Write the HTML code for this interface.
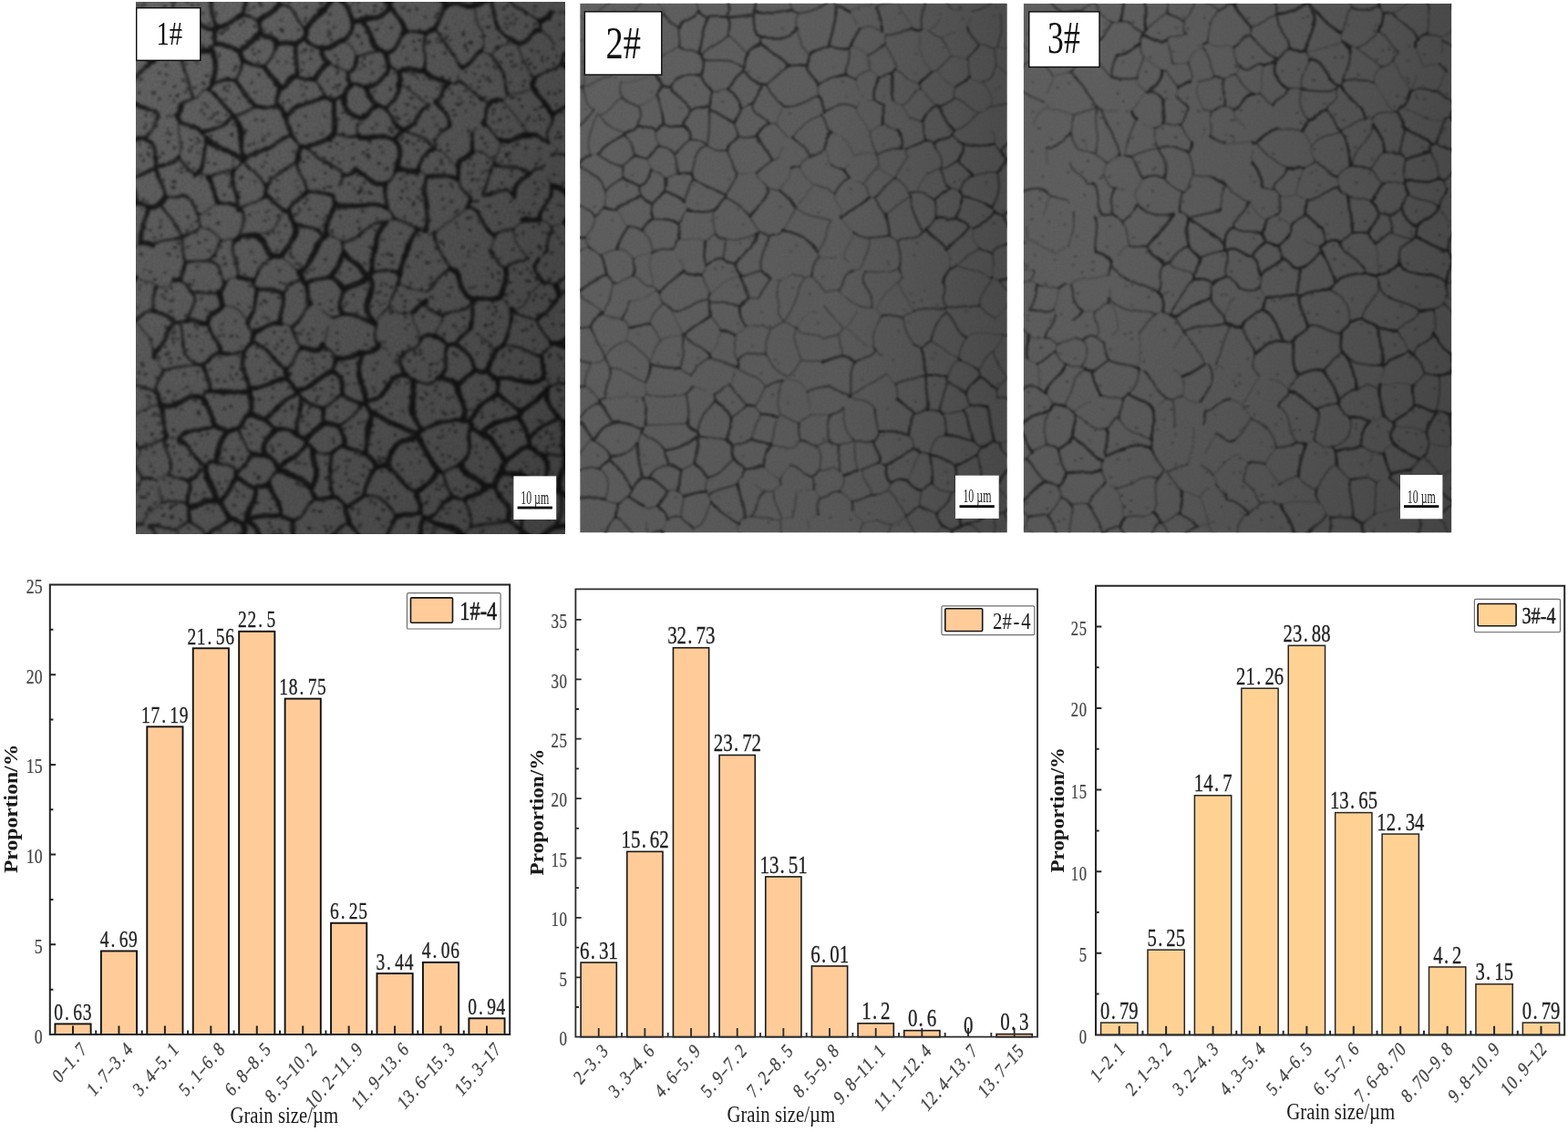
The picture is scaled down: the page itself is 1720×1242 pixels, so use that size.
<!DOCTYPE html>
<html lang="en">
<head>
<meta charset="utf-8">
<title>Grain size distribution</title>
<style>
html,body{margin:0;padding:0;background:#fff}
body{width:1720px;height:1242px;overflow:hidden}
svg{display:block}
text{white-space:pre}
</style>
</head>
<body>
<svg width="1720" height="1242" viewBox="0 0 1720 1242" role="img" aria-label="Micrographs and grain size distribution charts">
<defs>
<filter id="m1b" x="-5%" y="-5%" width="110%" height="110%" color-interpolation-filters="sRGB"><feTurbulence type="fractalNoise" baseFrequency="0.04" numOctaves="1" seed="11" result="t"/><feDisplacementMap in="SourceGraphic" in2="t" scale="8" xChannelSelector="R" yChannelSelector="G"/><feGaussianBlur stdDeviation="1.6"/></filter>
<filter id="m1n" x="0" y="0" width="100%" height="100%"><feTurbulence type="fractalNoise" baseFrequency="0.3" numOctaves="3" seed="3" result="t"/><feColorMatrix type="matrix" values="0 0 0 0 0  0 0 0 0 0  0 0 0 0 0  2.6 0 0 0 -0.8"/></filter>
<filter id="m2b" x="-5%" y="-5%" width="110%" height="110%" color-interpolation-filters="sRGB"><feTurbulence type="fractalNoise" baseFrequency="0.04" numOctaves="1" seed="12" result="t"/><feDisplacementMap in="SourceGraphic" in2="t" scale="6" xChannelSelector="R" yChannelSelector="G"/><feGaussianBlur stdDeviation="1.0"/></filter>
<filter id="m2n" x="0" y="0" width="100%" height="100%"><feTurbulence type="fractalNoise" baseFrequency="0.4" numOctaves="3" seed="4" result="t"/><feColorMatrix type="matrix" values="0 0 0 0 0  0 0 0 0 0  0 0 0 0 0  2.6 0 0 0 -0.8"/></filter>
<filter id="m3b" x="-5%" y="-5%" width="110%" height="110%" color-interpolation-filters="sRGB"><feTurbulence type="fractalNoise" baseFrequency="0.04" numOctaves="1" seed="13" result="t"/><feDisplacementMap in="SourceGraphic" in2="t" scale="6" xChannelSelector="R" yChannelSelector="G"/><feGaussianBlur stdDeviation="1.0"/></filter>
<filter id="m3n" x="0" y="0" width="100%" height="100%"><feTurbulence type="fractalNoise" baseFrequency="0.4" numOctaves="3" seed="5" result="t"/><feColorMatrix type="matrix" values="0 0 0 0 0  0 0 0 0 0  0 0 0 0 0  2.6 0 0 0 -0.8"/></filter>
<linearGradient id="m1h" x1="0" y1="0" x2="1" y2="0"><stop offset="0" stop-color="#000" stop-opacity="0.0"/><stop offset="0.25" stop-color="#000" stop-opacity="0.03"/><stop offset="0.5" stop-color="#000" stop-opacity="0.09"/><stop offset="0.8" stop-color="#000" stop-opacity="0.16"/><stop offset="1" stop-color="#000" stop-opacity="0.24"/></linearGradient>
<linearGradient id="m2h" x1="0" y1="0" x2="1" y2="0"><stop offset="0" stop-color="#000" stop-opacity="0.0"/><stop offset="0.6" stop-color="#000" stop-opacity="0.035"/><stop offset="0.85" stop-color="#000" stop-opacity="0.14"/><stop offset="1" stop-color="#000" stop-opacity="0.22"/></linearGradient>
<linearGradient id="m3h" x1="0" y1="0" x2="1" y2="0"><stop offset="0" stop-color="#000" stop-opacity="0.0"/><stop offset="0.16" stop-color="#000" stop-opacity="0.0"/><stop offset="0.55" stop-color="#000" stop-opacity="0.075"/><stop offset="0.85" stop-color="#000" stop-opacity="0.16"/><stop offset="1" stop-color="#000" stop-opacity="0.23"/></linearGradient>
<linearGradient id="m1v" x1="0" y1="0" x2="0" y2="1"><stop offset="0" stop-color="#000" stop-opacity="0.0"/><stop offset="0.5" stop-color="#000" stop-opacity="0.08"/><stop offset="1" stop-color="#000" stop-opacity="0.17"/></linearGradient>
<linearGradient id="m2v" x1="0" y1="0" x2="0" y2="1"><stop offset="0" stop-color="#000" stop-opacity="0.0"/><stop offset="0.5" stop-color="#000" stop-opacity="0.02"/><stop offset="1" stop-color="#000" stop-opacity="0.06"/></linearGradient>
<linearGradient id="m3v" x1="0" y1="0" x2="0" y2="1"><stop offset="0" stop-color="#000" stop-opacity="0.0"/><stop offset="0.5" stop-color="#000" stop-opacity="0.02"/><stop offset="1" stop-color="#000" stop-opacity="0.08"/></linearGradient>
</defs>
<rect width="1720" height="1242" fill="#fff"/>
<svg x="149" y="2" width="471" height="584" viewBox="0 0 471 584" overflow="hidden">
<rect width="100%" height="100%" fill="#646464"/>
<g fill="none" stroke="#1a1a1a" stroke-linecap="round" stroke-linejoin="round" filter="url(#m1b)">
<path id="m1p0" stroke-width="2.4" opacity="0.5" d="M69.7 188.3Q75.9 188.1 80.4 192.3M445.4 411.1Q453.3 414.8 452.4 423.5M451.1 273.8Q447.8 277.1 444.1 280.1M414.4 250.4Q419.9 245.2 424.4 239.1M414.4 250.4C412.6 262.4 424.9 273.2 429.7 281.4M455.8 246.3Q452.1 239.8 444.7 239.3M388.6 272C391.3 267.8 388.5 261.7 391 256.2M471 56.8Q479.9 56.6 482.5 48.2M47.2 592.6Q47.3 599.8 52.3 605.1M157.9 3.4Q157.3 -1.2 158.6 -5.6M273 243.1Q276.3 239.4 281.1 238.1M242.3 146.8C240.8 141.1 241.5 133.1 245.5 127.8M209.4 68.1C217.4 73.4 227.1 72.5 233.7 77M228.9 42.2C233.2 47 239.4 52.2 243.5 59.9M80.3 96.3C71.8 93.2 69.5 107.7 61.6 105.4M55.8 -16.1C47.6 -14.1 46.2 -4.6 40.9 0.1M34.7 126.8Q40.1 126.1 45.6 125.2M48.9 130.6C46.9 142.9 49.6 156.3 46 171.3M465.5 457.6Q466.1 458.8 467.4 459.4M228.5 191.3Q224.2 196.4 222.5 202.8M225.6 264.8C220.7 263 215.4 257.5 210.5 255.1M164.7 228.8C156.9 248 147.8 254.9 129.2 256.6M110.9 259.7C105.5 256.1 101.3 262.3 94.9 260.9M114.7 301.3C106.1 301 101.6 303.7 97.9 310M367 577.7Q364.6 580.7 362 583.5M244.1 586.5C252.1 586.2 263.5 585.1 274.6 590.3M474.1 10.1Q469.9 10.7 465.8 10.8M459.7 46C457.2 41.1 453.1 32.6 444.9 31.8M461.8 244.8Q458.4 244 455.8 246.3M394.4 176.9C393.6 166.3 401.9 158.8 400.4 151.4M400.4 108.1C416.6 120.8 423.9 137.5 431.1 148.2M408.5 100.8C420.3 101.6 429.5 98.9 434.5 91.5M408.5 100.8Q405 105 400.4 108.1M456.3 201.6Q454.7 197.7 453.7 193.6M391.8 58.2C396.6 49.1 406.2 43.4 418 47.7M391.8 58.2Q385.5 56.4 379.5 53.5M379.5 53.5C389.6 37.2 366.4 22.9 372.1 2.4M438.1 85.4C426.9 72.4 426.6 61.4 418 47.7M405 -7.8Q397.6 -6.1 390.7 -2.9M413.4 335.9C432.8 334.1 431.1 315.1 445.8 306.3M322.1 111.2C309.6 105.2 300.6 95 289 91.9M374.7 139.9Q371.4 142.4 369 145.8M394.7 176.8C386.1 169.6 377.6 161.6 368.2 164M287.6 308.4C298.5 312.1 308.5 314.8 319.3 316.3M365 225.9C354.9 233.3 339.5 240.4 326.5 253.6M40.9 0.1C36.3 5.5 39.4 13.2 35 18.2M90.9 221.1C82.5 225.5 78.4 233.5 68.3 234M94.9 260.9C89.9 255.1 80.7 248.2 70.6 247.1M274.7 380.7Q270.5 377.8 266 375.6M311.3 370.7C310.2 359.1 300.6 352.4 305.1 340.5M305.1 340.5C296.4 342.1 288.1 343.3 278.7 337.9M261.9 350.6Q264.8 343.5 272.4 342.7M330.3 367.8C328.4 359.6 337.4 353.6 336.8 346.2M394.7 382.7C388.4 379.1 383.7 373.9 378.6 367.9M412.4 334.4C406.1 332.7 405.5 324.5 399.6 323.9M159.7 279.6C164.2 285 175.1 288.2 178.7 296.3M27.4 443.2C17 442.6 8.2 444.8 1.3 451.6M20.9 390.2C21.8 370.4 5.2 364 0 349.5M-12.3 348.5Q-6.3 351.5 0 349.5M30.5 403.4C24 400.3 27.7 391.6 22.1 386.8M353.5 181.7C342.4 177.2 338.4 160.1 327.6 159.3M310.1 186.5Q316.3 188.1 320.6 192.8M-9.4 271.9C-6.2 267.5 1.4 271.4 5 265.5M22.9 313.2C29.4 315.5 36.4 313.5 40.5 305.4M9.5 307.4Q17 308.3 22.9 313.2M204.5 376C208.9 369.9 210.4 364.6 212.4 357.4M217.3 345.8Q210.8 343.1 205.7 338.3M170.7 356.5Q164.8 354.6 158.7 353.9M95.3 332.6C107.6 334.4 116 340.3 123.3 351.6M7.6 571.9C9.1 560.7 22.2 556.3 28.6 549.8M4.2 491.6C6.2 497.5 1.2 502.6 -2.3 505.8M35.1 516.5Q31.7 518.5 29 521.3M-8.3 541.1C2.4 538.7 3.4 533 5.7 523.6M28.6 549.8C27 544.4 26 538.7 24.8 533.7M258.3 295.8Q253.9 296.1 249.6 297.1M33.9 478.1Q37.8 480.2 42.1 478.9"/>
<path id="m1p1" stroke-width="3.3" opacity="0.72" d="M-19.4 609C-7.5 599.8 -6.1 582 1.3 572.4M117.7 172.9Q113.7 179 108.2 183.8M80.4 192.3C91.8 189.8 101.2 186.5 108.2 183.8M143.5 203.4C141.9 190.4 121.7 188.4 118.2 171.5M143.5 203.4C148.6 188.8 166.7 182.5 177.4 174.3M72.4 143.5Q75.5 146.7 77.7 150.5M133 112.6C124.8 116.8 116.8 126.4 107.3 126.3M4.6 113.6C-16.3 111.6 -29.2 128.8 -48.7 132M10 148.3C16.2 142.8 23.2 137.6 24.7 128.2M490.8 275.5C484.6 261.1 480 251.1 468.9 242.9M451.1 273.8C449.3 264.2 455.2 255.6 455.8 246.3M388.6 272C395.6 278.2 399.3 287.5 407.1 293M391 256.2C399 250.2 406.7 252.6 414.4 250.4M407.1 293C413.9 286.2 423.3 286.5 429.7 281.4M468.7 66.9C458.1 76.2 447.8 76.2 438.1 85.4M488.7 418.4C477.2 422.4 462.3 414.9 451.1 424.6M446.4 390.7C448.5 384.7 456.1 380.1 456.2 374.5M58.3 568.4C63.9 573.2 77.2 579.4 77.1 590.4M58.3 568.4C55.1 572.7 48.1 576 42.3 580.3M14.1 573.6C23.5 572.2 31 578.7 42.3 580.3M14.1 573.6C26.2 584.4 19.5 600.5 22.7 611.8M187.2 30.3C176.6 23.7 175.8 3.3 157.9 3.4M413.6 214C405.7 196.7 390.3 216.2 379.6 212.1M310.4 249.6C300.4 244.1 290.3 237.6 281.1 238.1M242.3 146.8C233.4 150.8 225.5 145.2 217 144.6M270.2 54.1C262.6 56.2 252.8 54.4 243.5 59.9M207.6 104.2C207.4 97.6 200.8 88.5 197.8 82.9M153.6 46.7C152.9 58.1 145.1 64.5 139.7 70.7M118.5 64.4C117.3 71 111.9 79.8 109.6 86M285.4 185.8C281.6 189.9 279.8 196 273.8 199.6M187.5 159.2C197.1 175.2 216.5 177.3 228.5 191.3M117.8 16.4C124.3 15.7 130.3 19.5 135.2 21.6M48.5 115.3C50.6 110.9 57.3 108.2 61.6 105.4M-4.6 -37.6C11.4 -30.4 29.2 -12 40.9 0.1M-23.1 84.4C-16.4 84.9 -10.2 87.1 -4.1 89.1M65.9 190.4C58.4 187.1 53.7 176.1 46 171.3M447.9 497.9C456.1 495 464.1 502.4 471.7 497.2M460.2 577.3C468.1 562.1 469.5 550.3 467.5 536.9M242 608.6C245 601.7 243.1 595 244.1 586.5M177.4 174.3C173.7 185.5 188.9 194.8 188.6 208.3M273 243.1C251.3 241.9 241.1 264.8 225.6 264.8M281.1 238.1Q280.1 231.6 275.1 227.3M141.4 210.2C135.2 221.8 121.3 219.5 115.5 226.2M115.5 226.2C121 235.9 117 245 114.7 256M152.7 279C138.6 283.9 133.9 293.6 129.1 306.8M110.9 259.7C99.7 276.1 113.6 286.1 114.7 301.3M94.9 260.9C88.5 265.6 87.2 279.4 79.8 284M79.8 284C93.8 286.7 90.3 301.3 97.9 310M407.7 568.7C397.2 575.1 379.1 569.8 367 577.7M250.1 541.5C265.1 541.2 280.2 552.4 286.7 562.9M359.7 546.3C364.2 557.9 369.6 565.9 367 577.7M479.8 2Q476.7 5.9 474.1 10.1M444.9 31.8Q444.7 27 443.6 22.3M405 -7.8C416 6.8 429.3 13.7 443.6 22.3M394.4 176.9C408.3 183.8 420.2 176.4 431.1 187.5M431.1 187.5C435.5 182.5 443.9 181.5 449 179.4M380.4 134C390.8 134.3 389.4 148.8 400.4 151.4M458.5 125.3C459.8 135.9 448 141.3 452.2 153.3M488.4 169.6C479.4 170.1 466.2 162 456.3 168.7M379.6 212.1C384.2 200.1 388.7 188.7 394.7 176.8M408.5 100.8C405.1 88.1 401.1 69.4 391.8 58.2M354.2 87.3C369.3 92.6 374.9 108.5 387.6 111.3M357.7 73.4C346.9 56.7 342.4 45.2 327.7 29.6M486.8 281.2C480.1 294 471.9 303 461.8 310.1M445.8 306.3C449.6 308 456 306.4 461.8 310.1M413.4 335.9C419.2 341.7 429.6 347.4 439.2 349.3M456.2 374.5C450.5 364.9 441.4 360.3 439.2 349.3M1.3 572.4Q4.4 571.9 7.6 571.9M277.4 70.9Q284.4 72.3 288.5 78.1M315.6 73.1C319.3 58.8 312.4 49.9 317.2 35.8M354.2 87.3Q349 91.3 342.7 89.5M326.5 253.6C327.3 266.2 340.2 281.2 345.1 292.8M310.4 249.6Q314 252.3 318.4 252.7M319.3 316.3C328.3 310.7 334.5 298.6 345.1 292.8M50.6 58.1C43.7 60.6 37.9 50.9 29.9 50.8M29.9 50.8C25.3 42.7 32.1 34.8 28.1 25.2M83.4 54.8Q82.9 49.5 87.6 47M28.1 25.2Q32.1 22.3 35 18.2M61.6 105.4C59 90.5 51.4 77.4 50.6 58.1M-9.4 16.3C6 11 15.8 10.9 28.1 25.2M51.5 210.9C61 214.4 63.1 227.8 68.3 234M56.3 285.7C64.7 284.5 70.7 284.5 79.8 284M56.3 285.7C50.7 275.6 49.8 269.5 50.2 258.3M50.2 258.3C56.7 253.6 64.9 255.3 70.6 247.1M68.3 234Q71 240.3 70.6 247.1M51.5 210.9C46 216.1 38.7 211.2 33.6 213.4M289.9 389.6C297.1 381.9 309.4 379.8 311.3 370.7M266 375.6C259.6 366.9 263.1 357.6 261.9 350.6M336.8 346.2C332 340.1 317.8 342.7 319.2 328.4M287.6 308.4C284.7 315.9 281 326.3 278.7 337.9M297 409.8Q301.2 411.9 304.3 415.5M253.6 439.7Q254.2 441.3 253.5 442.9M215.2 495C208.5 494.2 200.8 497.1 195.5 492.5M308.6 473Q307.8 474.6 308.3 476.3M304.3 415.5C312.2 416.5 324 425.4 333.8 411.8M446.4 390.7C431.6 391.9 418.8 372.8 403.2 377.3M336.8 346.2C344.5 334.1 361.2 340.4 369.7 328.8M80.4 426.2Q75.1 429.8 74.6 436.2M68.6 398.8C56 399 44 400.6 30.5 403.4M30.5 403.4C25.9 411.2 16.9 421.9 24.5 431.3M24.5 431.3C9.3 420.7 -20.1 414.8 -36.2 413.1M187.6 612.1C181 603.5 172.6 597.8 172.9 587.7M198.4 544.6C187.9 549.2 186.8 566.3 172.9 569.4M366.8 219.4C367.6 210.9 356 203.9 353.3 194.9M344.2 138.9C337.2 143.4 327.9 146.2 327.6 159.3M294.8 139.6C304 148.4 318.3 146.2 326.6 159.9M27.1 221.1C32.7 232 47.3 242.8 49.9 258M49.9 258C38.5 264.1 27.1 258.1 17.2 268.2M22.9 313.2C18.3 322.2 20.9 331.4 19 338.1M60.6 316.1C58 308.4 53.7 307 46.4 304.5M60.6 316.1C73.8 329.9 57.7 335.5 55.9 348.3M55.9 348.3Q52.3 351.3 47.6 351.3M43.8 352.1Q45.8 352.1 47.6 351.3M0 349.5C6.6 344.6 10.5 339.1 19 338.1M91.5 319.8C82.8 315.3 70.2 324.2 60.6 316.1M68.6 398.8C43.6 389.1 56 364.3 47.6 351.3M249.1 441.8C238.3 447.4 234.8 463.6 222.8 466M226.7 429.8C217.2 432.2 215.3 440.7 205.9 445.5M178.9 428.8Q177.4 427.2 175.3 426.3M204.5 376C208 380.8 217.3 382.1 219.7 391.4M226.8 342.3Q222.3 344.7 217.3 345.8M170.7 356.5C174.2 363.3 175.9 375.5 182.4 379.5M170.7 356.5C183.3 349.5 182.6 337.7 193.5 330.4M348.9 543.6C343.2 538 339.7 527.8 336.7 517.6M309.7 560.3Q313.2 563.6 317.8 565.2M359.7 546.3Q353.9 546.5 348.9 543.6M355.8 508.4C349.6 510.9 341.8 511.8 336.7 517.6M123.3 351.6Q125.3 358.4 130.5 363.2M182 303.5C171.3 306.7 163.7 309.5 159.6 320.3M129.1 306.8Q128.5 312.6 133.6 315.4M182.4 379.5C173.8 384.2 174.7 400.5 165.4 404M56.9 550.3C47.3 545.9 36 551.8 28.6 549.8M4.2 491.6C13.6 488.1 22.6 484.7 32.2 478.9M32.2 478.9C30.6 490.6 40.3 501.7 35.1 516.5M-2.3 505.8C-3.1 512.5 3.5 516.2 5.7 523.6M5.7 523.6C11.2 524.3 19 522.2 23 526M-23.3 466.1C-12.8 471.8 -3 484.3 4.2 491.6M-25.5 511.8C-18.3 506.4 -10.2 511.4 -2.3 505.8M55.8 524.4C48.8 523.1 42.1 522 35.1 516.5M249.6 297.1Q252.4 297.3 254.8 298.6M225.6 264.8Q225.3 270.5 229.1 274.8M109.8 470C118.1 479.3 117.8 493.5 129.2 496M89 504.5C96.7 506.9 108.1 506.6 112.3 517.5M155.8 515.6Q147.7 518.9 146.1 527.4"/>
<path id="m1p2" stroke-width="4.4" opacity="0.85" d="M69.7 188.3C76.6 174.4 73.8 160.6 77.7 150.5M169.6 146C174.2 150.5 178.9 155.5 181.1 160.3M169.6 146C154.6 155.8 140.5 164.8 119.4 171.9M72.4 143.5C87.9 143.3 99 132.3 107.5 125.4M118.2 171.5Q118.1 172.3 117.7 172.9M109.6 86C116.1 97.8 122.5 103.3 133 112.6M109.6 86C102.2 83.2 93.5 86.6 84.8 89.9M107.5 125.4C100 116.8 91.2 106.8 80.3 96.3M84.8 89.9Q83.7 93.9 80.3 96.3M-24.9 161.3C-9.9 163.2 -4.5 148 10 148.3M4.6 113.6C11.3 115.6 25.5 116.5 24.7 128.2M432.8 479.2C440.6 463.6 452.6 464.7 465.5 457.6M395.8 428.8C404.6 432 411.6 441.5 422.5 449.2M468.9 242.9C473.7 237.5 474.9 231.4 483.6 230.7M468.7 66.9C477.1 75.7 483.4 91.7 496.2 101.1M458.5 125.3C471.2 112.1 486 107.2 496.2 101.1M468.7 66.9Q469.7 61.8 471 56.8M446.4 390.7C447.6 396.1 445.9 404.7 445.4 411.1M153 -16.9Q155.1 -10.9 158.6 -5.6M391 256.2C377.4 247.4 385.4 229.2 365 225.9M365 225.9Q363.6 222 366.8 219.4M288.5 301C279.2 290 267.1 293.4 258.3 295.8M216.4 107.2Q221.9 104.9 227.6 103.7M243.5 59.9C243.4 66.2 240.5 73 233.7 77M237.1 19.8C237.2 28.6 234.9 37.9 228.9 42.2M185.7 39.5C191.1 46 196.2 51.3 205.2 50M207.6 104.2C190.8 110.1 177.7 112.5 165.4 127M197.8 82.9C191.8 83.5 181.2 86.2 175.6 82.3M156.7 96.4C155 100.5 153.9 106.9 155.1 112.9M236.7 91.6Q233.5 84.7 233.7 77M169.6 146C168.9 139.7 165.5 133 165.4 127M181.1 160.3Q183.7 156.3 187.5 159.2M176 46C172.3 59.1 180.4 68.4 175.6 82.3M118.5 64.4C123.8 67.1 132.7 71.1 139.7 70.7M133 112.6C138.8 113.6 148.2 116.2 155.1 112.9M245.3 149Q244.6 146.9 242.3 146.8M240.9 183.9Q236.4 190.6 228.5 191.3M115.3 -23.7C119.4 -9.4 122.9 2.1 117.8 16.4M136.8 33.3Q135.8 27.5 135.2 21.6M72.4 143.5C65.7 133.6 55.5 135.6 48.9 130.6M45.6 125.2Q47 128 48.9 130.6M45.6 125.2Q49.6 121 48.5 115.3M81 -7.9C82.1 4.6 82.3 14.4 91.7 26.7M-18.8 50.6C-6.5 45.7 3.5 60.7 14.8 65.4M14.8 65.4C10.3 76.3 -0.1 78.8 -4.1 89.1M4.6 113.6C-6.9 108.4 -8.5 98.4 -4.1 89.1M10 148.3C27.1 155.5 21 167.8 22 182.9M22 182.9C28.4 179 41 179.9 46 171.3M69.7 188.3Q67.5 188.7 65.9 190.4M439 588.4C448.6 596.9 451.8 605 453.2 615M467.5 536.9Q467.8 538.2 468.8 539.1M422.5 580.1C422 565.7 424.1 540.6 443.9 533.6M469.1 461C473.2 471.6 462.3 488.2 473.2 498.2M473.2 498.2C497.7 491.8 518 497.7 539.5 502.9M471.7 497.2Q472.2 498.1 473.2 498.2M250.1 541.5C243.8 544.5 237.2 550.4 230.3 553.2M250.1 541.5C249.6 531.1 259.7 516.9 264.8 508.7M216.8 543.7C223.8 544.4 226.1 547.9 230.3 553.2M216.8 543.7C215.1 525.9 205.9 513.6 215.2 495M215.2 495Q220.8 489.6 228.5 488M228.5 488C235.4 493.3 245.3 493.2 251.2 495.4M187.6 612.1C200.3 595.1 216.1 579.5 233.5 572.1M233.5 572.1C236.9 578.3 243 581.3 244.1 586.5M108.2 183.8C97.8 197.6 116.1 207.5 110.8 222.3M110.8 222.3C103.2 217.8 96.1 222.3 90.9 221.1M273.8 199.6C275.3 207.7 277.1 219.7 275.1 227.3M217.2 222.2Q215.6 217.8 217 213.5M217 213.5C208 212.4 198.8 209 188.6 208.3M141.4 210.2C147.4 218.4 158.2 224.3 164.7 228.8M143.5 203.4Q142.4 206.8 141.4 210.2M110.8 222.3Q112.6 224.9 115.5 226.2M188.6 208.3C185.4 217.4 167.2 217.8 169.8 230.9M169.8 230.9Q167.2 230 164.7 228.8M422.5 580.1C416.4 576.1 411.7 573.2 407.7 568.7M286.7 562.9C283 571.2 278 582.6 274.6 590.3M355.8 508.4C372.4 499.5 360.6 482.5 367.2 468.9M367.2 468.9Q373.2 470.8 378.8 473.8M407.7 568.7C412.6 553.5 396.6 545.9 394.1 530.3M479.8 2C474.8 -18.4 473.5 -30.6 461.2 -46.8M485.8 35.3C484.3 24.5 478.7 17.9 474.1 10.1M444.7 239.3C444.9 227.4 453 214.9 456.3 201.6M431.1 148.2C439.5 144.9 444.9 152 452.2 153.3M380.4 134C386.7 126.2 379.1 118.2 387.6 111.3M387.6 111.3Q393 105.6 400.4 108.1M413.6 214C415.5 203 421.5 195.8 431.1 187.5M418.5 45.9C395.9 33.2 388.4 19.7 390.7 -2.9M372.1 2.4Q377.2 3.1 381.5 0.4M390.7 -2.9Q386.4 -0.4 381.5 0.4M357.7 73.4C367 70.6 368.4 58.3 379.5 53.5M327.7 29.6C331.5 22.7 335.8 11.4 340.3 6.1M444.9 31.8C434.2 32.5 429.4 48.6 418.5 45.9M379 -2.3Q381.3 -1.9 381.5 0.4M440.7 283.2C433.7 292 439.4 300 445.8 306.3M439.2 349.3C445.9 340.4 459.9 331.9 466.1 319.3M294.8 139.6C310.5 135 308.6 118.4 322.1 111.2M294.8 139.5C283.2 134.2 282.9 125.7 274.5 117.7M289 91.9C292.2 105.7 280.4 110.9 274.5 117.7M236.7 91.6C242.2 88 247.3 93.7 252.1 93.3M274.5 117.7Q270.5 114.2 265.2 113.6M273.8 56.2C287.7 54.8 287.7 41.2 294.5 33.8M317.2 35.8C309 32.4 302.9 32.1 294.5 33.8M252.1 93.3C264.6 92.7 275.3 87.2 277.4 70.9M342.7 89.5C336 95.5 337.2 103.5 329.7 109.4M368.2 164C367.8 157.5 367.7 152.2 369 145.8M329.7 109.4C336.5 119.7 345.1 126.4 344.2 138.9M288.5 301Q288.9 304.8 287.6 308.4M88.3 28.5C69.4 33.2 58.9 5.8 35 18.2M18.4 64.9C19 58.5 25.7 56.6 29.9 50.8M91.7 26.7Q90 27.6 88.3 28.5M22 182.9Q21.5 183.4 20.8 183.9M20.8 183.9C22.1 195.6 35.7 203.7 33.6 213.4M20.8 183.9C10.4 189.2 -2 191.5 -11.1 190.5M-11.1 190.5C-5.5 199.3 0.3 209.9 0 220.8M-0.3 303.2C-8.6 298.9 -8.9 285.5 -13.7 279.9M330.3 367.8C323 367.6 316.4 362.9 311.3 370.7M258.9 452.1Q255.9 447.7 253.5 442.9M297 409.8C293 403.8 290.7 395.9 289.9 389.6M371.5 403.3C368.7 391.5 360.8 381.2 351 376M333.8 411.8C344.1 399.6 337.2 386.9 341.8 375.5M341.8 375.5Q346.5 374.7 351 376M358.4 458.9C339.4 458 329.2 461.4 311.5 468.9M330.3 367.8Q337.4 369.7 341.8 375.5M403.2 377.3Q398.8 379.7 394.7 382.7M403.2 377.3C410.8 361.5 415 351.6 412.4 334.4M368.3 358.4C370.6 348.4 370.8 340 369.7 328.8M413.4 335.9Q413.1 335 412.4 334.4M351 376C356.4 367.7 363.5 366 368.3 358.4M174.1 241.8C185.6 251.7 201.6 244.6 207.1 258.2M152.7 279Q156.1 279.9 159.7 279.6M169.8 230.9Q171.7 236.5 174.1 241.8M73.9 397.4Q71.2 398.1 68.6 398.8M73.9 397.4C75.3 406 81.4 414.1 80.4 426.2M26.4 443.4Q25.6 437.3 24.5 431.3M20.9 390.2Q21.4 388.5 22.1 386.8M141.8 592.8C148.2 582.3 161.6 590.8 172.9 587.7M172.9 587.7C169.1 582.3 172.9 576.1 172.9 569.4M353.3 194.9Q354.3 188.3 353.5 181.7M353.3 194.9C344 192.5 333 189.7 320.6 192.8M310.1 186.5C313.7 176.7 313.1 165.8 326.6 159.9M326.6 159.9Q327 159.4 327.6 159.3M318.4 252.7C325.4 232.2 313 207.6 320.6 192.8M14.7 225.2C14.9 236.9 1.9 253.5 5 265.5M0 220.8Q8.1 220.5 14.7 225.2M19 338.1C27.1 339.2 36 344.3 43.8 352.1M46.4 304.5Q43.6 306 40.5 305.4M22.1 386.8C31 375.3 31.9 361.5 43.8 352.1M56.3 285.7C52.7 291.4 53.8 300.8 46.4 304.5M97.9 310Q96 315.8 91.5 319.8M79.3 351.7C72.5 355.4 63.2 346.7 55.9 348.3M73.9 397.4C80.1 392.4 81.5 385.3 91.7 384M79.3 351.7C82.2 363.7 95 371.7 91.7 384M249.1 441.8C242.6 438.6 233 436.7 226.7 429.8M253.5 442.9Q251.5 441.4 249.1 441.8M177.3 475.4C176.8 461.7 181.8 450.1 180.9 432.9M180.9 432.9C187.5 440.9 196.2 442.4 205.9 445.5M195.5 492.5Q192.2 487.3 187.1 483.8M219.7 391.4C218.1 396.9 217.7 401.4 215.2 406.3M180.9 432.9Q180.5 430.6 178.9 428.8M261.7 351.3C251 349.5 240.8 344.3 226.8 342.3M348.9 543.6C335.3 544.3 332.8 565.4 317.8 565.2M336.7 517.6Q333.5 516.6 331.8 513.7M315.8 564.7Q316.9 564.9 317.8 565.2M274.2 507.1C283.9 514.2 290.7 530.5 308.4 538M158.7 353.9C157.2 344.6 161.2 331.2 159.6 320.3M159.6 320.3C153.3 312.5 142.3 316.7 133.6 315.4M133.6 315.4C134.5 326.6 126.3 337.3 123.3 351.6M185.2 309.2C189.5 314.7 188.3 324.4 193.5 330.4M118.2 383.4Q121.1 377.1 127.4 374.4M118.2 383.4C113.3 397.4 125.8 412.9 124.7 424M127.4 374.4C146 374.8 149 395.4 165.4 404M91.7 384C98.4 387.4 108 383.2 118.2 383.4M124.3 427.8Q124.1 425.9 124.7 424M58.3 568.4C61.1 564.6 54.8 558 59.8 553.1M33.9 478.1Q33.1 478.6 32.2 478.9M33.9 478.1C28.7 468.5 30.5 456.9 27.4 443.2M56.9 550.3C56.7 541.5 67.8 531.6 55.8 524.4M226.8 342.3C218.8 331.7 227.8 323.7 227.6 315.1M185.2 309.2C194 302.9 203.8 304.6 214.1 301.9M77.1 590.4C82 581.1 97.1 576.3 102.9 566.5M117.6 570.7Q120.5 570.4 123.2 569.5M178.9 428.8C166.9 439.1 151.6 443.8 143.6 459.1M143.6 459.1Q147.9 463.8 152.7 468M84.7 463.7C74.8 471.1 55 465.2 47.2 479.4M89 504.5Q79.2 502.2 75.8 511.6M47.2 479.4C63.5 486.2 61.3 502.6 75.8 511.6M129.2 496C120.5 501.5 119.1 512.3 112.3 517.5M55.8 524.4C63.9 524.9 68.1 512.6 75.7 512.6"/>
<path id="m1p3" stroke-width="5.6" opacity="0.92" d="M279 0.8C285.5 -10.7 296.4 -15.6 305.8 -20.6M279 0.8C263.9 -5 249.2 -17.4 242.1 -35.4M237.1 19.8Q242.3 21.1 247.4 19.4M237.1 19.8C233.5 7.3 228.6 -0.7 219.3 -5.4M279 0.8Q278.8 2.1 278.8 3.5M278.8 3.5C273.6 14.9 261.3 18.6 247.4 19.4M219.3 -5.4Q219.7 -11.2 218.2 -16.8M77.7 150.5C84.5 162.5 106.4 158.7 117.7 172.9M119.4 171.9Q118.8 171.8 118.2 171.5M177.4 174.3Q177.8 166.9 181.1 160.3M119.4 171.9C115 155 118.6 142.2 107.3 126.3M432.8 479.2C428.3 469.1 422.2 462.3 419.8 454.6M419.8 454.6Q421.1 451.9 422.5 449.2M422.5 449.2C434.3 441.2 444.8 435.9 452.4 423.5M465.5 457.6C460.3 449.3 449.1 436.8 451.1 424.6M451.1 424.6Q452 424.3 452.4 423.5M396.8 414.2C412 409.2 429.2 422.7 445.4 411.1M396.8 414.2Q397.6 421.6 395.8 428.8M424.4 239.1C430.2 238.4 437.5 242.2 444.7 239.3M438.1 85.4Q435.2 87.8 434.5 91.5M434.5 91.5C440.6 106.9 454 114.9 458.5 125.3M391.1 -78.6C377.9 -50.2 390.2 -24.1 379 -2.3M379 -2.3C376.8 -25.9 347.2 -45.7 343.4 -76.2M494.6 392.1C489.7 372.8 472.6 383 462.9 374.3M456.2 374.5Q459.5 372.8 462.9 374.3M187.2 30.3C197 18 206.2 3.9 219.3 -5.4M206.8 -17.3C192.3 -20.7 175.1 -19.7 158.6 -5.6M288.5 301C289.9 283.6 301.5 265.7 310.4 249.6M258.3 295.8C261.1 276.8 263.7 254.8 273 243.1M245.5 127.8C233.4 123.4 227.4 116.9 227.6 103.7M217 144.6C218.8 131.6 217.2 121.9 216.4 107.2M205.2 50C201.5 56.2 202.1 64 209.4 68.1M205.2 50C213.9 53.9 219.1 43.4 228.9 42.2M187.2 30.3Q189.3 35.4 185.7 39.5M247.4 19.4C256.8 30 251.8 47.1 270.2 54.1M175.6 82.3C166.1 83.2 165.8 97.8 156.7 96.4M165.4 127C165.2 119.7 159.1 115.5 155.1 112.9M236.7 91.6Q231.9 97.5 227.6 103.7M216.4 107.2Q211.4 107.4 207.6 104.2M209.4 68.1C204 71.3 200.9 77.5 197.8 82.9M187.5 159.2C198.5 151.9 210.1 157.6 217 144.6M176 46Q181.1 43.1 185.7 39.5M176 46C169.8 46.6 162.3 42.8 153.6 46.7M139.7 70.7C144 78.5 155.8 87.5 156.7 96.4M284.6 151.8C291.7 161.5 288.2 176.6 285.4 185.8M284.6 151.8C275.2 144 255.6 150.2 245.3 149M273.8 199.6C259.1 200.5 250.2 188.6 240.9 183.9M118.5 64.4Q116.3 60 114.1 55.6M153.6 46.7C151.8 36.8 139.9 38.9 136.8 33.3M114.1 55.6C125 48.7 128.2 36.3 136.8 33.3M157.9 3.4C152.2 11.6 144.5 14.5 135.2 21.6M117.8 16.4C108.4 19.7 103.3 26.3 91.7 26.7M18.4 64.9Q16.6 65.2 14.8 65.4M439 588.4C445 585.2 451.9 579.8 460.2 577.3M460.2 577.3C469.1 576.4 480.5 571.9 488.8 579.4M447.9 497.9C453.2 512 450.3 520.6 444 533.2M471.7 497.2C474 513.3 460.2 522.6 468.8 539.1M443.9 533.6C451.8 534 459.4 539.2 467.5 536.9M424.8 581.8Q423.4 581.3 422.5 580.1M424.8 581.8C429.9 584.7 434.7 588.3 439 588.4M499.6 543.3C490.3 545.9 477.2 545 468.8 539.1M469.1 461C486 464.9 511.4 458.2 529.2 454.4M433.8 485.7C439.3 489.9 443.1 495.4 447.9 497.9M433.8 485.7Q432.9 482.5 432.8 479.2M264.8 508.7C263.7 503 258.1 498.9 251.2 495.4M80.4 192.3C87.3 202.5 83.7 215 90.9 221.1M275.1 227.3C260.8 216.6 238.1 228.2 217.2 222.2M217.2 222.2C214.9 230.7 208 241.6 210.5 255.1M129.2 256.6Q122 254.8 114.7 256M152.7 279C141.6 278.5 143.9 259.4 129.2 256.6M110.9 259.7Q113.2 258.2 114.7 256M114.7 301.3Q122.1 303.6 129.1 306.8M424.8 581.8C417.4 591 404.3 596 402.3 608.6M359.8 609.7C359.8 602.9 354.2 594.7 359.5 586.3M233.5 572.1C234.8 565.3 228.3 559.9 230.3 553.2M359.5 586.3C351.2 571.2 327.1 575.4 315.8 564.7M315.8 564.7C309.8 577 309.4 592.7 309.9 603.3M401.5 516.8Q396.1 522.6 394.1 530.3M401.5 516.8Q402.3 509.7 405.2 503.1M405.2 503.1C397.5 494.2 393.1 475.2 378.8 473.8M382.8 530.9C374.5 519.9 360.8 522.4 355.8 508.4M382.8 530.9Q388.5 530.9 394.1 530.3M444 533.2C434.3 519 417.5 520.1 401.5 516.8M433.8 485.7C421.3 487.7 413.1 496.7 405.2 503.1M419.8 454.6C405.9 460.8 390.1 462.4 378.8 473.8M359.7 546.3C368.2 539.3 376.5 541.1 382.8 530.9M395.8 428.8C381.7 438 374.5 447.3 364.6 460.4M364.6 460.4Q368 464 367.2 468.9M443.6 22.3Q450.2 18.3 454.4 11.7M483.2 225.2C473.3 221 473 202.9 456.3 201.6M431.1 148.2C420.3 143.3 412.1 155.5 400.4 151.4M340.3 6.1C349.5 -3.6 360.4 8.4 372.1 2.4M318.3 -18.9C321.1 -4.1 343.2 -7.8 340.3 6.1M462.9 374.3C476.1 370.8 482.9 358.1 490.2 344.2M461.8 310.1Q465.3 314.1 466.1 319.3M245.5 127.8C255.2 128.4 254.8 115.4 265.2 113.6M252.1 93.3C255.3 101.5 259.2 109.3 265.2 113.6M284.6 151.8C285.4 146.1 292.2 145.1 294.8 139.5M273.8 56.2Q276.4 63.4 277.4 70.9M288.5 78.1C298 69.4 307.8 75.9 315.6 73.1M278.8 3.5C285.2 11 294.9 23.7 294.5 33.8M270.2 54.1Q271.5 56 273.8 56.2M289 91.9Q290.8 84.9 288.5 78.1M342.7 89.5C333.9 86.1 321.1 82.9 315.6 73.1M327.7 29.6Q322 31.9 317.2 35.8M351.9 297.2Q349 294.3 345.1 292.8M50.6 58.1C60 52.3 71.1 53.4 83.4 54.8M88.3 28.5C88.6 33.6 86 40.7 87.6 47M84.8 89.9C86.2 78.7 85.9 66.6 83.4 54.8M114.1 55.6C106.8 52.2 99.7 44.8 87.6 47M-19.1 226.2C-14.2 221.8 -6.4 224.1 0 220.8M-22.5 332C-15.4 321.5 -7.9 314.9 -0.3 303.2M319.2 328.4C311.8 330 310.8 336.8 305.1 340.5M297 409.8C275.2 409.1 276.9 438.4 253.6 439.7M304.3 415.5C303.9 434.4 296.1 450.1 311.5 468.9M311.5 468.9Q309.7 470.7 308.6 473M258.9 452.1C274.8 457.7 291.2 471.6 308.6 473M266 375.6C261 382.6 255.9 384.9 247.6 386.1M253.6 439.7C251.7 423.1 238.2 407.1 247.6 386.1M216.8 543.7C209.9 545.1 203.2 546.8 198.4 544.6M198.4 544.6Q195.5 539.2 193.2 533.6M195.5 492.5C192 503 202.6 522 193.2 533.6M264.8 508.7Q269.3 506.6 274.2 507.1M251.2 495.4C249.8 480 257.4 466.5 258.9 452.1M308.3 476.3C292.4 481.8 282.4 489 274.2 507.1M371.5 403.3C366.6 410.4 357.6 415.4 352.1 421.8M352.1 421.8C348.9 416.2 340 411.5 333.8 411.8M358.4 458.9C364 444.7 352.5 436.2 352.1 421.8M358.4 458.9Q361.1 461.1 364.6 460.4M396.8 414.2Q390.3 409.9 386.6 403.1M386.6 403.1Q379.1 407.9 371.5 403.3M399.6 323.9C391.5 330.2 383.1 326.4 372.6 325.4M372.6 325.4Q371.6 327.5 369.7 328.8M386.6 403.1C389.4 397.7 391.1 388 394.7 382.7M407.1 293C407.1 303.6 403.6 314 399.6 323.9M351.9 297.2C358.9 304.7 356 326 372.6 325.4M159.7 279.6C167 268.3 179.5 258.4 174.1 241.8M178.7 296.3C197.2 291.2 194.3 266.8 207.1 258.2M210.5 255.1Q209.5 257.4 207.1 258.2M74.6 436.2C58.3 430.5 45.3 446.9 26.4 443.4M368.2 164C360.6 169.4 353.7 170.6 353.5 181.7M285.4 185.8C292.6 180 301 188.9 310.1 186.5M14.7 225.2Q22.1 226.8 27.1 221.1M17.2 268.2Q11.6 264.7 5 265.5M33.6 213.4Q31.2 218 27.1 221.1M91.5 319.8Q94.4 325.9 95.3 332.6M95.3 332.6C93.2 339.2 80.5 341.3 79.3 351.7M205.9 445.5C207.6 450.5 204.5 456.2 206.5 461.4M206.5 461.4C211.1 462.9 218.8 462.6 222.8 466M228.5 488C230.2 481.2 227.4 472.3 222.8 466M185.3 479.8C190.6 474.2 202.9 468 206.5 461.4M185.3 479.8Q181.2 477.8 177.3 475.4M185.3 479.8Q187.2 481.3 187.1 483.8M247.6 386.1C239.8 385.7 230.9 391 219.7 391.4M226.7 429.8C227.9 418.9 221.5 410.9 215.2 406.3M215.2 406.3C203 408.2 192 424.1 175.3 426.3M204.5 376C200.4 386.7 190.3 379.1 182.4 379.5M331.8 513.7C328.8 524.8 316.2 530.5 308.4 538M308.4 538C305.2 545 314 551.4 309.7 560.3M308.3 476.3C317.7 489 321.3 502.6 331.8 513.7M286.7 562.9C293.7 558.9 303.9 564.3 309.7 560.3M158.7 353.9C148.3 351 139.5 358.6 130.5 363.2M182 303.5Q181.8 307.3 185.2 309.2M182 303.5Q179.7 300.2 178.7 296.3M124.7 424C138 422 150.9 413 166.2 413.8M166.2 413.8Q164.6 409 165.4 404M130.5 363.2Q129.3 368.9 127.4 374.4M124.3 427.8C109.5 433.5 93.4 423.9 80.4 426.2M175.3 426.3C172.3 421.8 171 416.9 166.2 413.8M59.8 553.1Q58.1 552 56.9 550.3M227.6 315.1C224.2 309.2 221 305.3 214.1 301.9M227.6 315.1C235.3 310.1 248.1 311.1 254.8 298.6M214.1 301.9C221.5 295.4 223 281.1 229.1 274.8M229.1 274.8C233.9 282.2 246.8 287.9 249.6 297.1M261.7 351.3C242.8 334.1 264.8 312.6 254.8 298.6M111.2 607.5C109.3 592.8 125.8 583.7 117.6 570.7M102.9 566.5Q111.2 565.4 117.6 570.7M141.8 592.8C135.4 587.1 132.6 576.3 123.2 569.5M124.3 427.8C122.7 437 127.9 443.3 125.9 452.2M125.9 452.2C131.4 455.1 136.9 458.2 143.6 459.1M177.3 475.4C171.9 469.9 163.3 466.8 152.7 468M74.6 436.2C82 443.4 80.6 455.3 84.7 463.7M125.9 452.2C117.6 456.7 120 466.7 109.8 470M109.8 470Q104.8 470.3 100.2 472.2M84.7 463.7C90 466.8 94.8 467.7 100.2 472.2M187.1 483.8C181.6 495.9 163.7 506 153.9 514.3M193.2 533.6C179.9 522.8 168.9 517.8 155.8 515.6M153.9 514.3Q154.8 515 155.8 515.6M152.7 468C148.5 478.9 135.4 485.8 143.8 496.8M153.9 514.3C153.4 506 150.3 501.2 143.8 496.8M143.8 496.8Q136.5 496.4 129.2 496M88.4 547.1C89.5 535.2 74.2 524.4 75.7 512.6M88.4 547.1Q90.2 547.8 92.1 548.1M92.1 548.1C98.7 540.2 104.6 528.1 112.4 524.1M112.3 517.5Q111.7 520.8 112.4 524.1M75.7 512.6Q75.9 512.1 75.8 511.6M100.2 472.2C92 481.5 90.5 491.6 89 504.5M59.8 553.1C67.9 551.1 80.4 546.9 88.4 547.1M102.9 566.5C99.6 561.9 95.3 553.4 92.1 548.1M146.1 527.4C140.6 531.8 133.6 527.3 129.7 532.7M146.1 527.4C150.9 537.4 161.6 552.2 158.4 563.6M129.7 532.7C132.5 547.7 122.7 554.3 123.3 568.7M158.4 563.6C147.3 565.8 133.1 560.2 123.3 568.7M112.4 524.1C118.5 526.2 123.4 533.3 129.7 532.7M172.9 569.4C167.7 567.9 162.4 565 158.4 563.6"/>
<use href="#m1p1" stroke-width="4.6" opacity="0.8" stroke-dasharray="6 23 3 31 9 17"/>
<use href="#m1p2" stroke-width="5.8" opacity="0.9" stroke-dasharray="8 21 4 37 11 29"/>
<use href="#m1p3" stroke-width="6.8" opacity="0.9" stroke-dasharray="5 19 12 33"/>
<path d="M267 251.6h0.4M163.9 363h0.3M412 498.8h0.3M377.9 107.9h1.1M73 403.9h1.4M463.9 387.4h0.5M186 162.3h1.4M141 327.7h0.7M65.3 224.7h1.1M194.8 396.7h0.9M36 426.3h1M377.7 87h1.4M408.7 527.4h1.4M292.6 216.8h0.4M329 368.8h1M3.1 552.3h0.7M33.1 577.7h1.1M246.4 446.6h1.2M314 205.1h0.7M315.4 84h0.5M92.7 268.8h1M237 449.8h1.4M41.8 94h1.1M166.1 381.8h0.4M66.3 513.1h0.8M58.1 540.2h0.6M38 314.2h0.9M39.3 395.3h0.6M467.2 201.9h1.1M295.4 342.9h0.4M380.7 186.8h0.9M401.3 389.8h0.5M464.9 466h0.9M351.7 178.8h0.7M205.6 177.2h0.7M312.9 277h0.6M292.6 235.1h0.8M328.1 366.5h1.4M153.7 351.4h1.2M152.9 207.4h0.9M439.8 34h1M213.1 415.7h1.3M11.7 492.8h1.4M166.9 424.7h1.3M242.4 191.3h1.4M205.2 205.3h1.1M233.2 37h0.4M264.8 254.7h1M132.7 373h1.3M34 155.6h1.3M321.6 85.1h1M340.9 299.8h0.8M3 99.6h1.2M224.1 233.3h1.3M73.1 12.5h0.7M37.4 104.9h1.1M45.5 514.1h0.7M72.6 162.1h0.5M210.6 160.5h1.2M386.2 292.9h0.6M306.2 52.5h1.3M122.1 3.1h0.6M67.4 49.9h0.5M305.2 198.8h0.8M27.8 321.9h0.5M190.3 62.5h1M43.4 22.3h0.7M236.1 129.1h0.5M41.8 358.9h0.6M90.2 58.5h0.5M381.4 38.2h0.4M201 267.4h0.4M234.1 4.9h0.6M58.9 149.7h1.3M15.4 296.5h1M116.3 151.4h0.5M244.4 463.3h0.7M225.5 531.6h0.8M406.6 554.5h0.8M89.3 316.4h0.4M40.2 539.6h0.6M310.7 179.1h0.4M456.3 480.3h0.9M447.9 309.8h0.7M241 496.7h0.7M153.8 195.9h0.8M423.4 242.8h0.9M321.1 543h1M190.2 305h0.7M381.7 356.5h1.4M299.7 393h0.6M326.8 574h0.7M18 474h0.8M325.1 511.6h1.2M420 326.9h0.8M406.9 446h0.9M388 356.1h0.8M383.8 312.2h1.2M97.8 31h0.6M195.7 294.4h1.3M34.3 145.9h1.1M441.2 125.8h0.4M358.6 462.6h1.1M437.1 72.3h1M323.5 410.5h1.3M11.5 559.5h0.9M81 339.4h0.5M379.2 456.9h1.1M349.3 464.2h0.6M234.7 553.8h1M258.6 471.9h0.6M404.8 320.8h1.2M134.2 65.7h1.4M256.9 484.8h0.5M262.7 250.2h0.5M14.6 250.9h0.6M298 94h1.1M177.5 447.2h0.3M169.4 279.1h1.1M218.1 139h0.9M382.7 81.5h0.5M16.9 515.8h1.1M330.2 488.7h1.2M301.1 528.6h1.2M48.7 568.5h1M316.8 467.9h1.4M438 10.4h0.6M393.9 70.2h0.4M63.4 353.6h1.2M388.5 84.4h0.6M412 318h0.5M192.1 549.9h1.4M388.9 208.9h0.8M120.6 460.1h1M79.8 530.3h1.3M428.3 520.7h0.8M188.2 450.9h0.5M5.9 397.8h0.8M467.9 266.3h1.2M120.1 391.1h0.8M385 487.2h1.1M35 486.1h0.8M46.5 351.9h1.1M323.4 409.9h0.6M211.5 37.4h0.7M329.6 12.9h0.9M67.2 165.8h0.3M345.2 555.7h1.1M60.4 138.1h1.1M68.9 3.1h0.7M461.6 59.7h1.1M68.8 318.4h0.7M245.7 10h1.1M220.5 554.2h1.4M458.7 487.4h1.2M435.7 433.5h0.4M263.5 329.8h0.3M310.5 381.3h0.8M188.8 364.5h0.9M271.4 260.9h0.8M138.6 153h1.3M371.1 219.6h0.4M38.1 527.9h0.6M370.9 342.4h0.6M294.8 341h1.3M8.7 343.3h0.3M240.6 496.8h1.1M104.4 146.1h0.7M421.6 298.5h0.5M28.8 166h1.1M120.2 297.9h0.6M350.4 241.7h1M243.4 384.2h1.4M148.2 471.4h1.2M197.1 266.5h0.9M15.2 168.6h1M228.9 517.6h1.2M396.6 49.2h1.2M349.1 124.1h1.2M120 403.1h1M441.2 512.4h0.6M35.3 275.6h0.4M50.1 446.8h0.6M294.8 390h0.3M271.9 417.4h1.3M74.6 259.4h0.3M118.4 468.4h1.3M190.7 577.5h0.7M73.5 50.5h1.4M83.1 126.3h0.7M138.2 129h0.6M319.7 169.3h0.8M347.5 414.4h0.7M256.1 267.8h0.9M65.8 242.3h1.3M62.3 430.3h0.4M11.1 2.2h0.7M267.9 308h0.3M70.3 232.2h1M306.5 367.7h0.7M202.3 6.2h0.9M436.8 371.1h1.1M175.5 13.3h0.8M71.6 325.8h0.5M147.1 229.5h0.7M385.4 15.4h0.5M453.8 324.9h0.8M311.8 119.7h0.4M262 505.5h1.1M340.4 122.1h1.3M371.4 80.2h0.8M330.4 96.1h0.9M81.3 317h1.3M198.3 234.1h0.4M249.8 34.5h1M436.3 222.4h0.6M423.9 452.2h0.6M451 524.9h1M14.1 555.4h1M463.5 427.3h1.2M470.1 398.5h0.8M440.3 160.8h0.8M190 319.9h0.8M24.4 463.2h1.2M27.6 246.3h0.7M396.2 52h0.6M347 578.2h1M331 155.4h0.4M236.1 468.6h1M134.5 469.9h0.5M47.1 40.4h1M129.9 156.6h1.3M148.2 276.1h0.6M422.2 66.3h0.9M386.5 367.1h1.3M453.2 303.8h1.2M169 406.7h1.1M66.8 263.3h1.3M378.8 53.8h1.3M19.7 36.2h1.2M317.9 326.8h1.2M438.6 491.1h0.8M421.9 396.3h0.4M77 361.9h0.9M216.6 482.5h0.7M467.6 40.3h1.2M285.8 118h1.3M220 73.2h0.6M152.9 380.8h0.6M62.1 310.6h1.1M395.4 140.8h1.2M453.2 557h1.1M53 344.3h0.8M34.5 426.6h1.3M58.8 486.5h1.1M452.4 489.3h1.2M360.9 583.5h1.2M454.6 327.9h1.2M64.1 254.3h0.7M436.9 382.7h0.8M386.5 67.9h1.1M298.5 176.7h0.5M109.8 543.5h0.4M336.2 405.3h0.9M381 456.8h0.7M75.1 88.3h0.5M220.4 374.7h0.7M92.4 378.2h0.7M186.4 297.9h1.3M213.3 102h0.6M155.7 65.6h1.2M124.9 9.5h0.4M248 230.5h0.7M92.7 581.4h1.1M46.8 390.2h1M292.3 322h1.3M46.2 102.6h0.6M50.3 85.7h1M6.1 425.4h1.1M54.5 29.8h0.8M276.7 419.3h1.2M411.9 104.7h1.3M79.7 248.7h1.1M227.1 143.9h1.3M409 217.7h0.7M395.1 151h0.6M411.5 70.9h0.7M43.8 430.8h1.2M333 173.8h1.2M435.8 198.8h1.3M37.9 555.8h0.4M169.2 271h1.4M360.5 345.4h1.1M335.8 350.9h0.6M30.6 436.8h0.9M464.9 98.9h1.3M315.7 210.7h1.3M389.9 545.9h1.2M40.6 162.5h0.8M261.8 222.4h1.4M131.8 352.8h0.4M378.5 374.3h1.4M80 128.1h0.8M145.4 348.5h0.8M450.1 437.3h1M158.2 32.3h1.3M266.6 159.1h0.9M449.3 62.3h1M466.4 441.6h1.1M130.3 197.1h1.3M47.5 484.2h0.6M352.8 82.2h0.3M69.4 353.9h1.1M221.1 91.5h1.2M363.1 376.6h0.5M309.7 30.9h0.8M189.9 227.5h0.9M122.4 259.7h0.3M455.3 387.8h0.5M23.5 453.5h1.3M156 443.6h0.5M24 43.5h1.2M14.2 440.5h0.5M266.4 566.7h1.1M274.2 420.5h0.5M248.5 166.5h1.2M96.6 211h0.6M141 477.9h0.9M331.1 84h0.5M428.7 27.5h1.2M208.7 521.6h0.6M26 247.7h0.6M292.6 21.5h0.7M409.4 382.1h1.3M169 408.2h1.3M328.7 514h0.3M334.2 92.7h1.3M421.8 515.5h1.2M297.3 189.1h0.9M249.2 462h1.3M10.7 485.4h0.8M370.6 193.5h0.5M256.5 154.6h1M344.9 200.3h1.3M20.2 450.6h0.8M404.2 531.3h0.5M189 44.2h1.2M12.8 219.1h0.5M204.2 145.9h0.5M418 350h0.9M337.7 187.6h0.9M193.4 470.4h1.2M168.1 143.4h1M47 279.4h0.4M320 243.5h0.9M404.4 204.9h1.4M114.2 26.4h0.7M447.7 216.5h0.5M309.9 532.6h1M299.5 489.3h1M401.4 430.2h1M347.6 118.7h0.3M129.8 544.6h0.3M140.7 147.6h0.9M103.7 85.5h0.4M406.7 320.6h1.3M136.7 215.4h0.8M160.7 387.9h1.3M168.7 1.5h0.9M391.6 131.1h0.7M401.9 7.7h1.4M385.2 378.7h1.4M449.8 343.2h1.2M331.5 284.4h0.7M368.4 237.1h0.9M272.8 373.4h0.3M244.6 60.9h0.5M250.8 70.2h1.2M63.7 320.1h0.5M388.3 107.8h0.4M8.1 293.9h1M244.6 486.2h0.6M205.1 549.7h0.5M231 406.4h1M151.7 582.3h1.3M45.9 265h0.9M236.4 28.3h0.6M328.2 426.1h1.4M271.2 575.3h0.5M263.7 133.6h0.9M2.1 529.4h1.3M169.8 225.8h0.4M313.6 143h1.2M82.7 526.7h0.4M105.8 400.8h1M392.6 455.2h0.7M310.2 433h0.7M400 74h0.3M9 138h0.8M460.9 415.6h0.8M286.2 476.8h0.5M77.6 555.8h0.4M400.3 280.8h0.3M279 136h1.4M394.3 413.4h0.7M112 409.8h1.2M76.7 338.9h1M192.6 156.9h0.7M316.6 549.9h1M215.6 71.1h0.4M240.5 37.4h1.4M109.4 572.6h0.9M319.3 46.5h1.3M178.5 350.8h0.7M107.4 553.2h1.1M341.9 162.1h1M429.2 511.3h0.9M243.7 249.2h1.3M274.7 545h1.2M403 84.7h1.3M186.2 508.3h1.2M271.4 70.9h0.9M128.1 51.3h0.5M305.4 448.4h0.4M133.2 379.9h1.2M36.8 339.8h1.3M252.9 103.5h1M29.4 556.1h0.3M201.1 104.6h0.4M190 370.5h1.2M361 96.5h0.8M468.2 72h0.7M258.7 102.5h0.9M438.6 205.4h1.1M147.4 240.3h0.5M312.6 525.7h1.2M411.2 383.4h1M69.2 450.4h0.4M437.4 408.4h0.4M283.1 125.6h0.3M334.7 35.6h0.5M225.7 395.8h0.9M100.7 97.9h0.6M8.6 408.5h0.5M128.2 463.9h0.7M215.6 254.1h0.8M236.4 555.7h1.4M448.2 110h0.5M386.8 176.9h0.4M382.1 202.4h0.8M410.1 23.9h1.3M172.3 61.1h1M24.8 221.1h1.1M398.5 568h1.3M124.7 435.3h1M130.4 113.3h1M137.3 360.3h1.3M307 281.3h1.4M41.2 348.2h1.1M268.4 6.9h1.1M461.5 412.9h0.8M186.3 5.9h1.1M233.2 553.5h1.2M48 305.8h1.2M391.3 414.9h0.3M170.6 444.1h1.2M389.9 11.4h0.5M238.9 170.5h0.8M406.5 327.8h1.1M463.6 311.8h1.3M186.3 93.2h0.8M25.2 521.1h0.6M411.4 522.1h1.4M401.4 199.3h0.8M207 126.1h0.8M456.7 236h0.6M149.7 252.6h1.1M276.4 386h0.3M460.5 74h0.5M197.1 83.3h0.9M408 43.2h1M243.8 208h1.2M91.2 31.2h0.8M424.6 64.7h0.3M302 306.7h0.4M57.1 185.3h0.9M226.3 161h0.4M366.8 208.1h0.7M266.7 286.2h1.2M281.5 284.6h0.7M93.5 379.2h0.6M232.4 524.1h1.1M241.5 396.2h0.7M372.5 533h1M432.8 52.2h0.8M136.1 259.8h0.3M209.8 251.2h1.2M443.6 547.9h0.9M348.1 450.5h0.9M298.3 433.8h0.7M224.7 190.9h1M438.3 343h1.3M411.5 209h0.9M297.6 205h0.8M161.9 449.1h1.1M337.5 450.5h1.3M390.7 414.7h1.1M391.2 117.5h1.2M42.4 362.9h0.5M66 484.2h0.4M184.9 125.7h0.6M302.5 156h0.5M443.5 60.7h0.4M335 216.1h1.1M256.2 304h0.9M402.4 142.2h1.3M201.2 433.4h1.1M334.2 391.8h0.9M450.5 473.2h0.5M112.7 300.9h0.5M114.6 502.3h0.8M443.5 64.8h0.8M376.8 242.8h0.4M363.1 51.4h0.6M71.8 194.3h0.7M151.9 405.6h1M112.6 581.6h1.3M190.9 282.3h0.7M35.5 175.8h1M296.7 123.1h0.9M345.5 42h0.4M76.4 498.5h1.3M371.1 337.4h0.4M29.5 4.9h0.9M92.3 366.5h1.2M100.2 307.2h1.2M33.7 477.7h0.8M204.6 364.6h0.4M33.6 32.4h1.1M80.1 53.2h0.3M122.8 335h1M214.8 41.2h1.1M88.2 177.8h1.1M112.6 227.6h0.6M441.1 485.4h1.3M437.7 26.9h0.7M427.8 132.1h0.7M381.5 425.4h0.9M414.8 105.2h1.2M88.5 11.6h0.5M406.2 3.2h0.6M301 242.8h1.2M116.8 157h1.1M150.4 423.9h0.8M462.9 539.7h1.1M392.6 335.5h1.3M195.4 558.1h1M246.8 203h1M210.4 154.9h1.2M407.4 28.6h1M66.1 149h0.8M155.6 216.4h1M106.7 415.1h0.8M400.8 174.9h0.8M237.7 155.9h0.8M143.3 168.5h0.6M346.5 219.1h1.4M51.1 187h0.8M328.5 269.5h0.7M406.7 58.7h0.6M114.2 194.1h0.4M457 517.7h0.5M314.9 497.5h1.4M296.3 154.6h0.4M36.1 141.3h0.8M232.4 200.6h1.3M308.4 561h0.9M45.2 259.1h1M373.7 331.3h0.6M250.1 347.3h1.2M459.3 11.3h0.3M359.8 290.3h0.7M192.8 359.6h1.1M328.6 137.1h1M464.9 534.3h1.1M440.8 415.4h0.3M301.5 448.6h0.9M436 487.8h1.2M105 500.7h1M206.8 579.6h0.9M218.2 28h0.5M375.4 70.1h0.5M282.5 341.4h1M367.7 44.7h1.4M403.4 484.6h0.6M297.7 152.8h0.8M387.8 326.9h1.1M318.2 548.4h1M248.7 520h1.1M346.9 56.5h0.6M413.9 184.7h1M225 196.2h0.6M203 246.8h0.5M16.4 554.9h1M389.8 568h0.8M435.8 327.6h0.7M433.1 474.9h1.3M286.6 386.7h0.5M84.5 278.8h0.9M410.2 65.8h1.1M23 136.8h1.1M154.2 273.2h0.9M176 362.8h0.8M267.6 372.6h1.2M409.7 456.8h0.5M354 71.1h0.8M85 122h1M430.2 320.5h0.3M133 39.6h1.3M321.8 308.9h1.1M45.7 481.5h0.7M41.6 110.9h0.8M392.4 260.2h0.3M20.1 44.9h0.4M141.4 242h0.7M192.6 329.5h0.5M363.5 176.8h0.3M164.2 519.6h1.1M114.1 260h0.4M143 329h0.8M301.1 311.6h0.9M256.5 89.2h0.6M381.8 136.5h1.4M296.1 198.8h0.5M175.4 506.8h0.7M118.5 143.5h0.8M462.8 259.5h0.6M348.2 356.1h0.7M293.5 148.1h0.4M163.1 495.8h1.4M83.1 152.4h0.5M446.2 183.8h0.5M123.6 450.7h0.4M63 183h0.6M314.9 486.5h1M176.1 233h0.7M436 211.1h1M453.1 209.8h1.1M5.2 85.7h0.7M174.5 576.1h0.6M357.3 581.8h0.7M311.7 257.8h1M18.4 132.8h1M221.4 363.9h0.5M260.1 376.9h1M178.1 204.2h1.3M279.9 54.6h1.2M147.8 199.6h0.4M443.7 115.6h1.2M313.6 216.9h1.2M468.1 354.3h0.6M62.2 3h1.1M70.4 382.8h0.7M336.9 264.9h1M169.1 275.8h1M189.6 291.2h0.8M318.7 579.3h1.1M3.1 183.4h0.5M427.2 183.1h1.3M212.6 583.2h1.1M60 247.4h0.4M218.6 346.9h0.9M394.1 23.1h0.6M36.1 383.6h1.1M394 339.9h1.2M390.3 344.1h1.2M238.6 1.4h0.6M324.8 338.1h0.8M351.1 471.5h1.3M412 410.9h0.5M130.9 328.2h0.9M36.4 328.1h1.1M66.2 356.6h0.5M462.1 425.7h1.1M237.1 526.6h0.5M211.2 84.1h0.3M392.1 185.7h0.3M335.5 547.3h1M461.8 113.1h0.6M14.4 50.7h1.1M258.4 67.6h0.8M4.5 315.9h0.6M147.6 34.4h0.4M309.9 385.3h0.8M259.3 422.7h1.2M345 542h0.5M328.9 184.5h1.3M33.7 68.5h1M305.4 382.1h0.5M146.3 395.5h0.3M156.8 486.3h0.6M469 198.6h0.9M67.7 186h0.6M294.3 359.3h0.9M180.4 288.8h0.6M355 561h1.3M284.7 392.2h1.2M160.2 317.8h0.7M394.4 514.5h1.1M318.4 574.2h0.5M276.7 464.5h1.1M130.3 99.1h1.1M66 66.4h1.3M168.6 109.4h0.8M165.7 245.4h0.7M387.4 387.7h0.7M333.1 202h0.8M125.1 312.8h1.2M81.4 403.5h0.7M425.5 507h0.4M140.2 176.3h1M182.5 358.8h0.7M178.9 422.7h1M64.1 192.9h0.4M414.5 158.3h1.2M63.7 93h1.4M136.6 331.5h1.1M376.9 94h0.9M402.3 441h1M384.3 534.6h0.6M160 568.5h1.1M381.4 479.4h0.6M397.5 542.6h1.2M50.6 182.7h1.2M259.3 282.2h1M124 474.3h0.6M338.3 555.5h1.2M357.2 368.2h1.1M268.4 456.1h0.6M255 364.3h0.5M465.1 488.2h1.1M181.9 75.1h0.8M323.6 313.9h0.5M429.9 70.9h0.5M139.3 411.3h1.1M296.8 77.4h1.1M145.1 76h1.3M384.9 184.4h1.4M406.8 93.9h0.5M22.3 431.8h0.8M81.1 23.8h0.9M302.4 104.6h1.4M371.3 538.4h0.7M456.1 274.5h0.7M222.7 96.3h0.7M328.4 513.2h0.6M148.8 487.5h1M129.4 330.4h1.4M310.6 504.7h1.2M457.3 200.2h0.9M57.7 366.2h1.2M367.8 488.4h0.4M126.5 559.5h0.9M315.3 67.8h1.1M264.3 397.4h0.9M361.2 225.6h0.9M371.3 112.7h0.4M123.5 234.5h0.6M170.7 444.6h0.7M97.2 106.3h0.8M415.1 69.7h0.8M180.5 91.5h0.5M123.5 426.8h0.4M181.3 55.1h1.1M379.4 419.4h0.8M258.8 459.5h0.4M179.3 21.9h1.2M109.9 70.8h1.2M443.8 476.4h1.4M350 502.2h0.7M441.7 116.8h1.2M150.4 435.5h0.5M92.7 533.3h0.7M214.9 328.9h0.7M193.3 509.5h1M205.3 243.2h0.6M242.9 556h0.4M250.7 314h0.3M213.5 230.2h0.6M76.3 538.9h0.4M260.5 115.1h1.1M425.1 253.3h1M287.3 522.5h0.7M451.3 74.7h1.2M410.8 89.7h0.5M378.9 511.1h1.1M216.4 60.3h0.7M234.9 572.7h1M292.9 383.6h1.3M111.3 332.6h0.6M438.8 26.2h0.5M43.6 444.2h1.3M172.6 238.8h0.5M190.6 444.6h1.1M67.2 440h1.3M220.8 381.6h1.2M58.2 514.1h1M244.1 386.3h0.4M64.4 306.5h0.4M7.8 187.1h0.9M108.7 535.5h0.7M22.3 412.7h0.4M5.4 312.7h0.4M212.6 534.9h0.9M460.2 571.6h1M280 342.9h0.7M55.5 237h1.3M5.4 542.4h1.4M63.9 193.2h0.5M383.4 28.3h1.3M300.3 217.3h0.7M41.6 494.7h0.9M465.9 390.7h0.8M464.8 24.9h0.6M116.7 65.5h1.3M9.9 248.5h0.9M172.9 165.3h1.3M364.6 494.6h1M25.2 572.5h0.6M181.4 288.8h0.7M37.9 147.3h1.1M286.5 316.1h0.9M173.1 474.6h1.4M305.2 406.4h0.6M217.1 48.6h1.2M453.2 18.8h0.4M48.7 296.4h0.4M159 20.1h0.3M37.9 277.2h1.3M356.9 109.6h0.9M389.6 88h0.7M367.4 249.3h0.7M411.4 57.9h1.1M88.5 162.2h1M38.5 566.2h1.4M52 374.1h0.4M453.9 390.5h0.8M104.8 365.7h1.2M342.8 433.7h0.4M264.4 450.2h0.5M186.3 436h1.1M205.2 401.6h0.9M373 436.5h0.5M15.5 552.4h0.6M207.8 579h0.8M399.4 242.9h1.3M89.4 508.5h0.9M417.4 456.1h0.5M343.2 497.5h1.2M88.9 14.4h0.8M241.5 528.3h1.2M443.3 461.8h0.6M212.6 154.6h1.1M158.7 354.5h1.1M256.4 207.4h1.1M419.6 555.7h1.1M165.9 65.8h1M289 137.9h0.6M135.2 112.9h1.1M15.1 522.6h0.9M75.4 141.8h1.2M313.3 313h0.5M234.6 293.2h0.8M37.8 557h0.6M111.4 285.2h0.4M129.9 6.8h0.8M111.7 228.1h0.6M148.2 576.3h1.1M38.4 5h0.5M451.8 464.5h0.9M151.3 353.1h0.5M1 485.3h1.1M151.7 92.5h1.4M237.3 72.9h0.6M82.1 50.6h1M143.3 231.4h0.7M157.4 461.1h0.4M336 530.7h1.2M267.3 502.2h1.3M405.5 38h0.8M41.2 177.9h0.4M430.4 126.6h0.6M28 473.5h0.7M193.3 409.7h0.9M242.6 560.5h0.8M462.4 221.3h1.3M389.8 330.9h0.8M250.9 208.1h0.4M354.5 173h1.1M282.9 178.2h1.3M102.9 92.1h0.8M330.2 422.1h1.1M206.2 388h0.7M55.7 350.8h1M310.5 43h1M290.2 254.1h0.3M289.8 94.1h1.3M157.6 263.3h0.7M465.6 149.5h0.9M250.3 414.4h0.4M393.7 110.7h0.9M267.3 22.4h0.6M258.6 269h0.8M160.4 583.6h0.5M307.9 489.2h1.1M106.2 503.2h0.4M40.5 554.3h0.9M213.7 203.1h1M385.3 223.9h0.5M40.7 51h0.3M400.8 500.4h0.7M457 252.9h0.8M94.9 548.5h0.9M276.5 440.8h1.2M376.7 230.6h1.3M460.4 189.5h1.1M158.8 413.2h0.5M465.8 148.1h0.6M109.1 111.2h0.8M437.7 301.7h0.6M1.9 405.8h1M374.9 442.7h1.2M371.3 98.8h1.1M350.5 471.7h0.9M284.9 395.5h1.3M86.3 278.9h1.2M212.8 182.3h1M241.8 242.1h0.9M31.6 317.6h0.5M141.8 346.9h0.8M269.7 446.9h0.5M378.4 164.5h1.2M206.3 505.4h0.8M305.9 134.8h0.9M118.3 22.7h0.7M202.6 1.2h0.8M347.7 203.1h0.5M57.2 87.5h0.9M388.7 224.2h1.3M221.9 128.7h0.6M455.9 475.2h0.8M139.7 266.4h1.1M0.1 413.7h1M340.3 40.5h1.3M112.4 468.5h0.5M40.6 437.3h1.4M264.1 29.7h0.4M70.4 118.7h1.2M121.1 468.6h1.3M42.8 270.8h1.4M461.7 446.5h1M108.5 74.3h0.6M4.3 277.4h0.7M368.6 186.4h0.8M40.1 373.8h0.5M247.4 216.8h0.4M24.4 190.9h1.3M341.9 561.2h1M251.5 376.1h0.7M292.7 281.4h0.9M246.5 133.6h0.6M57.3 176.9h1.2M378.1 500.6h0.4M244.7 256.8h1.3M345.2 219.3h0.7M84.2 191.9h1.3M356.9 269.9h0.8M279.4 568.7h1M368.2 163.3h1.1M229.5 317.4h0.9M273.5 331.7h0.4M164.4 564.6h0.5M75.7 465.8h1.1M443.6 271.3h0.9M88.2 120.2h1M269.4 165h0.5M311.3 185.3h1M294.2 383.7h0.4M187.6 216.8h0.9M224.9 184.1h0.7M330.5 40.5h0.5M464.8 315.6h1.1M325.5 448.8h0.6M20.9 305.6h1.1M6.5 306.1h0.3M273.3 321.6h1.4M109 350.8h0.4M113.5 377h0.4M30.6 196.5h0.8M453.2 567.3h1.3M211.8 13h0.9M264.6 225.2h0.6M428.4 129.1h0.7M455.2 373.3h0.6M276.9 196.6h1.4M336.3 116.3h1M112.5 481.3h0.7M409.9 381.8h0.5M425.3 533.6h0.8M347.1 575.3h0.5M444.1 25.6h1M447.2 523.1h0.4M349.9 534.7h0.8M348.4 118.8h0.6M326.6 151.2h0.9M216.5 526.8h0.6M18.9 259h1.1M44.3 22.1h1.1M109.4 209.1h1M380.3 451.8h0.6M363.5 280.8h0.6M61.9 221.7h0.4M275 339.8h0.7M103.2 162.9h1M146.7 455.4h0.9M83.9 558.6h0.5M198.3 50.8h0.9M72.3 465.9h0.6M110.7 538.2h0.9M313.3 536.4h1.1M427.2 306.2h1.3M447.1 402.5h0.7M337.9 365.3h0.7M83.4 158.6h0.4M72.7 47.7h1.2M186.1 412.3h0.8M75 425.9h0.4M339.4 27.8h1.3M391.3 472.9h1M98.5 50.1h0.7M440.2 517.2h0.4M428.3 236h0.6M126.8 436.8h0.9M362.2 356.4h0.5M91.5 106.6h1.1M465.7 471.1h0.4M469.6 318.8h1.3M189.6 578.2h0.8M22 478.8h0.7M262.4 239.8h0.4M257.5 276h0.6M408.5 17.8h0.4M56 381.3h1M424.5 92.1h1M393.7 470.8h0.8M159.7 373.8h1.2M245.4 497.7h0.5M32.5 357h1.4M390.2 298.9h0.6M386.7 566.7h0.8M468.7 533.3h0.6M258.7 548h0.5M467.6 414.6h0.5M460.8 149h0.7M362.3 448h1.2M426.1 87.1h0.9M312.6 469.6h1M34.8 504h0.4M326.4 582h0.4M341.8 37.5h0.6M239.9 537.2h1.1M373.3 218.9h1.4M160.3 5.8h0.7M418.4 155.3h1.1M451.6 228.3h1.2M352.1 229h0.6M214.8 389.3h0.9M188.4 577h0.8M106.4 135.4h0.4M295.7 346.3h0.7M21.8 128.2h0.6M140.4 30.6h1.2M340.5 452.4h1.3M116.6 543.1h0.3M332.3 88.4h0.4M157.7 295.4h1M251.9 61h1.3M422.4 73.7h0.5M157.4 235.3h0.9M56.6 0.4h1.1M262.3 114.2h0.5M242.9 342.3h0.8M325.6 577.7h1.1M328.3 15.9h1.2M409.2 167h0.9M103.8 198.1h0.3M444.6 344.1h0.4M88.4 496h1.3M320.7 483.3h0.3M185 309.4h1.3M234 503.2h1.1M335.8 110.1h0.3M342.5 323.1h1.3M98.9 124.1h0.7M159.2 95.6h0.4M303.9 78.5h0.9M47.2 160.6h1.4M376.3 436.5h0.9M363.9 274.8h0.8M285.9 132.3h1.2M425.9 360.7h0.8M172.6 280.7h0.8M407.4 126.6h1.1M155.2 377h0.8M304.9 414h1.4M452.5 306.6h0.7M315.8 239h0.6M402.2 158h1M439.7 54.6h0.7M180.3 506.7h1M145.9 145h0.9M441.8 269h1.1M366 312.1h0.9M293.3 49.9h0.8M304.4 481.7h0.5M134.2 402.7h0.4M249.9 198.8h1.1M271.5 276.9h0.4M152.3 364.7h0.6M151.2 490.8h0.4M315.3 427h0.4M25.3 169.3h1M91.2 28.4h0.7M175.8 56.6h0.7M132 297.1h1.1M38.6 389.3h0.6M88.1 414.6h1.2M368.1 399.2h1.2M426 160.4h1M367.6 104h0.3M378.9 470.6h1.3M358.8 344.5h1M334.3 177.3h0.9M295.5 328.2h1.3M23.6 426.3h0.5M10.8 123.5h0.6M226.1 312.2h1.2M368 90.6h0.6M407.4 295.3h1.1M130.8 170.1h1.1M220.3 394.5h0.4M364.4 531h0.8M300.4 78.9h0.9M183.7 459.1h0.8M433.1 296.6h0.5M441.8 129.7h0.9M28.9 544.6h0.9M377.5 17.7h0.7M140.5 213.7h0.7M95.2 359.1h0.5M318.8 287h1.2M74.6 123.3h0.7M97.1 446.5h0.8M175.8 502.4h0.9M267.1 498.8h1M354.4 104.1h0.7M353.9 111.2h1.2M262 319.2h0.3M7.9 227.5h0.7M138.4 345.4h0.7M50.5 116.1h0.9M281.6 142.3h1.4M268.1 333.2h0.5M376.4 205.6h0.3M41 487.2h0.5M349.2 89.6h1.3M10.4 425.9h0.7M95.3 33.3h1.2M212 32.2h1.1M261.4 30.9h0.3M224.6 199.9h1.3M182.4 317.3h0.6M276.1 276.3h1.2M343.2 84.2h0.6M332 11.6h0.5M183.1 102.1h0.9M399.6 345.6h0.6M252.7 150.8h1.4M372.5 494.3h0.9M207.2 10h0.4M316.7 287.3h0.9M132.5 455.4h0.3M406.6 167.7h1.1M451 504.1h1.2M213.7 35.1h1.4M449 289.4h0.9M454.8 211.6h0.7M314.5 345.5h1.4M244.5 576.7h1M59.3 308.9h1.3M87.2 536h0.3M40.9 471.3h1.3M310.6 214.3h1.2M214.6 430.5h0.8M225.1 89.9h1.3M385.5 337.5h1.2M369.2 463.8h1.2M395.7 73.1h0.4M134.3 519.9h1.3M229.2 510.6h1.2M364.6 187.1h0.7M190.7 78.2h0.4M377.7 39.3h0.9M323.3 323.8h1.3M327.4 369.4h0.8M266.9 177.2h1.3M67.2 231.4h0.5M313 434.4h0.4M77.7 54.3h0.8M246.2 206h1.2M20.7 170.6h0.8M196.7 166.6h0.6M338.8 55.5h1.1M286 508.9h1.4M271.1 500.3h0.7M423.9 384.7h0.7M117.2 508.5h1M106.2 178.8h0.3M159.2 418.5h0.3M113.4 228.8h0.7M134.7 52.6h1.1M69.1 152h0.7M172 420h1.3M171.1 447.2h0.6M219.1 156.8h1M116.3 403.3h0.7M428.6 61.2h0.6M199.3 437.2h1.3M359.4 437.6h0.7M428.4 384.9h0.3M3.4 335.5h0.7M36.6 179.4h0.5M220.9 77.2h1.1M306.6 162.7h0.9M308.4 9.1h0.5M332 477h1M297.1 265.8h0.3M218.9 510.8h1.2M324.6 578.1h0.8M464.7 525h1.3M326.4 325.8h0.4M220.2 395.3h1.1M446.5 421.1h0.6M222 226.7h1.1M315.9 333.2h0.7M29.9 325.3h1.4M117.6 413.9h1.3M411 140.7h1.1M133.1 79.9h0.3M466.8 339.7h1.1M442.2 150.6h1M70.5 351.7h1.3M89.5 527.6h1M264 552.1h0.9M291.4 151.1h1.1M180 530.8h0.4M459.4 101.8h1.1M457.1 51.4h1M188 313.4h0.7M50.1 484.1h0.9M425 231.5h1.3M292.9 561.4h0.5M336 228.5h0.3M90.1 297.8h1.2M421.1 470.7h1.1M265.1 318.2h1.2M106.1 222.6h1.3M314.6 471h0.8M259.5 271.3h1.2M226.2 143.4h1.3M18.7 452.8h0.5M464.7 304.8h0.5M91.9 27.4h0.4M433.1 525.2h1.1M431.2 583.4h0.8M87.8 155h1.1M178.3 30.6h0.6M255.5 171.6h0.4M221 456.5h0.4M271.7 556.7h0.7M183.5 531.8h0.4M324.2 439.6h1.1M249.4 26h1.1M324.7 307.2h0.8M150.7 493.4h1.3M315 153.3h0.6M262.6 512.1h1.3M176.8 528.9h0.9M449.2 399.1h0.4M313.8 470.9h1.4M170 82.9h0.7M436.4 181.5h0.7M359.2 571.1h0.9M139.3 4.3h0.4M333.4 141.5h1M311.1 127.1h0.6M336.6 475.7h0.5M121.6 559.1h1.1M80 49.7h1.2M132.5 232.2h0.4M261.5 404.5h1M182.3 176.6h1.2M215 173.2h0.7M283.3 137.8h1.1M452.1 100.5h1.3M96.7 416.7h1M451 254h1.2M264.4 565.6h0.8M65.3 574.4h1.2M197.7 544.7h0.5M186 21.4h1.2M362 118.6h0.3M39.2 369.9h1.1M189.7 446.2h0.4M241 137.6h0.6M335.7 469.3h0.3M298.2 531.8h0.9M111.9 516.3h0.3M268.9 490.6h0.3M180.8 363.6h0.6M31.6 564.5h0.9M401.4 375.4h1.3M106.1 286.4h0.5M417.3 202.4h1.1M229.6 503.5h1M274.3 183.9h0.7M353.1 247h0.7M124.9 158.2h1.1M290.4 127.1h0.4M177.2 286.8h1.1M374.4 194.4h1.4M14.1 166.3h0.8M61.1 38.1h0.8M391.1 363.1h0.4M278.2 503.1h0.7M93.2 319.8h0.3M331.2 529.4h0.6M364.3 142.8h1.4M175.2 428.4h0.4M453.1 333.1h0.8M28.8 16h0.5M68.6 452.4h1.1M14.6 38.7h1.4M130.8 285h1.1M354.7 362.5h0.9M46.3 185.4h0.5M335.1 82.2h0.9M76.3 88.9h1.1M229.3 398.1h1.2M382.6 105.6h0.9M427.6 13.9h1M112.5 211.5h1.1M85.8 551.9h0.5M279.9 29.5h0.8M23.3 575.7h0.7M188.4 144.3h0.4M392.9 533.3h0.8M294.9 387.5h0.5M10.5 20.2h0.7M120.5 43.3h0.9M361.9 583.9h0.3M34.3 384.7h1.1M188.5 171.5h0.6M1.5 12h0.3M238.5 204.9h0.4M436.7 86.5h0.5M6.3 400.2h0.6M454.1 541.3h1.3M97.7 365.7h0.4M383.8 160.4h1M21.3 381.2h0.5M215.7 250h1.3M394.8 29.2h0.5M100.3 29.8h1.3M461.6 161.3h0.9M14.8 524.7h0.8M178.9 226.8h0.8M372.5 266.4h1.1M317.4 334.1h1.1M126.8 274h0.5M164.6 315.2h0.9M350.3 385.2h1.2M39.6 3.6h0.5M154.7 547.8h0.8M364.9 515.5h0.4M73.6 510.4h0.6M369.5 547.3h1.1M172.6 280.7h1M55.7 268.9h1.1M294.9 4.9h1.2M56.3 163.3h1.2M97.6 96.2h0.4M457.7 67.6h1M390.9 279.6h0.9M399.6 476.4h0.6M391.8 171.3h0.8M145.7 556.4h1.2M408.3 366.6h0.9M353.1 389.3h1.4M438.6 4.8h1.1M262.5 272.1h1M263.1 269.4h0.7M242.4 536.9h1.2M49.7 304.4h0.9M94.6 33.7h0.7M192.1 53.7h0.8M237.9 319.6h1.2M334 534.9h0.6M121.2 168.8h0.8M424.4 136.2h0.9M157.4 117h0.6M110.6 129.6h0.5M224.7 583.5h0.5M347.2 458h0.8M96.6 491.6h1.3M287.4 127.8h1M158.6 547.8h0.9M445.8 113.5h0.7M305.3 220.3h0.8M202.7 424.8h0.8M437.8 472.6h0.3M283 335.4h1M78.3 473.9h0.9M325.5 127.4h1M157.9 581.2h1.3M68.9 290.5h1.1M193.9 390h0.8M143.9 375.2h1.2M467.9 507.5h1.2M320.5 44h1M215.9 478.6h0.4M144.5 286.8h0.6M305.5 385.5h0.9M337.2 85.6h0.6M176.1 195.8h0.4M118.7 140.9h0.5M185.3 52.5h1.3M135.8 0.7h1.3M258.5 334.9h0.3M110.5 136.4h1.1M44.8 370.2h0.9M73.8 96.3h1.1M219.6 64.5h0.8M396.7 231.1h0.6M347.1 313.2h1M296.7 62.4h0.5M333 262.2h1.4M279.3 140.2h0.6M206.9 522.9h1.2M39.2 302.8h1.1M278 313.4h0.8M399.1 128.9h1M86.6 368.3h1.1M58.3 498.4h1.1M402.8 116.1h1.2M51 256.1h0.9M10.5 464.2h1.4M101.8 83h1.3M134.4 80.5h0.7M292.9 209.5h1.3M157.6 101.2h0.5M40.2 327h0.5M336.8 103.7h0.7M207.2 283.8h1.4M379.2 581h0.7M351.2 357.2h0.5M451.6 411.8h0.6M414.3 272.4h1.2M72.5 111.6h1.3M401.1 66h0.4M275.6 80.2h1.1M97.9 93.2h0.9M317 72.1h1.2M323.6 302.5h0.8M42 203.3h1.3M65.5 366.6h1.2M53.1 409.3h0.5M399 487.3h1.4M217.6 298.1h1.2M299.7 377.9h0.5M442.4 304.8h0.8M307.8 229.6h0.4M334.6 7.5h0.7M322.5 398.2h0.9M82 147.9h1.2M293.2 448.6h1.1M404 17.6h1M258.8 550.7h0.9M144.6 571.8h1.4M187.1 18h0.4M239.9 418.3h1.2M79.8 176.1h0.5M465.2 530.6h1.2M172.5 233.9h1.4M414.8 23.6h0.6M424.8 185.1h1M68.9 470.8h1.1M140.4 285.9h1.3M286.8 421.5h0.6M382.1 522.5h0.3M393.6 436.2h1.4M32.6 377.2h0.5M215.3 338.3h1.1M21 495.2h1M313.7 391.7h1M370.7 406.2h1.2M280.1 277.6h1.1M254.2 543h0.3M27.1 240.6h0.7M316.8 443.3h0.6M418.1 256.7h0.7M437.8 416.2h1M432.2 275.7h0.7M329.8 577.4h0.4M90.8 389.2h0.6M26.3 30.4h1M286.1 561.3h1M351.4 110.7h0.8M125.9 484.3h0.5M298.9 111.7h1M218.9 69.4h0.7M158.7 236.6h1M329 396.2h0.4M297.3 291.7h0.9M74.4 443h1M448.7 321h1M444.3 152.6h1.3M173.7 67h1.3M375 363.4h0.8M77.9 80.1h1.3M115.4 192.5h1.4M181.7 209.6h0.4M61.7 532.5h1.2M214.6 422.9h0.8M67.2 503.5h0.5M419.7 438.7h0.6M430.1 305.1h1M339 93.2h1M191.6 295.6h0.7M435.2 132.3h0.4M443.6 562.3h1.4M443.5 244.6h0.9M21.9 436.5h0.9M217.6 92.9h0.5M361.3 46.4h1.2M83.8 40h1.1M410.3 174.6h1.3M460.4 311.7h0.4M255.5 152.5h1.1M179.5 230.1h0.5M207.2 382.1h0.9M396.5 179.8h0.5M374 466h0.7M298.7 354.5h1.1M130.1 549.7h0.7M210.6 21.4h0.5M360.4 48h0.8M124.7 377.9h0.7M25.5 105.9h0.8M12.4 310.6h0.5M385.6 85.9h1M352.2 542.8h1.2M148.1 221.4h0.5M59.5 521.8h1M144.8 316.5h0.8M288.9 417.6h0.9M242.4 65.2h0.5M241.8 180.5h1.3M161.8 111.7h1.1M120.9 509.2h0.9M40.1 565h0.5M152.5 117.1h0.9M288.6 195.2h1.2M100.1 190.4h0.8M355.7 536.9h0.7M327.4 106.3h1.3M248.6 123.1h1.2M105.1 144.8h0.9M330 44.1h0.4M409.4 308.7h0.9M44 552.7h0.4M338.1 503.4h0.3M280 96.2h0.7M259.4 465.1h0.9M378 471.6h0.4M356.7 333.9h0.8M367.1 447.4h1M349.1 231h1.1M249 65.4h0.7M298.5 311.1h0.6M243 135.8h0.7M433.4 80.9h0.6M177.5 134.4h0.4M307.1 82.2h0.9M220.4 442.9h0.5M458.3 296.4h0.5M306.4 115.5h0.6M16.5 372.1h1M123.8 411.7h0.9M281.5 528.9h0.5M396.6 205.4h0.6M85.2 432.4h1M8.7 542.5h0.9M169.5 309h1.4M397.8 297.8h0.5M141.7 269.7h1.2M196.1 524.2h0.7M188.4 330.8h0.4M422.5 409.6h0.7M151.1 409.2h0.6M335.1 43.2h0.7M289.8 181.2h1M364.1 237.2h1.3M424 114.6h1.2M467 420.8h0.7M117.2 543.4h1M359.9 32.6h1M246.1 573.3h0.6M398.1 305.7h0.5M370.6 311.3h0.8M434.4 517.5h1.1M66.6 539.5h1.2M343.1 96.8h0.5M230.9 275.5h0.4M323.5 582.8h0.8M433.8 356.3h1.1M445.2 325.3h0.6M314.3 247.7h1.4M137.3 3.8h1.2M280.3 312.8h0.4M52.8 98.2h1.3M442.8 435.3h0.7M319.8 163.2h1.1M242.5 39.7h0.6M155.2 323.7h0.5M126.9 554.6h0.5M33.7 80.1h1.2M442 171.6h0.4M230 469.1h1.3M46.6 117.9h1.2M254.1 445.4h1M455.4 375.1h1.1M440.5 389.5h1.2M277.6 514.1h0.9M406.4 170.9h1M447.2 129.6h0.4M272.3 341.1h1.3M438.2 304.2h0.4M248.9 497.2h1.4M208.7 233.7h0.3M432.3 233.4h1.2M253 163h0.5M438.3 323h0.9M8.3 7.1h0.6M299.6 433h0.7M94.8 281.3h1.2M440.1 460.1h1.1M113.3 207.1h0.4M110.7 567.1h0.8M148.9 319.4h0.6M2.8 3.6h0.8M330 405.2h0.4M144.7 384h0.4M124 15.8h0.8M74.8 522.7h0.5M429.4 293h0.4M175.7 528.8h0.7M15.2 509.5h0.6M370.1 274h0.4M113.6 219.1h0.6M317.3 103.4h0.5M309.9 190.8h0.8M261.7 98.1h0.5M404.8 24.2h1M247.2 542.3h0.4M254 428.9h0.4M297.7 418h1.3M346.6 100.5h0.7M296.1 340.8h1M308.8 152.1h1.3M408.3 394.4h0.3M366.3 44h0.4M47.3 502.7h0.6M167.4 122.1h1.1M76.8 115h0.6M450.2 18.4h1.3M68.2 509.7h0.7M438.4 498.1h0.4M431.2 67h1.3M196 403.1h0.6M259.1 79.7h0.6M0.2 301.2h1.1M21.4 423.1h0.8M79.4 273.1h1M115.9 49.2h0.8M15.4 158.8h0.8M51 86.5h0.6M27.8 256.1h0.5M463.9 144.1h0.9M304.2 44.6h1.1M398.4 297h0.6M73.6 190.8h0.4M347.5 433.3h0.4M292.9 190.9h0.8M173 569.3h0.6M110.5 280.7h0.8M436.5 119.3h1.3M68.4 151.9h0.7M205.5 104.4h0.5M56.8 423.4h1.1M397.8 38.5h0.5M27.8 18.9h0.4M272.1 2.6h0.8M130 129h1.4M44.5 104.5h1.3M113.9 476.7h0.4M310.6 386h1.3M317.8 429.5h1.1M386.2 27.5h1M35.9 519.3h0.6M447.4 274.9h1.1M246.9 46.5h0.3M208.7 464.8h0.6M213.9 101.8h0.7M321.2 117.3h0.5M70.7 506.1h0.7M186.1 53.9h0.3M369.1 195.5h0.3M245.4 72.8h0.3M403.4 569.5h0.9M367.1 110h0.4M342.9 156h0.5M380.8 51.3h1.1M401.8 405h0.9M244.6 1.4h0.6M365.9 171.6h1M269.8 513.4h0.9M381.9 579h0.9M183.5 65.7h0.7M438 176.5h0.9M40.3 364.8h1.1M7.7 4.1h1.1M67.4 407.1h1.2M20.6 549.4h1.3M149.6 544.3h0.6M119.6 102.3h0.4M55.4 94.5h1M419.3 425.9h0.4M72.2 475.9h0.7M223.4 297.9h0.6M224.6 192.8h1.3M55 43.8h0.8M258.9 209.5h0.7M252.5 436.5h1M45.2 582.8h1.3M412.7 205.3h0.4M280.8 412.3h0.9M183 454.8h0.7M447.5 405.7h1.2M341.8 542.4h0.6M282.4 78.7h1.3M298.5 576.6h0.3M470.2 315.9h1.1M104.8 444.7h1.1M25.4 78.1h0.7M226.2 121.7h1M186.5 195.4h1.2M227.7 332.8h0.8M415.3 527.4h1.3M140.6 13.6h0.8M215.7 258.2h1.2M74.5 414.4h0.3M206.9 187h0.3M257.4 378.7h0.7M10.3 134.7h1.1M54.4 251.7h1.3M129.8 358.5h0.9M364.7 494.8h1.2M90.2 244h0.9M232.2 420.8h0.7M55.8 67.8h0.5M318.6 366.5h1M174.9 143.3h1.3M211.7 575.9h0.6M52 473.7h0.8M188.3 464.1h1.1M240.9 395.6h1.2M335 564.2h0.3M364.7 565.1h1.1M12 434.6h1.2M334.7 416.7h0.5M99 525.9h0.4M203.3 94.1h1.4M416.6 18.9h0.8M7.5 71.3h1M94.7 500.3h0.8M449.6 472.6h0.9M329.3 269.3h1.1M4.6 169.8h0.9M309.9 327.1h1.4M143.5 255.2h1.1M302.5 433.5h0.5M363.5 225.9h0.6M359.8 510.5h0.6M157.1 30.3h1.3M161.5 309.2h0.8M183.5 442.1h0.9M444.6 521.9h1M381.3 195.1h0.7M16.2 186.6h0.7M87.8 130.8h1.1M415.5 295.7h1.4M295.5 334.5h0.7M359.8 35.3h1.1M130.1 516.5h0.6M215.9 514.1h1.1M226.4 259.2h1.3M212.2 514.3h0.6M468.2 121.2h0.7M466.4 479.6h0.8M66.3 521.3h0.9M31.3 524h1.1M60.9 469h1M419.7 230h1.3M442.5 467.7h0.9M199.1 7.9h1.3M232.5 41.2h0.7M132.4 323.5h0.9M38.6 389.1h1M403 503.2h0.6M210.2 202.7h0.4M81.6 28.5h1.2M446.4 254h0.8M185 220.9h1.4M440.7 241.7h0.9M102.4 201.7h0.6M260.3 427.4h1M18.3 124.2h0.4M201 559.2h1.4M145.2 579.4h0.7M307.9 245.9h1M402.9 385.4h0.6M4.3 57.3h0.5M429.6 359.7h0.5M446 304.6h1.2M389.2 353h0.9M157.3 308.2h0.7M188.2 393h1.2M252.2 169.5h0.7M459.7 524.4h0.8M275.6 182.7h0.9M413.3 190.1h1.4M327.3 251.6h1.4M405.5 169.3h1.1M137.4 181.8h0.7M322.5 240.2h1.3M90 62h0.6M59.1 158.3h0.7M133.8 522.2h1.2M230.6 329.2h1M334.2 340.5h0.4M421.1 107h1.2M5.1 154.6h0.4M95.4 352.6h0.9M52.3 425.4h1M468.8 435.7h0.9M446.5 200.8h0.4M8.5 174.9h0.7M156.2 252.6h1M196.1 424.9h1.2M400.2 537.9h0.8M450.9 493.6h0.7M195.5 194.1h1M284.2 543.8h0.8M26.9 389.1h1.3M9.8 447.3h1.1M111 493.5h0.3M298.1 573.7h1.3M257.6 513.3h1M466.1 427.4h0.6M81.9 234.1h1.1M273.4 309.7h0.4M249.6 307.4h1M325.7 60.3h0.8M467.2 222.6h0.9M42.9 198h0.9M317.5 17.1h0.6M75.1 544.8h1.3M91.1 323.8h0.7M92.9 220.5h0.9M277.8 507h1.1M188.4 327.9h0.7M30 296.6h0.7M124.8 89.9h0.9M330.5 534.7h0.4M410 211.8h1.2M336.1 495.3h0.9M178.5 362h0.5M390.2 301.6h0.6M223 176.3h0.7M385.3 211.4h1.2M224.3 411.6h1.1M113.7 104.8h0.3M64.9 154.5h0.8M133 549.7h0.4M401 495.1h0.3M65.9 357.3h0.7M324.1 397h1M406.1 504.3h0.9M454.3 326.7h0.6M97.3 286.2h0.3M49.3 154.6h0.5M266.3 482.4h0.7M412.6 13.9h0.9M384.7 2h0.5M253.5 14.6h1.3M361.5 77.9h0.8M16.6 534.3h0.6M111.8 388.9h0.6M95.1 288.1h1.2M261 9.3h0.7M456.9 353.8h0.8M254.1 169h0.9M14.9 436.1h1.1M129.3 56.4h1.2M7.3 216.9h1.1M133.8 437.3h1M301.2 9.8h0.9M186.1 108.6h0.6M259 138.2h0.9M103.8 411.3h0.8M333.8 160.7h0.6M91.9 131.1h0.4M241.5 142.1h0.4M153.1 551.9h1.4M304.1 222.4h0.5M247.9 187.8h0.4M334.2 430h0.7M251.6 287.9h0.8M370.6 178.3h0.4M470.5 208h0.7M27.3 440.4h0.9M407.9 537h0.6M205.7 172.1h0.7M251.7 509.8h1.3M39.1 26.5h1.3M30.6 89.9h1.1M412.6 472.7h1.1M87.2 343h1.1M56.9 577.9h1.3M437.1 246.7h0.6M298.6 130.7h0.9M148.9 184.7h1M301 506.8h0.4M271.6 537.3h0.5M242.4 289.6h0.9M130.2 26h0.4M117.2 561.1h1.2M279.3 452.4h1.2M266.9 311.6h0.6M381.9 155.1h0.8M110.6 365.1h1M262.3 503.2h0.5M457.7 534.8h0.7M205 237.7h0.9M323.6 404.6h0.7M310.4 551.9h0.8M131.8 388.6h0.5M388.1 382.8h1M343.9 468.4h0.8M391.9 121.4h0.5M373.6 387.6h0.4M19.6 99.4h1.3M312.5 558.7h0.7M378.7 149.3h1.2M372.8 486.4h0.7M261 3.5h1.3M106.7 173.1h0.6M18.6 489.6h1.1M146.4 192.8h1.4M12.1 539.7h0.8M322 254.9h0.9M96.5 431.9h0.8M354 458.7h1.1M142.7 530.3h0.5M19.7 411.9h0.9M201.9 331.1h1.1M206.1 574.7h0.4M286.6 125h0.5M290.2 515.8h1.1" stroke="#181818" stroke-width="2.4" opacity="0.85"/>
</g>
<rect width="100%" height="100%" filter="url(#m1n)" opacity="0.06"/>
<rect width="100%" height="100%" fill="url(#m1h)"/>
<rect width="100%" height="100%" fill="url(#m1v)"/>
</svg>
<rect x="149.7" y="8.7" width="70.1" height="57.6" fill="#fff" stroke="#0a0a0a" stroke-width="1.4"/>
<text transform="translate(171.57 48.6) scale(0.807 1)" font-family='"Liberation Serif", "Noto Serif CJK SC", serif' font-size="35.45" fill="#111">1#</text>
<rect x="563.4" y="522.4" width="46.8" height="47.6" fill="#fff"/>
<text transform="translate(571.19 552.5) scale(0.592 1)" font-family='"Liberation Serif", "Noto Serif CJK SC", serif' font-size="20.15" fill="#222">10 µm</text>
<rect x="567.6" y="555.6" width="38.3" height="2.9" fill="#0a0a0a"/>
<svg x="636.2" y="3.6" width="468.6" height="580.9" viewBox="0 0 468.6 580.9" overflow="hidden">
<rect width="100%" height="100%" fill="#616161"/>
<g fill="none" stroke="#262626" stroke-linecap="round" stroke-linejoin="round" filter="url(#m2b)">
<path id="m2p0" stroke-width="1.5" opacity="0.28" d="M-11.5 0.6C-4.7 7.9 2.8 16.1 12.2 21.4M53.2 28.3Q53.4 23.8 53.1 19.3M-22.3 44.3C-10.4 41.8 -0.7 41.3 8.9 40.1M450.8 1.1Q451.7 -4 452.3 -9.1M419.3 7.1Q413.2 8.6 407.3 6.3M394.7 18.1C394.3 24.1 387.8 26.4 381.8 30.1M378.9 29.8Q376.7 28.4 374.2 29.3M53.2 28.3Q58.6 29.1 63.5 31.6M85.1 -4.8C82.4 3.2 94.2 4.8 91.1 12.8M454.2 381.9C455.7 376.1 460.5 370.4 462.9 363.5M424 366.8C433.9 356.6 453.7 364.9 463.4 361.7M109 257.5C116.6 264.1 127.5 252.6 136.3 259.4M115 293.4C114.8 289 110.9 285.8 108.8 280.8M401.9 337.9Q401.3 335.8 401.1 333.6M486.4 86.1C475.7 80.8 468.8 75.9 457.9 68.2M450.2 113.4C455 103.5 448.6 94.6 440.9 85.1M458.3 46.2C466.1 52.5 477.3 43.2 486.3 43.7M372.3 34.9Q371.8 38.6 371.4 42.4M78.7 310.7C79.7 297.2 74.1 283.9 80.5 272.6M59.3 280.1C64.3 276.5 72.8 275.2 79 273.7M224 113.2C218.1 118.1 219.8 125.9 214.9 133.2M234.3 146.8Q231 146.7 227.6 146.4M141.1 539.7Q139.2 538.1 138.8 535.7M19.5 120.5Q20.8 121.5 21.4 123M456.7 345.7C464.8 340.3 468.3 328.7 474.5 320.8M441 521.5C445.9 522.6 451.4 525.4 458.4 527.3M451.3 140C456 143.4 455 150.3 454.2 154.4M484.2 188.1C475.8 187.9 470.8 180.9 466.6 175M282.9 586.1C281.6 589.8 279.2 594 274.2 596.6M293.1 284.6Q291.6 281.6 289.4 279M281.5 278.8C274.5 279.5 268.9 279.9 261.3 278.3M397 37.1C400.5 35.1 405.6 30.7 410.4 32M408.1 57.9C413.6 59.8 418.5 57.9 424.1 61.9M429 15.1Q426.9 20.7 425 26.4M440.9 85.1C436.2 86.4 432.1 83 427.3 80.1M315.9 57.6C311.2 49.8 303.5 50.3 297.3 46.6M319.1 -21.4C321.8 -15.4 312.1 -6.5 320.7 0.8M295.7 9.3C299.8 11.7 300.1 18.7 303.1 22.6M295.7 9.3C304.3 4.6 311 0.4 320.7 0.8M363.3 28.7C363.3 17.4 351.7 10 347.4 -3.9M372.8 30.3Q373.8 30.1 374.2 29.3M295.2 48.4Q296.2 47.5 297.3 46.6M264.1 -26.8C270.4 -20 269.3 -9.9 273.6 -2.5M347 72.5Q346.2 73 345.3 73M318.2 73.8Q323.4 76.4 327.4 80.6M137.3 426.1C132.7 424.2 128.1 420.9 123.9 420.4M165.3 417.3C169.1 412.6 166.9 403.6 171.9 399.2M101.1 335.6C103.7 346.1 109.1 352.8 112.5 363.8M154.1 359.4C155.2 372.1 146 379.5 140.9 385M113.6 365.3C106.6 364.7 94.6 364.4 89.7 371M181.8 353.7C179 358.6 173.7 360.6 169.1 364M227.2 413.4Q225.2 414.2 223.3 415.1M258.7 339.2C246.7 336.7 242.9 346.6 236.5 354.9M336.4 406.6C340.3 410.3 341.5 415.2 347.5 418.4M366.9 336.7C359.9 329.7 354.7 315.7 348.1 307.5M331.1 343Q327.3 339.1 324.9 334.3M348.1 307.5C337.6 316.6 331.7 324.3 324.9 334.3M91.2 574.9Q92.6 570.4 95.8 567.1M124.1 575.6C124.3 583.2 127.5 589 128 594.2M331.3 132.6C326.3 135.2 322.9 137.3 318.5 140.7M318.5 140.7Q317.8 140.7 317.3 140.2M315.3 139.3C316 129.9 306.9 125.4 303.7 115.1M323 106.9Q319.4 108.4 315.6 107.5M303.7 115.1Q306.1 111.9 307.5 108.2M344.5 106.2Q347.3 109.7 351.6 110M362.8 126.1C359.1 121.9 359.6 115.9 354 111.2M299.9 168.8C294.4 160.3 295.3 149.9 287.3 145.5M299.9 168.8C305.7 165.1 315.5 166.3 324.4 164.3M276.8 141.6Q280 142.1 282.8 143.8M301.1 83.3Q303.1 89 304.1 95M45.1 85.5C57.4 90.1 68.8 82.1 83.3 77M247.8 535.3Q252.1 533.7 256.7 533.9M230.8 507.8C227.2 512.4 220.4 517.8 219.4 523.3M201.4 506.9C204.7 513 211.8 518.4 219.4 523.3M202.4 536C199.4 534 195.5 530.8 191.1 528.1M211 536.1Q215.2 531.5 219.9 527.4M209 603.9C192.9 595.5 178 591.7 172.1 575.8M172.1 575.8Q172.6 573.2 174.5 571.3M227.2 413.4C238.2 414.7 243.9 416.6 249.5 426.4M249.5 426.4C249.2 432.9 252.9 438.8 251.8 444.9M476.9 473.9C473 478.5 468.4 480.9 461.8 481.6M359.3 524C363.1 516 368.8 499.6 374.4 492.5M379.8 185.8C378.2 193.2 370.6 197.6 370.8 206.8M327.8 178C331.5 185.3 341.4 188.9 346.5 192.8M326.2 566.9C321.2 569.3 316.1 569.5 311.8 571.1M311.8 571.1C308.4 566.7 302.7 562.8 299.6 556.9M218.8 304.2C224.8 301.8 228.4 300.1 233.5 297M142.5 317.4C153.7 306 165.1 303 176.8 298.6M218.8 304.2Q215.9 304.3 213.2 303.2M118.1 226.3Q116.5 224.8 116 222.5M310.4 197Q307.4 195.6 304.4 194.2M280.9 209.8C277.2 217.3 291.5 223.4 287.1 234.2M294.6 177.3Q292.4 180 290.9 183.2M289.4 279C289 268.2 298.9 259.2 300.4 251.7M300.4 251.7C296.2 247.9 293.1 241.3 287.8 235.7M217.9 206.6C222.5 197.2 232 192.6 231.4 179.7M170.8 186.2C179.8 189.2 185.9 186.5 194.8 185.9M223 157.2C221.3 160.6 218.7 164 217.8 169.2M256.4 198.5C250.5 191.1 243.1 187.4 242.1 179.5M266.8 159.3C272.8 164.2 270 172.3 275.7 177.3M236.2 224.6C244.3 219.8 248.6 208.5 256.4 198.5M390.1 73.7C396.6 79.2 401 88.2 411.3 91.5M393.4 114Q392.7 113.1 392.3 112.1M371.4 42.4C372.2 55.8 377.6 65.3 384.8 75.2M446.3 115.5Q443.2 118.2 439.1 119M322.4 378.4C306 375.5 304.8 361.1 290.9 355.1M288.4 357Q289.8 356.1 290.9 355.1M301.6 341C298 346.3 298 352.3 290.9 355.1M319.5 333Q322.2 333.8 324.9 334.3M69.1 433.4C58.3 429.6 40.2 432.7 26.6 432.5M72.9 428.6C72.1 424.4 71.6 420.6 71.6 416M55.6 326.8C65.1 326.4 75.9 320.9 83.9 314.5M50.9 369.4C49.9 364.8 54.4 360 54 355M298.9 293.4Q302.5 292.7 306 291.8M-22.2 585C-11.6 597.9 -8.1 607 7.6 614.7M-27.8 433.2C-20 445.1 -11.7 455.6 0.6 454.2M0.6 454.2Q1 457 1.4 459.7M11.6 167.8Q15.6 166 20 166.4M263.1 543.1Q260.7 537.9 256.7 533.9M288.6 517.1Q286.5 514.4 284.1 512M224.7 565.2Q229.3 564.5 233.9 563.9M221.3 565.7Q220.2 566.7 219.9 568.1M250.8 567.9Q250.3 571.9 250.8 576M262.4 560Q258.7 561.1 256.3 564.1M357.1 562.6C353.6 568.5 348.1 569.4 341.6 571.9M385.8 583.4C392.6 583.4 393.6 576.7 397 573.1M401.9 270.6C408.1 276.1 404.8 284.1 406.4 290.4M439.2 269.3C434.2 262.2 429.7 257.1 432.7 246.9M127.6 475.6Q128.9 475.2 130 474.4M75.2 582.9C74.2 577.1 71.8 574.2 72.6 568.5M72.9 170.1C76.1 174.3 76.4 180.2 78.3 183.9M53.2 244.7C44 243.8 46.3 230.9 39.6 226.8M64.6 113.1C69.5 109.3 77.9 106.4 84.4 99.2"/>
<path id="m2p1" stroke-width="1.9" opacity="0.45" d="M32.5 -2.1Q32.3 -0.8 31.2 -0.1M12.2 21.4C17.8 11.9 24.9 4 31.2 -0.1M53.1 19.3C60.1 14.3 62 2.5 71.3 -4.3M-22.3 44.3C-16.5 62.4 -18.2 79.4 -3.5 92M-13.9 285.8C-7.5 281.5 -2.2 269.3 9.6 267.3M9.6 267.3Q8.2 262.1 6.1 257M450.8 1.1C444.4 2.8 438.6 8.6 430 8.5M407.3 6.3C402.9 -0.2 397.2 -8.1 392 -13.3M69.8 33.6C76.8 26.6 83.3 17.3 91.1 12.8M-1.6 318C5.6 329.8 17.4 332.3 24.7 339.3M11.3 394.6C9.9 402.2 6.9 412.2 4.9 420.1M26.2 386.9Q26.5 387.6 26.9 388.3M11.3 394.6C17.3 394.5 23.5 391.5 26.9 388.3M-3.5 92Q-0.6 93.1 2.5 93.4M8.9 40.1Q10 40.7 11.2 41M11.2 41C1.2 58.5 7.5 74.8 2.5 93.4M6.1 257C10.1 250.9 16.7 241.8 15.1 233.1M415.8 389.9C402.9 383.8 396.7 375.3 383.8 370.8M415.8 389.9C415.4 381.8 419.5 372.3 424 366.8M454.2 381.9C446.8 385.7 444.2 394.1 437 401M463.4 361.7Q462.9 362.5 462.9 363.5M461.4 303.1C461.5 310 468.2 315.6 474.5 320.8M132.3 299.3C134.7 295.8 137.4 292.1 138.7 288.1M438.4 330.5C442.1 338.1 448.6 342.1 456.7 345.7M401.1 333.6Q401.4 332.7 401.7 331.7M478.4 104.8C471.3 111.5 460 111.8 450.2 113.4M440.9 85.1C449.1 84.2 455.6 75.8 457.9 68.2M458.3 46.2Q456.2 47.5 455 49.6M455 49.6C455 56.4 456 61.4 457.9 68.2M460.6 11.4C466.8 21.3 460.6 34.7 458.3 46.2M334.4 45C337.8 54.3 344.9 64.1 347 72.5M334.4 45Q335.2 39.4 336.3 33.9M365.7 375.5C357.6 366.3 358.7 355.7 354 345.3M354 345.3C357.4 340.2 363.8 340 366.9 336.7M58.2 298.5C66.2 301.5 71.8 310.4 78.7 310.7M214.9 133.2C218.9 138.8 223.7 141.2 227.6 146.4M268.3 118.8Q266.8 120.2 265.3 121.7M265.3 121.7C251.6 126.5 240.7 137.5 234.3 146.8M24.8 340.7C32.3 327.7 34.4 315.2 36.2 305.4M23.1 276.6C27.4 273.6 33.9 271.7 40.2 269.8M40.2 269.8C49.4 268.7 55.2 275.3 59.3 280.1M58.2 298.5C50.9 302.4 44.8 305.5 39.1 306.3M139 520.3C139.3 525.7 135.8 530 138.8 535.7M172.9 527.1Q173.7 521.8 178.2 519M46.9 36.2C46.3 42.9 49.8 49.3 48.3 57.1M47.5 103.8C37 107.9 31.4 121.4 21.4 123M47.5 103.8C44.2 98.6 42.9 92.3 45.1 85.5M34.6 79.7C22.1 80 16.4 91.4 2.2 92.3M2.2 92.3C5.9 100.4 3.1 109.9 14.1 116.1M35.6 68.1Q33.4 73.7 34.6 79.7M454.2 381.9C456 390.2 461.5 401.5 467.8 412M467.8 412C473.3 411.5 480.2 407.2 486.4 407.6M462.9 363.5C472.5 362.6 483.2 365.8 495.3 367.8M458.4 527.3C461.2 534.1 466.9 542.4 473.8 548.3M453 601.7C452.9 591.1 456.1 575.6 455.9 562.4M467.8 412C465 415.4 458.7 417.8 456 422.5M456 422.5Q457.2 427.4 457.5 432.6M461.4 303.1Q457.1 301.5 452.7 300.2M452.2 274.3C455.7 284 452.8 290.7 452.7 300.2M438.4 330.5C437.1 316.7 450 312.6 451.3 301.5M514.3 154.5C493.8 154.9 483.5 167.1 467.3 171.3M446.3 115.5Q448.6 115 450.2 113.4M362.8 126.1C367.1 124.5 371.2 130.4 375.9 128.9M254.3 299.6C260.6 304.7 265.3 311.4 269.7 316.2M269.7 316.2C274.1 315.5 280.4 314.9 284.2 314.4M222.1 249.1C229 241.3 233.8 233 236.8 225.3M236.8 225.3C245.4 233.3 262.1 234.2 275.7 238.3M259.4 272.6C268.5 265.5 269.9 246.3 275.7 238.3M397 37.1C400.5 45.7 404.8 49.8 408.1 57.9M381.8 30.1C385.5 32.5 391.6 35.7 397 37.1M455 49.6C450.6 48.9 442.9 44.9 437.6 46.3M427.3 80.1C426 73.1 427.3 67.2 424.1 61.9M332.5 30.7C325.7 28.2 314.8 23.7 306.6 29M325.3 4.6C330.8 -1.6 340.1 2.4 347.4 -3.9M300.6 -24.6C297.2 -16 287.4 -4.8 279.5 -0.2M279.5 -0.2Q279.9 1.8 280.9 3.5M315.9 57.6C317.1 63 316.5 67.8 318.2 73.8M318.2 73.8C310.7 76.4 304.9 79 301.1 83.3M173.3 399.4Q172.6 399.2 171.9 399.2M154.1 359.4C153 352.4 146.1 347.2 143.3 342.9M123 408.3C118.8 405.2 113.8 402.3 110.5 399.2M76.4 394.6C79.1 383.7 82.1 378.8 89.7 371M174.4 392.5C168 385.6 170.7 375.2 169.1 364M227.8 410.5C215.7 403.6 211.3 395.6 204.3 383.2M227.8 410.5C235.9 407.6 236.8 395 242.9 392.2M242.9 392.2C239.4 379.8 230.6 368.1 237.7 356.1M204.3 383.2C202.1 375.8 207 367.3 210 358.2M210 358.2C213.3 353.9 219 353.5 223.7 348.6M223.7 348.6C228.6 351.4 231.2 353.8 236.5 354.9M171.9 399.2C182.7 409.6 198.7 407.8 203.4 421.7M265.8 393C258.2 391.9 249.8 390.3 242.9 392.2M268.3 368.3C257.6 361.8 243.1 366.9 237.7 356.1M181.8 353.7C192.1 353.4 200 353.1 210 358.2M254.3 299.6Q250.1 299.3 246.4 301.3M246.4 301.3C238.2 320.3 236 332.5 223.3 350.5M223.3 350.5Q223.2 349.5 223.7 348.6M352.9 295.6C354 301.4 352.2 304.5 348.1 307.5M141.1 539.7Q142.4 544.2 144.1 548.6M144.1 548.6C137.8 556.3 140.1 573.3 124.1 575.6M113.8 540.3C113.7 548.1 110.4 554.9 110.8 563M95.9 536.3Q101.6 533.9 107.5 535.2M113.8 540.3Q111.2 537.2 107.5 535.2M124.8 505.7C119.1 508.6 115.5 510.9 110.2 512.8M347.6 139C341.2 137.8 336.9 135 331.3 132.6M324.4 164.3C319.8 156 317.3 148.6 318.5 140.7M324.4 164.3Q324.3 165.5 324.3 166.7M261 90.5Q260.8 96.7 261.6 102.8M69.8 33.6C70.7 43 81.7 51.4 85.4 63.5M230.3 489C222.4 487.5 218.8 483.3 210.1 484.7M202.4 536Q206.7 537.8 211 536.1M174.5 571.3Q175.5 565.9 180.4 563.2M186.7 562.1Q183.5 562.3 180.4 563.2M241.4 460.9C244.4 456.2 250.5 456 252.6 451.2M241.4 460.9C234.8 458.9 226.4 453.3 220.5 451.6M220.5 451.6C211.4 441.3 218.1 425.2 223.3 415.1M420.6 445.6Q424 441.7 429 440.5M384.4 495.3C387.2 486.4 389 476.6 401 473.9M397.8 450.4C404.1 449.2 413.3 447 420.6 445.6M374 534.3C374.8 540.3 372.3 545.4 372.3 552.1M357.4 562C353 552.4 343.8 540.6 337.7 533.9M337.7 533.9Q339.5 529.2 342.1 524.8M457.6 185.5C448.4 184.5 440.8 185.4 430.6 188.3M415.5 207.4Q410.9 203.4 404.8 204.1M359.7 169.1C355.7 174.9 348.6 184.6 345.9 193.1M345.9 193.1C352.2 195.5 358.4 201 360.6 208.2M359.1 160Q357.4 164.7 359.7 169.1M327.8 178Q327.7 171.8 324.3 166.7M335.9 231.5C344.9 226.8 351.9 214.5 361.7 211.2M305.5 585.7C305.8 580.3 310.2 575.6 311.8 571.1M286.3 535.8C291.9 538.5 294.4 542.4 298.5 547.1M230.3 489C236.3 488.5 238.7 482 242.9 479.5M258.8 485.3C266.2 492.9 262.4 503.4 262 512.4M246.4 301.3C243.6 297.3 237.6 300.4 233.5 297M218.2 341.2C221 331.9 211.7 317.9 218.8 304.2M218.2 341.2Q222.4 344.9 223.3 350.5M261.3 278.3Q260.1 275.5 259.4 272.6M195.6 323.5Q189.8 325.4 183.9 323.9M136.3 259.4C140.2 258.6 142.7 251.7 148.4 252.7M148.4 252.7C147 245.6 145.1 235.8 146.3 227.7M310.4 197C315.7 200 313 207.5 317.2 212.2M321.8 212.3Q319.5 212.5 317.2 212.2M327.8 178C322.3 187 315.9 191 310.4 197M206.1 203.2C203.1 196.1 194.3 192.8 194.8 185.9M206.1 203.2Q212.2 204.1 217.9 206.6M209.8 172.1Q214.1 171.3 217.8 169.2M197.4 251C194.3 245 190.7 240 186.6 232.7M214.9 133.2Q211.2 132.5 207.6 133.1M242.1 179.5C243.4 173.5 247.9 170.6 251.4 167.9M280.9 209.8C273.1 203.4 266.7 200.1 257.7 197.7M373.4 93.2C383.1 97.8 382.3 107.1 392.3 112.1M384.8 75.2Q387.4 74.4 390.1 73.7M409.2 104.5C409.7 101.2 408.4 96.2 411.3 91.5M345.3 73C356.7 76.6 360.3 85.7 373.2 87.4M354 111.2C361.9 108 363.8 95.3 373.4 93.2M408.1 57.9C401.8 61 397.3 70.6 390.1 73.7M439.1 119C429.7 119.2 422.8 102.5 409.2 104.5M439.1 119C429.1 125 425.4 138.3 410.7 140.3M237.2 28C237.1 22.9 235.4 16.3 240 11M250.9 56.1C243.7 49.6 241.3 37.9 237.2 28M222.3 -33.7C223.6 -19.4 229.9 -9 232.7 7.2M286.7 387.9C287 380.2 284.7 371.2 284.1 362.4M284.1 362.4Q287.2 360.5 288.4 357M336.4 406.6C323.5 412.3 309.8 424.9 296.1 430.6M331.9 387.3Q326.8 386 324.4 381.4M268.3 368.3C273.1 363.8 280.1 366.4 284.1 362.4M331.1 343C324.9 352.1 320.1 367.3 322.4 378.4M307.8 332.9Q313.6 334.9 319.5 333M267.8 332.7C272.6 343 283.6 346.3 288.4 357M307.8 332.9C299.4 330.3 289.7 321.3 284.2 314.4M69.1 433.4Q71.3 431.2 72.9 428.6M71.6 416C57.1 413.4 50.7 399.2 34.2 401.6M72.2 461.5C85.7 462.5 103.6 459.4 117.5 460.6M116.1 428.6C99.1 433.8 85.2 434.4 72.9 428.6M26.2 386.9C32.5 379 41.5 375.1 50.9 369.4M50.9 369.4C59 378 72.1 383.8 76.4 394.6M4.9 420.1C10.9 424.5 16.1 430.4 20.2 434.8M45.8 346.9Q51.9 348.9 54 355M76.6 351.6C78.2 341.4 85.3 337.1 91 329.4M91 329.4Q86.8 324.6 87.3 318.3M24.8 340.7C32.1 345.7 40.5 343.6 45.8 346.9M89.7 371C86 364.6 80.4 357.2 76.6 351.6M78.7 310.7Q81.4 312.4 83.9 314.5M132.3 299.3C136.4 305.8 138.1 313 142.5 317.4M210.1 484.7Q210.1 483.7 209.8 482.7M220.5 451.6Q218.7 453.2 216.7 454.5M209.8 482.7C211.5 475.1 215.1 465.9 216.7 454.5M417.4 391.3C408.2 393.9 406.4 403.9 403.8 410.6M350.9 289.6C337.4 299.2 326.8 293.6 312.9 294.5M348.4 262Q343.3 259.2 339.5 254.9M306 291.8C312.4 280.5 318.7 272 317.7 257.2M-17.4 476.1C-12 470.7 -3.6 468.2 1.4 459.7M79 273.7C77.2 263.2 73.4 254.8 69.2 249M107.7 186.1C102.4 185.2 98.6 190.3 94.5 192.3M19.5 120.5C15 132.1 4.9 151.5 11.6 167.8M48.1 141.7C35.8 139.2 28.5 131.7 21.4 123M85.4 63.5C91.9 55.1 103.1 52.1 108.8 46.5M125.5 -13.7C126.1 -4.9 129 0.1 129.9 8.8M347.5 418.4C346.8 422.4 349.3 428.5 347.9 433.1M296.1 430.6C302.7 437.6 316.1 434.1 323.6 445.6M365.9 487.4C366.9 481.7 363.3 475.9 359.6 472.8M252.6 451.2C260 453.5 266.6 450.5 274.3 452.2M258.8 485.3C263.7 482.6 268.3 478.9 273.3 479.6M289.2 443C289.7 454.1 290.5 469.7 300.5 480.1M300.5 480.1C296.7 483.6 289.4 484.6 284.9 484.6M262 512.4C269.8 514.5 276.9 504.7 284.1 512M286.3 535.8C288.5 530.4 290.6 523.5 288.6 517.1M217.5 594.5C219.8 584.5 220.7 575.8 219.9 568.1M186.7 562.1C195.7 561.9 206.8 564.9 219.9 568.1M211 536.1C212.4 548.5 219.5 556.6 221.3 565.7M236.3 537.1C235.7 544.7 237.9 557.2 233.9 563.9M337.7 533.9C333.1 533.4 327.6 539.2 323.1 538.1M326.2 566.9C331 569.7 335.8 571.4 341.6 571.9M424.7 571.1C434.3 576 441.8 585.7 446 599.2M412.2 535Q410 536.3 407.5 536.7M374.3 594C368.2 582.4 363.5 572.4 357.1 562.6M386.3 526.4C391.5 534.7 398.6 534.9 407.5 536.7M432.5 532.9C428.2 533.1 422 535.3 417.9 536.6M412.3 287C418.2 280.5 431.8 272.8 439.2 269.3M432.7 246.9Q429.6 246.3 426.6 245.4M451.3 301.5C441.1 297.2 423.4 289.6 412.3 287M379.8 185.8C385 183.7 390.3 182.9 396.3 179.8M158.7 258.1C169.6 262 182.6 257.3 194.5 252.9M198.4 450.4C197.2 458.9 191.3 467.4 187.4 478.5M198.4 450.4Q194.6 446.2 191.4 441.6M203.4 421.7C199.7 426.4 197.1 434.6 191.4 441.6M27.6 543.2C31.2 548.2 37.4 545.3 41.6 548.5M85.2 552.2C80.2 554.6 74.2 555.3 69.5 551.1M27.6 543.2C31.6 529.4 34.6 521.4 21.6 510.7M14.4 477.9C5 485.5 -1.8 496 -6.3 503.2M27.1 206.1C26.7 213.2 28.3 217 26.7 224.1M94.5 192.3C90.7 185.3 83.6 186.6 78.3 183.9M86.8 157.3C84.8 151.7 83.1 147.5 84.5 141M301.4 480.8C300.8 492.5 301.9 502.8 303.5 512.6M308.7 512.6Q306.1 512 303.5 512.6M318.7 538.2C319.4 528.6 308.1 524.6 308.7 512.6M341.6 571.9C340.4 578.7 334.9 584.5 336.7 593.4M63.2 482.8C64.7 479.4 65.5 474.1 67.3 470.5M72.2 461.5Q70.3 463.3 69.2 465.7M141.5 115.7Q140.7 114.2 141 112.6M163.3 95.4C156.1 94.6 151.2 96.9 144.5 97.5M183.9 55C175.3 48.1 171.5 41.5 163 35.4"/>
<path id="m2p2" stroke-width="2.4" opacity="0.6" d="M-38.9 100.7C-25.5 94.5 -14.1 88.2 -3.5 92M14.5 34.3C24.3 35.5 37.5 37.9 46.9 36.2M14.5 34.3Q12 37.5 8.9 40.1M9.6 267.3C13.8 270.4 17.5 275.1 23.1 276.6M382.3 -13.2C377.7 2.6 374.4 16.1 374.2 29.3M-17.9 357.4C-7.7 358 3.3 357.4 10.5 356.2M-15.3 387.7C-4.6 388.9 4.1 394.2 11.3 394.6M10.5 356.2C14.8 366.7 23.1 376 26.2 386.9M15.1 233.1C11.4 222.6 -2.9 223.9 -8.7 217.3M424 366.8C411 359.9 411.7 346 401.9 337.9M383.8 370.8C386.7 361.5 389.8 347.8 401.9 337.9M483.2 292.1C476.9 281.6 475.4 271.7 471.1 262.6M471.1 262.6Q472.9 257.9 475.5 253.6M437 401C429.6 397 424.6 394.7 417.4 391.3M474.5 320.8C486.4 315.9 498.2 321.4 507 324.3M109 257.5C104.9 261.4 106.6 266 103.3 269.6M438.4 330.5C426 334.7 411.9 334.4 401.7 331.7M363.3 28.7C354.9 29.1 344 35 336.3 33.9M383.8 370.8Q379 374.4 374.8 378.6M401.1 333.6C391.1 335.3 379.6 334.3 366.9 336.7M374.8 378.6Q370.2 377.1 365.7 375.5M79 273.7Q79.8 273.2 80.5 272.6M224 113.2C236.9 115.2 250 105.4 261.6 102.8M29.3 297.7Q34 300.5 36.2 305.4M24.7 339.3Q24.9 340 24.8 340.7M39.1 306.3Q37.7 305.9 36.2 305.4M141.1 539.7C147.9 532.2 162.6 530.6 172.9 527.1M139 520.3C152 518.4 162.1 506 168.9 499.3M179.5 510.5Q179.2 514.8 178.2 519M11.2 41C15.1 50.5 23.7 59.9 35.6 68.1M2.5 93.4Q2.4 92.8 2.2 92.3M-18.4 142.3C-4.6 137.5 8.6 129.2 14.1 116.1M466.2 558.1Q470.9 553.9 473.8 548.3M466.2 558.1C472.4 576.2 480.1 587.7 484.9 603.5M432.5 532.9C436.3 528.9 436.4 522.9 441 521.5M445.2 560.5Q450.6 561.2 455.9 562.4M455.9 562.4Q461 560.2 466.2 558.1M483.6 443.4C474.9 441.6 468.9 429.2 457.5 432.6M437 401Q437.2 405.3 437.7 409.7M471.1 262.6C462 263.4 456.9 268.6 452.2 274.3M452.7 300.2Q452.1 300.9 451.3 301.5M493.7 125.5C487.6 140.2 468 151.8 461.3 162.4M461.3 162.4Q456.9 159.2 454.2 154.4M451.7 223.8Q453.8 226.4 456.2 228.7M451.7 223.8C461.2 210.4 460.9 198.6 457.6 185.5M379.6 150.4C375.7 144.7 380.4 136.2 375.9 128.9M352.6 159.3Q355.9 159.4 359.1 160M282.9 586.1C288.8 579.8 296.9 588.6 305.5 585.7M305.5 585.7C306.5 590.5 311.2 593.9 313 598.1M298.9 293.4C287 296.4 290.1 310.6 284.2 314.4M254.3 299.6C254.4 293.2 256.2 283.3 261.3 278.3M425 26.4C426.3 33.8 434.4 41 437.6 46.3M437.6 46.3C435.6 53.8 424.6 55.4 424.1 61.9M334.4 45C327.7 48.1 322.9 55.4 315.9 57.6M291.9 78.4C293.5 67.3 296.7 57.3 295.2 48.4M273.6 -2.5Q276.6 -1.5 279.5 -0.2M342 76.6C336 76.9 332.2 80.8 327.4 80.6M342 76.6Q343.7 74.8 345.3 73M291.9 78.4Q296.2 81.3 301.1 83.3M173.3 399.4C164.4 395.5 153.9 391.7 141.8 389M141.8 389C133 392.7 127.2 398.4 123 408.3M146.5 430C152.9 427.1 157.5 421 165.3 417.3M146.5 430Q147.1 433.5 147.7 436.9M147.7 436.9C139.2 446.2 129.5 454.9 127.9 470M117.5 460.6C119.8 449.7 122 439.5 116.1 428.6M123.9 420.4Q120.8 425.3 116.1 428.6M101.1 335.6C116.7 338 129.9 323.7 141.2 325.3M114.6 364.7Q113.7 363.7 112.5 363.8M141.2 325.3Q141.9 326.5 142.1 327.9M140.9 385C132.5 375.6 118.7 373.5 114.6 364.7M113.6 365.3Q113.3 364.4 112.5 363.8M113.6 365.3C112.5 377.8 112.7 388.6 110.5 399.2M175.6 331.2C165.3 329.6 153 328.2 142.1 327.9M236.5 354.9Q236.9 355.7 237.7 356.1M223.3 415.1C216.2 415 210.9 419.1 203.4 421.7M174.4 392.5C181 382.3 194.4 384.5 204.3 383.2M265.8 393Q266.1 393.4 266.4 393.9M379.1 407C370.3 408.1 357.2 414.8 347.5 418.4M397.3 305.8C402.9 313.1 394.1 323 401.7 331.7M331.1 343C338.8 340.6 347.8 343.2 354 345.3M124.1 575.6C120.5 571.1 113.1 568.9 110.8 563M110.8 563C104.3 562.3 99.1 563.2 95.8 567.1M75.9 521C79.6 514.6 86.5 508.4 97.1 505.2M352.6 159.3C342.5 159.2 330.2 160.3 324.3 166.7M276.8 141.6C268.8 138.2 272.6 125.9 265.3 121.7M268.3 118.8C281.7 111.6 288.8 108.9 303.7 115.1M224 113.2C216.9 105.9 208.6 97.9 203.4 88.8M229.3 69C221.1 76.1 210.1 80.3 203.4 88.8M170.8 186.2C171.6 193.9 164.3 200.3 159.8 209.5M170.8 186.2C166.2 180.3 165.5 170.5 161.2 162.5M161.2 162.5C152.9 162.5 144.8 163.5 139.6 157.4M139.6 157.4C128.1 161.5 124.8 176.2 122.5 185.7M48.3 57.1C59.4 56.5 65.7 74.9 82.4 72.6M83.3 77Q82.8 74.8 82.4 72.6M256.7 533.9C256.7 529.1 256.2 524.5 256 519.4M256 519.4C247.7 519.3 238.8 507.5 230.8 507.8M219.4 523.3Q219.5 525.3 219.9 527.4M202.4 536C192.4 542.5 194.8 554.6 186.7 562.1M273.9 419.8C266.1 421.7 258.1 420.5 249.5 426.4M431.7 480.5Q435.1 485 440.4 487M436.4 495.9Q437 490.8 440.4 487M401 473.9C400.1 464.9 401 458.1 397.8 450.4M441 521.5C438.5 514.7 442.1 504.5 436.4 495.9M461.8 481.6C461 495 475.7 498.1 475.6 507.7M461.8 481.6Q457.9 481.3 454.3 479.9M423.6 427.5C425.3 431.9 427.2 436.3 429 440.5M357.4 562C364.1 561.3 366.1 555.4 372.3 552.1M386.3 526.4C381.9 526.6 378.1 533.8 374 534.3M384.4 495.3Q379.7 492.8 374.4 492.5M430.6 188.3C423.5 192.2 418.4 199.5 415.5 207.4M388.9 214.8C390.7 221.5 391.6 228.8 391.5 236.7M360.6 208.2Q365.7 206.9 370.8 206.8M321.8 212.3C331.1 207 339.1 198.2 346.5 192.8M321.8 212.3C326.6 218.7 328.1 225.5 335.9 231.5M361.7 211.2Q362 209.4 360.6 208.2M376.7 251.3C368.6 239.9 362.7 222.4 361.7 211.2M376.7 251.3Q378.1 250.2 379.4 248.9M379.4 248.9C383 246.3 387.1 241.2 391.5 236.7M388.9 214.8C383.8 212.7 376.5 206.6 370.8 206.8M318.7 538.2Q320.9 539.2 323.1 538.1M318.7 538.2C313.4 541.7 304 544.4 298.5 547.1M298.5 547.1Q299.2 552 299.6 556.9M262.4 560C262.1 555.5 258.9 549.4 263.1 543.1M286.3 535.8C277.8 534.2 270.8 543.3 263.1 543.1M242.9 479.5C250.2 479.4 252.7 486.2 258.8 485.3M256 519.4Q259.6 516.4 262 512.4M222.1 249.1Q218.5 255.3 211.7 253M175.7 298.9C184.9 300.6 189.3 293.3 199.3 293.9M195.6 323.5C196.9 316.7 204.1 309.3 207.8 302.2M142.5 317.4Q141.1 321.3 141.2 325.3M176.8 298.6Q176.3 298.9 175.7 298.9M211.7 253Q208.5 252.5 206.3 254.9M206.3 254.9C203.7 269.1 195.3 281.9 199.3 293.9M107.6 242.5C112.3 238.2 114.1 231.4 118.1 226.3M124.8 191.8C120.9 198.2 115.5 209.4 113.6 217.9M296.7 190.6C289.7 197.3 283.7 201.2 280.9 209.8M194.8 185.9C199.6 183 203.3 176.9 209.8 172.1M186.6 232.7C178.9 223.5 168.6 217.5 159.7 212.8M206.3 254.9Q202.5 251.4 197.4 251M193.8 144.3C187.9 147.3 180.3 145.8 172.9 146.9M251.4 167.9C256.2 163.8 262.8 165.2 266.8 159.3M290.9 183.2C287.4 180.8 280.9 181.1 275.7 177.3M231.4 179.7Q236.7 179.3 242.1 179.5M234.3 146.8C242 152.3 248.2 157.5 251.4 167.9M373.2 87.4Q373.8 90.3 373.4 93.2M393.4 114C398.1 110.3 405.7 109.1 409.2 104.5M232.7 7.2Q235.6 10.4 240 11M273.6 -2.5C263.2 6.3 253 9.9 240 11M198.8 44.4Q199.1 41.1 199.4 37.8M301.2 394C307 388.1 320.2 391.9 324.4 381.4M322.4 378.4Q323.1 380.1 324.4 381.4M296.5 431.7C298.9 419 294 405.6 301.2 394M296.5 431.7C291.5 427.2 281.3 427.2 273.9 419.8M34.2 401.6C37 413.8 26.5 419.6 26.6 432.5M26.9 388.3C29.5 392.3 31.9 397.5 34.2 401.6M20.2 434.8Q23.1 432.9 26.6 432.5M45.8 346.9C49.6 341.8 52.8 334.3 55.6 326.8M87.3 318.3Q84.8 317.1 83.9 314.5M101.1 335.6Q97 330.9 91 329.4M103.3 269.6C94.9 269.1 86.8 271.2 80.5 272.6M241.4 460.9C240.6 466.7 240.7 473.5 242.9 479.5M394.4 447.5C389.4 447 384.8 445.9 380.1 445.9M394.4 447.5C395.5 439.1 400.1 424.5 403.7 415.8M403.8 410.6Q402.3 413.2 403.7 415.8M423.6 427.5C417.7 422.8 410.5 419.9 403.7 415.8M350.9 289.6C355.2 281 349.5 272.6 348.4 262M339.5 254.9C332.4 255.6 326.3 257.5 317.7 257.2M352.9 295.6Q351.9 292.6 350.9 289.6M319.5 333C323.1 321.1 306.7 309.5 312.9 294.5M376.7 251.3C367.7 260.1 357.2 254.2 348.4 262M300.4 251.7C304.8 254.3 310.5 259 317.7 257.2M29.3 583.8Q28.7 581.5 28.7 579.2M21.3 437.8C13.7 438.9 4.4 447.5 0.6 454.2M69.2 249C64.1 246.8 60 243.9 53.2 244.7M47.7 144.2C56.9 150.5 59 158.4 60.1 166.9M60.1 166.9C56.6 170.9 50.4 174.8 47.2 178.4M47.2 178.4C37.2 175.1 29.8 173.5 20 166.4M-12.5 178.4Q-7.2 177.8 -2.2 176.3M108.8 46.5C114.8 51.5 124.4 50 130.7 55M108.8 46.5C110.4 38.6 107.6 33.1 108.3 26.7M91.1 12.8C95.4 20.7 101.2 22.3 108.3 26.7M323.6 445.6C323.6 453 325.1 462.3 328.3 470.9M380.1 445.9C374.6 446.4 371.4 451.6 366.4 451.2M274.3 452.2C278.3 450.2 285 447.5 289.2 443M274.3 452.2C273.9 460.4 269.7 470.9 273.3 479.6M273.3 479.6C276 482.9 280.7 483.8 284.9 484.6M284.9 484.6C284.5 491.7 283.3 503.2 284.1 512M392.6 559.7C398 553.8 406.5 545.3 407.5 536.7M417.9 536.6Q414.9 536.5 412.2 535M372.3 552.1C378.4 552.9 385.9 557.5 392.6 559.7M406.4 290.4Q409.8 289.5 412.3 287M452.2 274.3C447.5 271.4 442.6 272.6 439.2 269.3M416.4 172.1C409.3 176.6 402.8 181.2 395.6 182.7M388.5 153.5C388.9 161.6 398.8 167.7 396.3 179.8M396.3 179.8Q396.1 181.3 395.6 182.7M420.2 154C415.3 152 411.1 149.5 408.2 145.5M404.8 204.1C399.2 198.4 399.7 190.5 395.6 182.7M410.7 140.3Q408.8 142.6 408.2 145.5M379.6 150.4Q384.6 150.2 388.5 153.5M158.7 258.1C160.3 264.7 157.9 273.4 158.4 281.2M197.4 251Q195.8 251.7 194.5 252.9M148.4 252.7Q151.9 258.6 158.7 258.1M182.2 441.1C177 447 171.3 450.6 166.7 455.5M187.4 478.5C180.4 481.7 172.3 482.8 167.3 485.5M165.3 417.3C167.2 425.2 175 433.7 182.2 441.1M130 474.4C142.3 474.9 152.6 479 161.4 479.8M39.1 564.7C50.5 568.3 53.7 582 67.3 588.1M41.6 548.5C46.2 546.4 48 542.8 53.3 541.3M75.2 582.9Q71.4 585.7 67.3 588.1M28.7 579.2C32.1 574.2 33.6 568.3 39.1 564.7M88.7 579.1C84.3 578 79.6 581.8 75.2 582.9M57.9 534.2Q55.4 537.6 53.3 541.3M21.6 510.7C9.5 506.8 -1 515.3 -9.6 512.5M207.6 133.1C203.8 123.8 188.1 122.3 190.3 110.2M172.9 146.9C172.9 141.2 168.7 136.6 168.1 131M190.3 110.2C185.7 109.6 181 115.3 176.7 114.3M47.4 191.6C39.3 195.8 32.8 200.2 27.1 206.1M65.2 201.4Q64.5 207 67.4 211.8M47.2 178.4C47.7 182.6 46.6 186.6 47.4 191.6M-2.2 176.3C10.1 186.5 23.6 186.8 27.1 206.1M15.1 233.1C20.1 230.7 23.5 226 26.7 224.1M107.7 186.1C105 179.6 105.8 172 102.3 165.3M102.3 165.3C99.6 159.4 92.7 159.5 86.8 157.3M141.5 115.7C142.8 130.6 141.9 141 139.7 157.1M102.3 165.3C109.1 160.5 114.8 152.8 121.5 149.4M139.7 157.1C133.8 151.6 129 149.2 121.5 149.4M62.4 132.7C65.2 127.2 69.5 121.3 64.6 113.1M47.5 103.8C51.9 110.5 57.7 111.1 64.6 113.1M328.4 505C321.4 507.7 316.7 509.9 308.7 512.6M321.3 479.2C314.8 481.9 307.1 479.5 301.4 480.8M336.7 507.1Q332.6 505.6 328.4 505M328.3 470.9Q327.3 477.2 321.3 479.2M300.5 480.1Q301 480.3 301.4 480.8M33.8 497.4C30 487.3 22 486.5 16.2 479.7M33.8 497.4C48.3 497.7 57.3 491.5 63.2 482.8M93.4 491.9C87.7 482.1 73.5 477.3 67.3 470.5M180.4 70.2C165.1 59.4 153.4 64.1 135.5 62.2M163 35.4C154 44.4 143.2 46 133.3 57.5M179.1 74.5Q179.5 72.3 180.4 70.2M130.7 55Q132.2 56.1 133.3 57.5"/>
<path id="m2p3" stroke-width="2.9" opacity="0.75" d="M-1.6 318C8 313 15.3 300.7 29.3 297.7M29.3 297.7C27.1 289.5 26.5 284.2 23.1 276.6M6.1 257C-6.7 259.2 -13.5 248.8 -21.4 245.3M24.7 339.3C20.7 343.3 11.9 348.5 10.5 356.2M-24.2 424.2C-15.2 423.9 -5.4 422.1 4.9 420.1M492.6 214.4C484.1 224.1 470.1 226.3 464.7 233.4M475.5 253.6C468 247.6 469 240.2 464.7 233.4M417.4 391.3Q417.1 390.1 415.8 389.9M483.2 292.1C476 297.8 470.5 302.1 461.4 303.1M132.3 299.3C125.4 296.8 117.9 299.4 115 293.4M136.3 259.4C136.3 268.8 133 281.3 138.7 288.1M372.8 30.3Q367.7 31.7 363.3 28.7M58.2 298.5C63 291.4 57.5 284.9 59.3 280.1M261.6 102.8C266.7 105.7 265.8 113.9 268.3 118.8M168.9 499.3C171.3 504.2 177.9 506.3 179.5 510.5M494.9 544.6C487.5 544.5 481.6 543.4 473.8 548.3M432.5 532.9C435.6 539.9 440.6 553.3 445.2 560.5M456 422.5C447.8 419.6 445.8 412.1 437.7 409.7M461.3 162.4Q465.2 166.3 467.3 171.3M464.7 233.4Q460 231.7 456.2 228.7M457.6 185.5C462.3 182.5 462.3 177.7 466.6 175M467.3 171.3Q466.4 173.1 466.6 175M347.6 139C352.4 145.4 355.6 150.7 352.6 159.3M379.6 150.4C373.3 153.7 364.7 156.9 359.1 160M222.1 249.1C238.9 253.8 250.2 258.1 259.4 272.6M297.3 46.6C300.9 41.5 304.5 35.4 306.6 29M332.5 30.7C332.4 22.8 329.3 13.8 325.3 4.6M291.9 78.4C278.9 81 271.2 82.8 261 90.5M261 90.5C260.6 81.8 248.1 77.3 248.3 68.2M248.3 68.2Q250 62.2 250.9 56.1M295.2 48.4C286.4 51.4 279.2 46.2 272.6 47.4M250.9 56.1C256.8 53 266.9 50.7 272.6 47.4M295.7 9.3C290.2 7.2 286.5 1.4 280.9 3.5M272.6 47.4C276.1 35.1 281.4 17.7 280.9 3.5M127.9 470C123.5 467.8 118 465.6 117.5 460.6M143.3 342.9C143.6 338.5 140.5 333 142.1 327.9M143.3 342.9C134.7 349.2 122.3 356.5 114.6 364.7M141.8 389Q142.3 386.7 140.9 385M110.5 399.2C97.3 401 87.3 398.5 77.4 396M154.1 359.4C159.7 358.1 164.4 362.1 169.1 364M173.3 399.4Q174.1 396 174.4 392.5M175.6 331.2C173.7 337.9 177.5 348.5 181.8 353.7M374.8 378.6C381.2 388.9 375.1 399 379.1 407M138.8 535.7C128.7 536.1 123.1 539.2 113.8 540.3M88.7 579.1C91.5 585.3 99.5 588.3 105.9 595.2M75.9 521C85.3 524.7 89.6 531.1 95.9 536.3M107.5 535.2C108.2 526.9 108.5 519.6 110.2 512.8M110.2 512.8C105.1 509.5 102.2 506.1 97.1 505.2M85.2 552.2C88.1 556.8 95.7 559.4 95.8 567.1M85.2 552.2C88.7 548 95.4 541.9 95.9 536.3M124.8 505.7C129 510.7 134.7 515.9 139 520.3M127.6 475.6C117.8 486.4 107.7 489.4 93.4 491.9M127.6 475.6C133.3 486.1 126.3 497.1 124.8 505.7M93.4 491.9C93.6 497.4 96.3 500.2 97.1 505.2M331.3 132.6C330 126.2 333.1 118 333.5 112.1M333.5 112.1Q328 110 323 106.9M342 76.6C344.8 88.3 340.9 96.7 344.5 106.2M327.4 80.6C325.3 90 320.4 95.7 323 106.9M248.3 68.2C241.4 67.1 236.8 67.7 229.3 69M124.8 191.8C136.7 199.9 145 205.1 159.8 209.5M124.8 191.8Q123.6 188.8 122.5 185.7M85.4 63.5Q84.3 68.2 82.4 72.6M210.1 484.7C204.3 492 201.7 499.6 201.4 506.9M201.4 506.9C192.7 505.7 188.3 513.4 179.5 510.5M144.1 548.6C152.5 556.2 164.1 562.9 174.5 571.3M172.9 527.1C175 538 179.3 550.9 180.4 563.2M458.4 527.3C465.1 520.7 467.7 509.8 475.6 507.7M431.7 480.5C427.8 467.2 426.8 455 420.6 445.6M440.4 487C447.1 487 448.2 481.1 454.3 479.9M454.3 479.9C451.7 468.5 448.9 457.7 448.2 443.7M448.2 443.7C441 441.3 435.3 442.8 429 440.5M384.1 495.7C395.2 496.4 403.1 502.4 410 507M410 507C421.4 505.8 427.8 498.8 436.4 495.9M401 473.9C412.2 473.2 423.2 479.2 431.7 480.5M437.7 409.7C435.1 415.8 424.9 419 423.6 427.5M359.3 524C354 521.5 347 521.5 342.1 524.8M342.1 524.8C335.3 521 338.1 513.3 336.7 507.1M336.7 507.1C343.3 501.2 358.1 496.3 365.9 487.4M374.4 492.5Q371.2 488.3 365.9 487.4M374 534.3C368.2 533.8 362.1 528.4 359.3 524M386.3 526.4C387.1 517.5 385 506.3 384.1 495.7M451.7 223.8C440.6 217.3 427.6 214.1 419.1 212.3M419.1 212.3Q417.8 209.5 415.5 207.4M419.1 212.3C418.4 220.6 415.8 225.4 411.2 233M388.9 214.8C393.3 211.5 398 207 404.8 204.1M391.5 236.7C396.9 230.6 406.9 240.6 411.2 233M175.7 298.9C178.7 307.7 182.2 315.7 183.9 323.9M207.8 302.2Q204.2 297.4 199.3 293.9M175.6 331.2Q179.4 327.1 183.9 323.9M109 257.5C106.7 251.9 108.3 247.4 107.6 242.5M118.1 226.3C128.9 231.7 137.7 230.8 146.3 227.7M159.8 209.5Q159.8 211.2 159.7 212.8M146.3 227.7C151.9 224.6 153.5 217 159.7 212.8M317.2 212.2C307.9 221.5 296.2 227.1 287.8 235.7M287.8 235.7Q287.7 234.9 287.1 234.2M290.9 183.2Q293.4 187.2 296.7 190.6M186.6 232.7C191.9 224.6 204.8 216.8 206.1 203.2M236.2 224.6C232.2 219.4 224.9 211.9 217.9 206.6M161.2 162.5C163.3 157.5 168.2 151.9 172.9 146.9M193.8 144.3C196.9 151.8 206.1 163.3 209.8 172.1M193.8 144.3C197.8 141.3 200.6 135 207.6 133.1M276.8 141.6C270.3 144.4 269.5 154.1 266.8 159.3M373.2 87.4C375.9 82.4 382.1 79.4 384.8 75.2M375.9 128.9C380.3 120.8 382.4 115.4 392.3 112.1M427.3 80.1C423.7 85.6 414.4 86.3 411.3 91.5M410.7 140.3C402.9 134.6 399.3 123.6 393.4 114M237.2 28C227.3 39.5 214.7 38.2 199.4 37.8M199.4 37.8C191.2 32.9 189.1 24.2 189.5 12.4M232.7 7.2C216.2 12.1 207.1 11.1 190.2 8.4M190.2 8.4Q189.8 10.4 189.5 12.4M198.8 44.4C210.4 54.9 222.2 59.8 229.3 69M191.8 -28.7C194.2 -14.1 193.5 -3.9 190.2 8.4M157.7 -14C161.4 -3.9 166.8 4.2 162.1 15M162.1 15Q162.6 15 163.1 15.2M163.1 15.2C173.8 15.8 179.2 13 189.5 12.4M301.2 394C296.2 389.9 291.5 388 286.7 387.9M296.1 430.6Q295.6 431.1 295.5 431.7M266.4 393.9C272.8 393.1 280.1 388.5 286.7 387.9M72.2 461.5C69.6 452.7 76.3 442.9 69.1 433.4M77.4 396C77.5 403.2 74.8 410.9 71.6 416M54 355C61.4 354.6 68.8 351.3 76.6 351.6M115 293.4C105.1 302.7 93.1 308.3 87.3 318.3M380.1 445.9C384.1 434.6 377.5 419.2 378.3 407.2M378.3 407.2C385.6 405.7 393.9 408.2 403.8 410.6M397.8 450.4Q396.3 448.7 394.4 447.5M335.9 231.5C337 239.3 339.3 245.6 339.5 254.9M50.1 605.8C40.4 598.6 36.5 587.6 29.3 583.8M20.2 434.8Q20.6 436.4 21.3 437.8M107.6 242.5C102.3 235.8 88.6 236.9 81.3 236.1M81.3 236.1C76.2 238.8 71.3 244.8 69.2 249M40.2 269.8C43.1 260.4 48.5 250.9 53.2 244.7M113.6 217.9C106.7 212.8 100.8 210.5 93.8 206.7M122.5 185.7C117.5 185.5 112 184.6 107.7 186.1M94.5 192.3C95.4 197.9 94.4 202.2 93.8 206.7M81.3 236.1C79.2 230.3 78.6 226 78.8 218.9M93.8 206.7C87.9 211.3 82.9 216.1 78.8 218.9M47.7 144.2C39.1 149.9 26.4 154.6 20 166.4M-2.2 176.3C1.5 173.2 7.1 168.5 11.6 167.8M47.7 144.2Q48.1 143 48.1 141.7M130.7 55C134.8 42.2 133.7 29 141.9 15.3M108.3 26.7C111.2 16.7 125.1 18.4 129.9 8.8M129.9 8.8C134 12.3 136.8 16 141.9 15.3M162.1 15C154.9 14.4 149.2 15 141.9 15.3M328.3 470.9C337.5 471.2 348.5 469.3 359.6 472.8M347.9 433.1C352.2 438.5 362.6 444.2 366.4 451.2M359.6 472.8C359 466 363.6 458.1 366.4 451.2M445.2 560.5C438.9 568 433 569.3 424.7 571.1M397 573.1C400.3 574.7 406.4 576.9 410.2 576.5M397 573.1C393.9 569.1 391.9 563.9 392.6 559.7M419.6 572.9Q414.7 574.1 410.2 576.5M419.6 572.9C414.6 562.3 419.7 549.3 417.9 536.6M410.8 616.8C409.9 605.7 399.3 591.8 410.2 576.5M424.7 571.1Q421.9 571.2 419.6 572.9M410 507C414.3 515.8 409.8 528.1 412.2 535M401.9 270.6C407.4 263.4 420.1 256.6 426.6 245.4M379.4 248.9C385.7 256.5 396.9 262.5 401.9 270.6M411.2 233C415 236.4 423.4 238.1 426.6 245.4M397.3 305.8C399.2 301.1 403.5 294 406.4 290.4M456.2 228.7C450.2 236.2 440.4 243.7 432.7 246.9M416.4 172.1C418.5 167.6 422.2 161 420.2 154M388.5 153.5C393.5 147.4 403.5 149.4 408.2 145.5M430.6 188.3C426 181.9 418.1 181 416.4 172.1M454.2 154.4C444.3 160.1 433.4 154.9 420.2 154M194.5 252.9C192.8 267.1 179.5 273.7 171.6 285.8M158.4 281.2C162.3 284.4 166.7 284.1 171.6 285.8M138.7 288.1C144.5 283 150.1 280 158.4 281.2M176.8 298.6C172.8 294.7 172.7 289.6 171.6 285.8M182.2 441.1Q186.8 440.8 191.4 441.6M166.7 455.5C168.3 463.7 163.5 471.8 161.4 479.8M161.4 479.8Q164.4 482.6 167.3 485.5M209.8 482.7C203.1 481.9 193.2 481.1 187.4 478.5M216.7 454.5C211.8 452 203.1 450.8 198.4 450.4M147.7 436.9C153.1 443.7 165.7 446.8 166.7 455.5M130 474.4Q129.4 472 127.9 470M168.9 499.3C167.3 495.1 168.3 490.6 167.3 485.5M39.1 564.7C38.8 558.8 42 554.4 41.6 548.5M69.5 551.1C64.6 549.1 58.5 544.1 53.3 541.3M-13.3 543.8C2.5 545.3 14.3 540.1 27.6 543.2M75.9 521Q72.6 520.8 69.3 520.3M69.3 520.3C63.2 524 60.8 529.1 57.9 534.2M57.9 534.2C52.8 521.3 39.6 508.4 32.4 500.4M32.4 500.4C29.7 504.5 23.9 505.3 21.6 510.7M1.4 459.7C6.6 465.9 9.7 473.5 14.4 477.9M203.4 88.8Q201.3 89.2 199.2 88.7M199.2 88.7C195.2 96.4 195.5 104.2 190.3 110.2M168.1 131C171.5 127.3 175.6 122.2 176.7 114.3M47.4 191.6C52.2 194.8 58.3 200 65.2 201.4M67.4 211.8C58.4 218.2 45.7 218.8 39.6 226.8M26.7 224.1C30.8 225.8 35.1 226.1 39.6 226.8M60.1 166.9C65.2 168.2 69.1 168.8 72.9 170.1M78.3 183.9C74.1 190.7 73.1 199.9 65.2 201.4M78.8 218.9C73.1 218.7 70.8 214.6 67.4 211.8M72.9 170.1C79.5 166.4 81 160.8 86.8 157.3M168.1 131C160.7 126.4 152.5 121.2 141.5 115.7M62.4 132.7C68.4 135.8 77.4 134.6 84.5 141M84.5 141Q87.2 136 91.7 132.4M91.7 132.4C90.2 121.4 89.2 108.4 84.4 99.2M48.1 141.7C51.7 139.4 59.5 138.2 62.4 132.7M111.7 133.5C118.8 136.8 120.3 142.3 121.5 149.4M111.7 133.5C104.4 133.4 96.7 136.2 91.7 132.4M83.3 77C85 82.3 88.9 85.5 89.8 89.8M89.8 89.8Q86.9 94.4 84.4 99.2M328.4 505C333.3 495.5 319.6 487.6 321.3 479.2M288.6 517.1C293.9 514.3 298.9 514.4 303.5 512.6M16.2 479.7C20.3 470.4 25.2 463.6 36.1 460.7M36.1 460.7C46.2 456.7 60.3 466 69.2 465.7M69.2 465.7Q68.1 468 67.3 470.5M32.4 500.4Q33.3 499 33.8 497.4M14.4 477.9Q15.1 479 16.2 479.7M69.3 520.3C67.3 510.1 64.4 497.4 63.2 482.8M21.3 437.8C28.5 445.3 29.3 452.4 36.1 460.7M199.2 88.7C189.7 89 184.7 80.4 179.1 74.5M176.7 114.3C174.9 105.9 171.3 100.6 163.3 95.4M163.3 95.4C168.4 87.4 171.4 78.6 179.1 74.5M141 112.6C134.7 111.1 126.9 113 121.5 116.7M141 112.6C142.7 108.6 141.4 101.3 144.5 97.5M144.5 97.5C141.7 92 131.1 86.6 132.9 78.4M132.9 78.4C121.1 79.5 105 77.6 98.2 91.2M98.2 91.2C103.7 103.2 115.7 103.9 121.5 116.7M111.7 133.5C112.8 127.5 119.8 123.1 121.5 116.7M89.8 89.8Q94 90.6 98.2 91.2M183.9 55C180.6 59.8 180.7 64.9 180.4 70.2M133.3 57.5Q133.7 60.2 135.5 62.2M198.8 44.4C194.7 48.4 187.8 48.9 183.9 55M163.1 15.2C166.4 20.6 162.8 27.9 163 35.4M132.9 78.4C134.9 72.7 136.4 67.3 135.5 62.2"/>
<use href="#m2p2" stroke-width="2.6" opacity="0.6" stroke-dasharray="5 37 3 53"/>
<use href="#m2p3" stroke-width="3.0" opacity="0.7" stroke-dasharray="6 31 4 47"/>
<path d="M327 182.3h0.4M151.6 540.9h1.2M4.7 115.6h0.6M442.1 234.4h0.5M403.2 526.9h0.6M166.4 437.7h0.6M369.9 261.9h1M419.5 17h0.7M361 349.2h0.4M417.1 563.5h0.3M204.2 202.6h1.3M19.4 496.7h0.5M41.9 269.9h0.6M262.2 3.2h1.4M188.9 376h0.6M371.5 487.6h1.3M291.7 103.1h0.5M26.3 375.3h1.3M9.5 258.2h1.3M368.4 55.3h0.9M464.5 227.8h1.1M136.8 264.2h0.4M286.4 428.4h0.8M63.3 361.6h1.1M260.6 351.9h1.1M106.6 385.3h0.9M266.6 301.1h1.1M105.1 541.7h0.9M345.8 496.1h0.3M456.1 4.7h1M128 388.8h1.4M90.4 579.6h1.2M178.7 497.1h0.5M237.5 266.7h0.6M455.9 417.5h1.3M209.9 430.1h0.9M376.5 315.2h0.6M110.4 114.9h1M22.3 320.2h0.5M213.5 389.1h1.2M13.6 346.9h0.9M167 466.3h1M417.2 4.2h1.3M169.9 406.9h0.3M326.3 17.6h0.5M187 258.8h0.4M198.8 407h1.4M395.9 571.2h1.4M404.8 140.1h0.9M361.2 317.5h1.2M88.7 326.7h0.4M233.6 409.6h1.4M37 8.2h1M367.6 438.2h1.4M127.6 219.9h0.3M183.6 74.9h1.4M252.7 319.8h0.9M338.4 286.1h1.1M459.6 394.5h1M260 229.8h1.2M350 571.6h0.3M219.9 72.1h0.5M199.7 353.1h1M332.5 153.8h0.4M14.8 222.8h1M220.7 520.6h0.6M462.9 167.9h0.3M228.9 121.1h1M374 325.9h1M164 558.6h1.3M287.3 86.1h1.3M59.4 400h0.8M72.6 505.4h0.9M297.5 567.5h1M359.9 502.4h0.3M167.8 294.2h1.4M23.9 577h1.1M199.4 338.8h1.1M440.7 483.7h0.9M388.3 384h1.2M368.3 77h0.7M305.7 6.4h0.4M148.7 292.4h1.2M50.8 200.1h1.3M168.1 500.9h1M309.8 101.7h0.4M72.9 577.5h1M409.1 197.3h1.1M318.7 64.7h1M209 355h1.3M234.1 312.3h1.1M343.4 67.6h0.6M51.7 428.6h0.6M378.9 530.9h0.8M422.4 495.3h1.2M174.8 279.6h1.2M453.8 13.9h0.5M365.3 327.5h1.3M385.1 389.8h1.2M55.8 23.6h0.6M103.4 430.8h0.9M338.2 443.9h0.5M388.6 418.5h0.6M295.9 204.2h1.3M175.1 263.5h1M354.6 336.2h0.5M195.3 81.9h0.4M85.4 394.2h1.4M424 338.7h1.3M172.8 350.9h1.3M227.1 437.7h0.7M42.2 479.3h0.8M210.5 566.5h0.4M401.5 472.4h1.2M403 237.4h1M233.7 558.1h0.3M158.2 290.6h0.9M126.2 396.9h1.2M16.8 471.2h0.3M10.8 428h0.5M56.2 189.4h0.8M415.8 5.4h0.7M302.6 339.1h0.4M359.3 183.8h1M252.4 262.3h0.7M417.3 489.3h0.7M143.5 239.6h1.1M275 563.4h1.4M206.5 569.2h1.2M269 175.7h1M341.7 391.2h1.3M141.9 124.7h0.9M125.7 90.7h1.2M392.2 331h0.9M216.5 316.7h0.5M378.1 135.7h0.8M318 559.7h1M29.2 17.6h1.2M62.3 212h1M178.1 241.9h0.6M176.3 300.3h1M265.8 477.8h1.2M322.7 163.6h1.3M455 94.4h0.6M350 359.8h1.1M231.3 272.4h0.9M196.7 150.5h1.2M69.9 495.3h0.5M170.1 102.7h0.7M366.2 277.4h0.5M345 293.2h0.7M38.7 80.7h0.5M34.9 237.8h1.1M150.4 97.8h1M304.5 427.1h0.9M349.8 478.6h1.3M429.3 545.8h1.1M299.4 477.3h0.7M241 536h0.4M354 301.1h0.9M412 504.2h0.8M69.3 516.7h1.1M333.4 475.3h0.8M172.1 310.7h1.2M61.5 436.3h1.2M78.3 97.7h0.9M310.2 412h0.5M445.2 195.7h1.2M350.6 11.1h0.6M218.9 223.2h1.3M299.8 513.9h0.5M353.4 546.6h1.2M442.7 557.1h1.2M366.7 97.7h1.3M9.5 20.9h0.7M155.9 108.1h1.2M28.5 427.6h1.2M124.6 199.6h1M302.1 83.2h0.6M444.4 443.9h1.3M162.8 192.1h1.1M394.7 11.7h0.3M400.9 514.8h0.6M278 70.2h0.5M34.6 150.2h0.3M173 225.9h1M415.7 194.8h1.3M149.5 236.3h0.9M217.7 394h0.4M399.4 48.3h0.6M334 102.2h0.6M458.8 90.2h0.8M344.4 509.2h0.3M14.4 78.6h0.4M176.7 475.7h0.8M258.2 528h1M398.5 461.1h0.8M337.3 282.7h1.1M453.6 242.4h1.3M221.4 27.2h0.9" stroke="#2a2a2a" stroke-width="1.8" opacity="0.5"/>
</g>
<rect width="100%" height="100%" filter="url(#m2n)" opacity="0.03"/>
<rect width="100%" height="100%" fill="url(#m2h)"/>
<rect width="100%" height="100%" fill="url(#m2v)"/>
</svg>
<rect x="641.4" y="12.8" width="84.4" height="69.2" fill="#fff" stroke="#0a0a0a" stroke-width="1.4"/>
<text transform="translate(664.47 63.5) scale(0.745 1)" font-family='"Liberation Serif", "Noto Serif CJK SC", serif' font-size="51.67" fill="#111">2#</text>
<rect x="1048" y="521.7" width="47.7" height="47.2" fill="#fff"/>
<text transform="translate(1056.39 551.3) scale(0.584 1)" font-family='"Liberation Serif", "Noto Serif CJK SC", serif' font-size="20.45" fill="#222">10 µm</text>
<rect x="1052.5" y="554.2" width="38.3" height="2.9" fill="#0a0a0a"/>
<svg x="1122.7" y="3.8" width="469.6" height="580.7" viewBox="0 0 469.6 580.7" overflow="hidden">
<rect width="100%" height="100%" fill="#606060"/>
<g fill="none" stroke="#242424" stroke-linecap="round" stroke-linejoin="round" filter="url(#m3b)">
<path id="m3p0" stroke-width="1.5" opacity="0.3" d="M-8.9 39.4C-8.2 31.1 -9.8 21.6 -3.9 14.2M-12.3 98.4Q-7.6 98.8 -5.3 94.8M-5.3 94.8C-4.3 89.2 -3.4 81.6 -3.8 73M-8.9 39.4C0 45.6 6.4 52.2 11.4 60.3M348.1 33.3Q347.4 38.1 349.7 42.5M308.2 51.5C321.6 50.8 339.7 48.8 349.7 42.5M476.8 12.5Q474.3 7.9 470.2 4.6M204.6 532.1C197.9 530.7 197.5 539.5 193.7 542M193.7 542C200.1 553 198.6 560.4 203.3 572.1M191.8 572.8Q197.4 570.6 203.3 572.1M174.8 536.4C180.1 537.2 185.8 542.5 193.7 542M211.9 584.2C208.4 580.9 203.2 579.4 202.9 572.9M464.9 307.1Q464.4 307.8 464.2 308.6M280.2 527.2C275.1 519.8 267.7 513.7 265 503.9M26 98.6C28.5 91.5 32.7 85.9 32.7 79M345.6 200.7Q345.1 195.4 345.3 190.2M306.4 179.9C303.8 187.7 299.2 200.5 299.5 210.2M299.5 210.2Q302.7 212.8 306.2 214.7M479 15.1C475.5 24.4 466.4 32.2 458.4 37.7M210.9 526.4Q212.3 520.5 207.9 516.4M246.3 504.4Q243.3 503.3 241.6 500.6M207.9 516.4C218.4 508.6 224.7 496.5 235.5 495.6M87.8 501.6Q90.6 499.8 91.4 496.6M-19.5 562.7C-12.1 566.7 -8.4 559.9 -2 556.7M323.9 547.2C328.6 551.4 332 556 331.9 561.1M323.9 547.2C310.2 547.6 297.4 543.9 282.7 549.9M265.3 621.1C275.2 612.3 280.5 593.3 296.2 579.7M336.4 563.6Q334 562.7 331.9 561.1M265 503.9C270.1 498.4 273 492.6 277.3 487.3M462.5 322.2C476.4 327.1 494.7 330.3 511.7 335.7M461.6 325.2Q460.4 326.7 460.5 328.6M390.5 297.4C389.6 288.5 389.1 272.3 386.2 263.3M309.2 260.4C314.4 262.7 321.7 265.8 327.1 267.5M27.1 43.5C31.1 41.9 35.2 40.3 39.8 39.2M40.7 38.3Q40.4 38.9 39.8 39.2M32.7 79C38.4 78.7 43.4 78 49.8 75.4M152.8 337.4Q149.1 338.6 145.7 340.5M94.4 323.8Q95.8 318 93.9 312.4M375.4 126.5Q379 125.2 382.4 127M383.6 132.9Q383.5 129.9 382.4 127M383.3 85.6C392.2 95.5 397.2 111 406.9 117.5M360.3 48.8Q362.2 48.7 364.1 48.7M383.3 85.6C384.3 79.8 384 73.5 391.5 69M315.3 155.7C312.7 151.5 309.3 143.4 304.2 139.8M265 68.5C260.3 78.6 264.2 88.6 258.9 97.6M251.3 151.6C240.2 151.4 229.1 155.9 220.5 153.4M252.3 160.4C252.6 165.9 250.2 170 251.1 174.9M266.7 238.6C257.5 232.8 252.9 227.6 249.7 217.4M293.7 242.8C289.8 237.7 283.6 236.9 277.7 233.1M299.5 210.2C294.5 213.9 287.1 212 281.4 211M463.2 127.2C446.8 133.7 426.6 116 412.6 114M405.2 64C411.2 71.3 416.9 85.5 424.9 94.9M438.4 67.9C433 62.4 434.3 54.5 429.6 47.6M430.9 82.9C428 85.5 428.2 91.4 424.9 94.9M429.8 -1.8C419.7 -3.3 414 6.6 404.3 10.6M460.6 40.7C459 45.5 460.7 51.4 458.3 55.8M438.4 67.9C444.1 66.6 450.3 67.3 456.6 67.4M452.5 96.1C458.7 90.8 458.4 82.4 464.3 75.2M236.9 69.5Q234.7 73.7 231.6 77.3M242.9 137.3C240.9 129.7 229.2 124.7 230.7 116.5M174.2 431.4C177 424.4 176.7 417.5 175.4 409.1M175.4 409.1C170.7 406.7 168 404.7 163.9 402M125.9 400.3C125 385.1 130.5 374.4 127.9 360.4M175.5 358.8C171.9 366.3 166.8 372.4 163.9 377.9M126.9 401.4Q130.6 402.3 134.4 402.6M158.2 433.5C153.1 434.4 151.1 440.6 147.2 440.6M55.9 448.6C60.8 444.9 67.2 439.5 72.6 437.8M179 505.1C183.8 493.2 189.3 480.6 187.5 466.3M200.6 493.2C203.3 487.8 207.7 480.9 211.5 472.7M194.1 437C186.5 439.3 179 437.8 174.2 431.4M220.1 400.5Q216.5 397.4 212 395.8M493.1 585.8C484 586.7 479.1 589 469.7 589.1M383.9 561.4C396.3 556.3 412.3 555.4 424.7 551.1M196.1 115.1C192.7 107.5 189 94.3 192.6 86.6M196.7 48C188.9 49.4 183.1 54.8 179.8 64.5M23.8 113.4C34.2 116 47.5 118.4 55.9 123.4M33.1 336.4C37.3 328.5 37.8 321.6 37.9 313.2M103.9 358.2C103.3 347.5 102 336.7 94.5 328.2M93.1 297.2C80.7 303.5 61.4 299.4 51.4 308.5M65 336.5C70 336.7 74.5 338.2 78.7 337.6M486 204.5C481.2 204.2 477.7 202.4 472.8 204M474.5 245C465.6 237.9 460.4 230.5 456 222.2M168.4 96.7Q169 94.2 170.1 91.8M164.5 65.2C170.4 67.5 174.1 66.4 179.8 64.5M101.5 531.6Q98.9 530.4 96.8 528.6M251 455.1C247.6 450.5 240.3 445.6 239 439.3M239 439.3C245.6 432.2 252.2 421.5 257.6 407.9M269.5 412.8C277.5 409.9 286.4 417 291.9 422.1M292.8 424.2Q292.2 423.2 291.9 422.1M225.2 432.9C229.1 434.4 235 437.5 239 439.3M308.7 484.3Q311.2 482.6 314.2 482.1M14.5 586.2C13.4 580.3 5 580.7 3.5 573M76.9 597.1Q76.3 589.9 83.1 587.4M101.5 531.6C109.7 538.8 107 552.5 110.3 564.3M268 322.4C262.4 321.6 261.2 315.5 259 311.3M220.1 343.2C225.4 335.4 224 326.8 231.1 321.5M406.1 462.4C417 465 429.6 463.9 441.9 471.4M457.6 519.3C452.1 525.7 437.2 529.6 433.9 538.1M425.1 511.3C423.4 519.5 430.3 529.1 433.9 538.1M471.7 484.7C461.9 489.5 455.8 481.6 445.3 481.9M426.9 419.7C413.8 413.6 403.5 420.9 392.3 417.5M395.4 397.1C395.6 401 395.8 406.8 393.3 410.8M379.5 458.9C387.4 460.1 391.4 456.9 395.7 452.5M478 548.7Q479.2 549.5 480.5 548.9M458.6 520.3C464.7 516.4 471.9 511 479.1 503.9M131.3 192.8C129 199 125 202.6 121.6 206.2M121.6 206.2C120.4 212.4 123.8 215.5 124.3 220.7M111.5 204.5Q106.3 203.7 101.1 202.7M103.5 276.9C107.8 271.6 111.3 267.8 116.3 266.1M152.1 73.8C147.9 68.3 138.5 64.4 132 57.1M32.6 438C29.5 436.2 26.3 430.8 23.9 427.7M5.4 364.6C12.3 370.5 19.5 366.1 24.9 367.1M33.1 336.4Q35.1 339.5 35 343.3M44.9 307.6Q48.2 308.1 51.4 308.5M3.3 388.4C6.3 392.7 10.4 394 14 396.5M14 396.5C17 406.5 18.9 413.1 18 422.5M134.2 97.3C128.8 103.9 123.5 111.5 118.4 119.7M143.8 136.6C138.5 136.5 136.2 134.1 132.4 131M124.6 82.1C122.9 90.8 132.1 92.1 134.2 97.3M84.6 115.9C91.6 117.2 97.5 117.9 103.1 118M105.5 166.7Q108.7 167.5 111.9 167.2M383.6 493Q381.3 498.4 380.1 504.1M392.3 524.4Q389.5 524.8 387.4 526.7M405.6 482.5C403.1 487.8 396.7 489.4 395.3 494.6M78.3 233.3Q82.6 234 86.4 231.8M86.5 187.9Q84.1 189.6 82.3 191.9M86.5 187.9C88.2 182.9 89.2 178.5 91.6 174.3M35.1 381.4Q35.9 378.3 36.8 375.2M15.7 308.4Q12.8 304.8 8.3 303.9M202.4 40.8C209.2 51.4 222.5 44.1 231.8 48M31.1 211.3C25.9 215.2 26 224.2 21.9 231.6M46 268.5Q42.8 268.3 40 269.9M37 273.8C26.8 270.7 15.6 263.8 3.6 258.5M37.5 271.5Q38.9 270.9 40 269.9M3.6 258.5C2.9 252.6 2.7 248.9 2.9 243.1M103.9 358.2Q100.5 361.4 96.9 364.3M11.3 291.7C1.7 293.8 -0.6 278.3 -7.4 277.1M25.2 158.4C26.1 163.8 25.7 168.8 25.8 173.9M-2.4 174.3C-6.2 166.4 -7.2 154.8 -9.2 142M25.9 175.3Q26 174.6 25.8 173.9M23.8 113.4C17.7 118 11.9 126.9 11.2 134.2"/>
<path id="m3p1" stroke-width="2.0" opacity="0.48" d="M274.8 548.4Q274.8 547 274.5 545.6M245.7 558.4C233.9 567.6 232.7 590.6 233.8 604.3M245.7 558.4C251.4 553.7 257.6 551.7 260.8 547.8M260.8 547.8C265.8 545.1 270.9 546.4 274.5 545.6M-18.1 10.8C-13.4 9.4 -8.7 10.9 -3.9 14.2M-3.8 73C-0.7 68.7 6.9 66.2 11.4 60.3M314.8 -7.1Q314.4 -4.3 312.9 -1.8M444.3 1.7Q441.1 -1.9 439.8 -6.7M210.9 526.4C214.5 530.4 216.4 536.3 222.4 538.5M260.8 547.8C256 539.8 250.9 530.6 242.7 524.4M464.2 308.6C481.1 296.4 501.1 309.6 516.8 300.6M469.1 278.5C482.7 276.1 496.5 278.9 506.1 271M242.7 524.4C242.7 517.8 242.7 509.3 246.3 504.4M-5.3 94.8C3.5 100.1 15.5 103.1 22.9 107.6M11.4 60.3Q12.7 59.9 13.7 58.9M13.7 58.9C19.9 64.1 26.7 71.3 32.7 79M13.7 58.9C22.3 57 26.6 52.4 27.1 43.5M359.8 178.2C353.5 181.6 346.5 183.6 345.3 190.2M348.3 138.4Q348.7 139.1 348.8 139.8M319.3 172C317.3 167.9 313.9 160.7 315.3 155.7M348.8 139.8C334.4 143.9 323.3 147.3 315.3 155.7M319.3 172C316.7 175.3 311.4 177.1 306.4 179.9M336.6 -24.1C348.2 -16.6 356 -4.9 359.4 4.2M348.1 33.3C355.9 25.3 349.4 12.9 359.4 4.2M308.2 51.5Q312 55.5 312.6 61.1M351.3 86.7Q350.7 89.2 349.7 91.6M444.3 1.7C441.8 13.3 444.6 24.3 443.2 33.9M443.2 33.9C448.2 35.9 453.2 35.4 458.4 37.7M89.8 466.7C74.6 467.8 66.5 454.9 57.9 452.8M-22.2 523.8C-15.1 531.7 -9.5 540.2 0.4 544.7M-16.3 507.6C-11.7 504 -3.1 500.8 3.3 499.6M313.8 578.9C308.4 581.6 302.1 582.3 296.2 579.7M320 609.6C314.7 601.2 316.5 587.4 313.8 578.9M274.8 548.4Q278.7 549.6 282.7 549.9M280.2 527.2C287 522.9 294 520.6 300.6 518.1M322.4 534.5C314.8 527.3 304.2 525.4 300.6 518.1M460.5 328.6C473 339.5 480.3 354.5 490.6 365M388.8 306.3Q387.9 302.7 387.1 299.1M449.8 334.7Q455.2 331.7 460.5 328.6M409.2 358.2C417.9 364.7 418.2 374.5 422.2 381.6M435.8 337.6C432.2 347.6 414.8 350.8 409.2 358.2M388.8 306.3C389 320.9 371.7 330.4 371.7 345.7M425.4 259.8C419.2 254.1 409.4 254.5 404.1 250.7M356.1 211.9Q353.4 208.5 349.2 207.7M334.4 312.4C350 317.2 355.9 330.9 358.4 349.4M187 299.6C181.8 289.2 165.9 294.4 159.1 284M152.8 337.4Q156.5 339.5 160.4 340.8M45.1 10.4C45 17.7 38.3 29 42.3 36.8M145.7 340.5C125.5 337.1 106.5 340.2 94.4 323.8M361 177.1C366.7 160.8 380.3 147.7 383.6 132.9M361 177.1Q360.3 177.6 359.8 178.2M348.3 138.4C357.9 136.8 366.3 128.6 375.4 126.5M382.4 127C388.4 115.9 400.7 121.3 406.9 117.5M364.1 48.7C371.6 55.1 382 61.6 391.5 69M256 152.5C264 163.5 278.3 174.7 289.6 181.6M278 136.2C285.8 142.4 294.8 136 304.2 139.8M258.9 97.6C265.7 102 267.9 108.5 273.7 111.8M312.6 61.1C313 69.9 302.3 84.9 306.5 94.4M290.4 94.8C295.8 92.8 302 93.9 306.5 94.4M208.6 191.2C201.7 189.2 192.9 192.1 186.9 190.6M186.9 190.6C187.9 180.3 185.6 172 181.9 162.5M231.6 246Q231.6 243.6 231.6 241.1M180.7 235.8Q177.6 230 171.4 227.5M174.4 207.3C182.6 206.7 182.5 195.1 186.9 190.6M222.1 199.2C216.3 206.4 215.7 218.6 215.3 225.8M247.8 218.3C240.1 214.5 228.4 205.7 222.1 199.2M118.8 168.7C128.7 163.5 134.6 159.1 146.5 157.7M174.4 207.3C168.3 202.1 159.4 198.1 153.7 191.4M266.7 238.6Q271.4 234.3 277.7 233.1M262 202Q267.6 205.8 273.8 203.3M273.8 203.3Q278.8 205.9 281.4 211M247.8 218.3Q248.7 217.6 249.7 217.4M252.9 153.8Q254.6 153.4 256 152.5M412.6 114Q410.9 115.7 409.9 117.8M468.5 125.6Q465.8 126.1 463.2 127.2M391.5 69C395.8 69.6 402.4 66.9 405.2 64M424.2 97.1Q424.6 96 424.9 94.9M406.9 117.5Q408.4 117.9 409.9 117.8M475.6 112.6C486.4 109.8 502.2 118.8 514.9 105M411.6 53.6C401.5 46.7 400.1 35 390.3 29.5M364.1 48.7C376.6 46.4 383.4 35.6 390.3 29.5M405.2 64Q407 57.9 411.6 53.6M391.2 3.2Q393.8 6.5 394.9 10.7M252.8 99.5C244.3 95.9 236.1 83.7 231.6 77.3M230.7 116.5Q225.1 114.3 220 111.2M231.6 77.3Q226.3 80.5 220.7 83.2M258.9 97.6Q256 99 252.8 99.5M206.3 118.1C202.9 126.9 208.7 138.8 204.7 145.5M174.2 431.4Q169.1 433 164 434.7M164 434.7Q160.9 434.9 158.2 433.5M145.7 340.5C140.7 345.3 135.7 353.3 127.9 360.4M87.8 501.6Q86 506.1 86.1 510.9M141.6 478.8C129.7 473.6 109.8 469.1 104.7 454M165.6 464.8C167 453.3 164.7 443.2 164 434.7M126.9 401.4C125.8 413.6 123.3 421.6 115.2 429.1M55.9 448.6Q56.4 450.9 57.9 452.8M84.4 430.2C93 432 103.1 430 109.2 434.6M157.1 515.1C164.4 512.7 172.1 506.8 179 505.1M174.8 536.4C168.2 530.4 161.6 521.6 157.1 515.1M207.9 516.4C204 511.3 200 509.3 193.4 506.5M10.7 491.6C14.3 484.4 21.2 487.9 25.4 484M25.4 484C22 473.2 24.7 454.1 28.8 443.9M3.3 499.6Q6.3 495 10.7 491.6M-8 462.6Q-5.4 462.8 -3 463.8M175.2 359.2C186.3 371.4 195.3 382.7 199.2 395.5M212 395.8C217.5 382.2 220 363.5 227.6 352.1M254.4 384.9Q252.2 390.2 251.5 395.9M449.8 334.7C452.8 343.3 452.1 354.9 448.6 361.9M481.7 410.8C478 409.1 473.3 406.7 468.9 405.2M318.7 480.3C325.2 481.5 329.2 490.5 338.4 487.3M356.4 453.9C358.7 467.8 357.3 484.9 338.4 487.3M469.7 589.1C464.9 583 462.6 570.5 456.1 562.3M371.6 572.1C374.6 567.5 380.2 565.9 383.9 561.4M356.1 211.9C365.1 213.1 372.8 212.5 381.6 217.1M206.3 118.1Q201.3 116 196.1 115.1M172.8 133.1C179.2 138.6 178 147 184.9 153.1M210.6 80.2C206.4 86.4 197.8 84.5 192.6 86.6M196.7 48C204.7 58.1 206.3 69.4 210.6 80.2M179.8 64.5C180.3 72.4 187.5 78.4 183 86.9M80.8 114.7Q81.4 113.5 81.3 112.1M80.8 114.7C72.5 115.3 64.1 121.9 55.9 123.4M49.8 75.4Q51.1 75.5 52.4 75.3M15.7 308.4C21.8 308.2 31.5 312.9 37.9 313.2M94.5 328.2C87 329.9 86.1 338.7 78.7 337.6M459.4 193.7Q461.1 198.8 463.5 203.7M444.7 162.2C452.7 171.5 456 181.1 454.2 190.6M455.6 222.5C443 214.2 428.4 217.8 420.9 210.4M380.2 181C385.4 175.3 389.4 166.7 395.7 162.9M380.2 181C386.6 183.3 389 194.5 396.3 196.6M396.3 196.6C402.5 194.2 409.6 198.1 418.4 198.7M311.7 127.2C306.7 118.8 299.2 108.1 305.7 94.4M333.3 118C331.9 110 346.7 106.6 343 94.8M345.8 91.4Q344.4 93.1 343 94.8M-0.2 340.8C-1.9 335.7 -6.8 336.2 -10.4 332.6M170.1 91.8C165.3 84.3 160.7 81 156.6 72.6M147.1 521.2C132.4 513.4 114.9 532.2 101.5 531.6M86.1 510.9C87.2 515.5 91.8 520.2 90.7 524.8M253.5 457Q251.8 456.7 251 455.1M299.3 481.6C288.9 467.1 295.5 453.2 280.7 440.5M277.3 487.3C275.1 472.6 266.2 462.7 253.5 457M230.8 479.6C240.9 472.7 246 462.2 251 455.1M251.5 395.9C251.3 399.9 255 405.2 257.6 407.9M301.1 407.3C298.5 413.7 293.5 417.4 291.9 422.1M-16.4 593.6C-13.5 584.4 -4.2 579.8 3.5 573M-2 556.7Q3 558.9 6.6 563M6.6 563Q5.1 568.1 3.5 573M27.9 560.8C33.6 553.9 37.8 550.3 41.6 541.8M52.1 549.9C57.2 563.1 44.9 577.6 53.4 591M37.2 529.7C37.4 534.6 41.7 538.2 41.6 541.8M70.8 549.5C64.3 548.1 56.9 548.2 52.1 549.9M110.3 564.3C118.3 556.8 132.6 566.4 141.9 557.9M151.4 569.6Q150.2 569.4 149.1 569.6M168.7 592.6C157.5 587.9 160.8 574.4 149.1 569.6M147.1 521.2C142.8 534.3 150.5 548.9 141.9 557.9M170.5 559.7C164.1 559.3 159.7 569.6 151.4 569.6M259 311.3Q261.2 305.5 261.2 299.2M455.7 408.8C458.3 422.7 455.3 436.3 452.6 447M433.2 500Q435.4 498.2 438 497M457.6 519.3C454.5 510.3 442.3 504.9 438 497M425.1 511.3C427.5 506.3 430.9 504.7 433.2 500M440.4 405.6C435.9 411.4 430.9 415.5 426.9 419.7M364.4 422.5C372.2 421.8 381.5 413.7 390.2 424.8M322.4 534.5C326.3 522.6 331.5 509.9 343.7 506.8M343.7 506.8C347.2 513.1 352.5 517.6 359 521.4M457.6 519.3Q458.3 519.6 458.6 520.3M109.4 239.7C114.8 246.8 113.5 257.9 116.3 266.1M164.5 65.2C162.8 56.9 161.9 46.5 156.8 41.4M156.6 72.6Q154.5 73.7 152.1 73.8M127.7 44.3C128 49.3 128.3 53.9 132 57.1M68.8 56.9C84.3 60.6 89.1 74.8 96.8 80M83.4 39.5Q78.9 41.2 74.3 42.7M74.3 42.7Q73.6 44.3 73.2 46M52.4 75.3C54.4 67.6 62.9 63.3 68.8 56.9M124.6 82.1C124.9 73.9 131 67.5 132 57.1M-1.7 357.6Q1.9 361.1 5.4 364.6M98.2 20C86.3 15.8 83.9 8.2 77.7 -1.8M98.2 20Q102.3 21.1 106.1 19.2M64.2 9.1C67.1 5.6 73.2 0 77.7 -1.8M156.8 41.4C161.7 34.4 172 36.8 178 33.3M134.2 28C140.5 22.7 148.5 12.9 157 9.4M178 33.3C171.8 28.7 178.3 23.2 174.9 18.6M157 9.4C156.6 2.9 158.9 -2.3 158.7 -10M174.9 18.6C183.3 10.2 185.4 1.4 191.4 -6.8M134.2 97.3Q135.3 97 136.4 97.5M143.8 136.6Q149.5 136 153 131.5M172.8 133.1C167.7 131.9 158.7 132.5 153 131.5M84.6 115.9Q82.2 114.7 81.3 112.1M146.5 157.7C141.2 151.4 145.5 144.9 143.8 136.6M111.9 167.2C111.7 152.9 118.4 138.5 124.1 126.9M395.3 494.6Q389.4 494.4 383.6 493M387.4 526.7C384.1 524.6 380.3 521.3 375 520.1M368.9 486.9C374.3 487.8 377.8 491.3 383.6 493M383.9 561.4C385.2 547.6 384.2 537.2 387.4 526.7M91.6 174.3C87.2 170.1 83.2 167 80 163.9M76.7 197.2Q73.2 198.8 69.6 197.5M69.6 197.5C66.3 189.3 51.7 184.8 51.4 175.3M80 163.9C74.7 160.4 66.8 162.9 61.1 161.1M101.1 202.7C91.4 201.9 91.2 193.1 86.5 187.9M105.5 166.7C99.6 165.2 97.5 172.1 91.6 174.3M80.8 114.7C75.3 128.9 85.5 147.3 80 163.9M55.9 123.4C52.4 128.7 52.6 135.9 50.7 141.9M50.7 141.9C52.6 148.3 57.1 156.8 61.1 161.1M35.1 381.4C37.3 387.2 40.6 392 46.3 394.9M24.9 367.1C29.4 368.8 34.1 371.3 36.8 375.2M36.8 375.2C43.5 372.9 50.3 368.8 57.1 366.1M-11.6 308.4C-4.9 307.1 1.7 308 8.3 303.9M11.3 291.7Q13.6 298.7 8.3 303.9M202.4 40.8C201.7 30 206.9 16.1 212.8 6.6M250 26.4Q249.3 30.3 248.7 34.1M191.4 -6.8C195.6 0.6 208.1 -0.5 212.8 6.6M236.9 69.5C231.4 65.1 232.3 55.9 231.8 48M278.8 13.4C269.4 16 259.1 20.7 250 26.4M31.1 211.3C35.4 212.4 43 213.1 46.9 214.4M56 229.8C57.3 242.8 53.2 256.2 49.3 267.7M26.4 206.8Q28.2 209.7 31.1 211.3M67.9 401.4Q65.2 400.3 62.4 399.8M62.4 399.8C68.9 390.6 73.7 378.8 64.1 368.6M89.2 371.1Q84.4 368.3 79.3 366M45.1 440.8C54.4 428.5 52.8 410.4 67.9 401.4M46.3 394.9C50.9 398.7 56.8 398 62.4 399.8M57.1 366.1Q60.8 366.9 64.1 368.6M78.7 337.6C73.6 346.6 86.3 357.9 79.3 366"/>
<path id="m3p2" stroke-width="2.5" opacity="0.64" d="M-3.9 14.2Q-3 13.8 -2.1 14.1M-38.4 57.8C-29 63.5 -17.7 74.6 -3.8 73M278.4 11.9C278 0.6 272.9 -11.3 266.4 -17.1M292.3 50.5C294.2 35.5 276.8 29.7 278.8 13.4M307.9 50.4Q307.8 51 308.2 51.5M266.4 -17.1C261 -5.6 246.8 -3.9 233.9 -2M223 544Q222.1 541.3 222.4 538.5M191.8 572.8C187.4 567.2 177.8 564.3 170.5 559.7M245.7 558.4C240.2 551.5 233.1 547.8 223 544M494.1 236.1C487.9 240.2 479.5 242.2 474.5 245M246.3 504.4C253 501.2 259.9 502.7 265 503.9M345.3 190.2C335.1 188.4 328.1 178.7 319.3 172M345.6 200.7C331.9 201.1 325.7 216.6 310.2 217.3M345.6 200.7Q346.1 204.8 349.2 207.7M359.4 4.2C371.5 10.8 380.3 4.7 391.2 3.2M357.1 49C361.6 63.6 351.8 75.9 351.3 86.7M-2 556.7Q-0.5 550.8 0.4 544.7M3.3 499.6C11.2 505.1 13.7 517.1 24.4 524.6M414.1 286.9C412.1 274 412.6 266 425.4 259.8M425.4 259.8Q427.4 257.2 430.6 256.3M334.6 612.8C331.1 593.4 336.8 580.1 336.4 563.6M336.4 563.6C342.8 564.7 351.9 562.1 360.9 563.3M313.8 578.9C319.5 572.5 329.4 569.2 331.9 561.1M322.4 534.5C319.6 539.6 324.5 543.1 323.9 547.2M308.7 484.3Q304.2 482.1 299.3 481.6M299.3 481.6C293.8 484.1 286 487.4 277.3 487.3M464.2 308.6C463.5 313.7 466.8 318.9 462.5 322.2M435.8 337.6C424.7 325.7 392.1 328.6 388.8 306.3M254.4 384.9C251 373.3 242.4 365.2 238.7 354.7M386.2 263.3C392.9 260.7 396.4 253.2 404.1 250.7M347.5 261.9C350.2 281.4 377.3 280.3 376.1 295.9M359.8 252.2C355.4 254.5 351.2 259.5 347.5 261.9M328.2 247.1C332.4 251.9 330.5 259 332.8 262.6M293.7 242.8C296.8 236.7 304.4 235.1 308.9 230.7M293.7 242.8Q294.2 248.5 292.3 253.8M181.6 267.6C171 269.3 164.9 274.9 159.1 284M186.6 302.7C175.2 315.2 167 329.7 160.4 340.8M186.6 302.7Q187.2 301.2 187 299.6M146.7 317C154.2 307.7 145.2 294.8 154 285.6M154 285.6Q156.4 284.3 159.1 284M45.1 10.4C35.6 8.1 29.5 -1.8 23 -12M146.7 317C129.1 308.2 107.6 302.6 96 287.1M96 287.1Q94.9 292.2 93.1 297.2M351.3 86.7C361.1 82.3 375.2 84.4 383.3 85.6M273.7 111.8C276.5 103.3 285.7 103.1 290.4 94.8M279.7 60.7C282.2 57.1 286.9 53.3 292.3 50.5M204.7 145.5C208.3 148.3 215.1 151.8 220.5 153.4M251.3 151.6Q252.2 152.6 252.9 153.8M215.3 225.8C205.3 231.3 191.5 231.6 179.9 235.7M171.4 227.5C170.9 219.8 172 213.8 174.4 207.3M222.1 199.2Q221.1 198.3 219.9 197.6M247.8 218.3C244.7 226.2 237.8 234.2 231.6 241.1M221.2 271C213.8 272.4 201.5 274.4 194.1 279.1M131.3 192.8C139.6 188.8 146.5 188.9 153.7 191.4M131.3 192.8C125.1 183.9 124.9 176.5 118.8 168.7M153.7 191.4C159.2 179.6 153.2 169.5 146.8 158.5M181.9 162.5C172 158.4 156.6 151.7 146.8 158.5M277.7 233.1C286 227 278.9 218.7 281.4 211M260.3 251.8C249 248.5 240.6 252.7 231.6 246M289.6 181.6C287.5 189.5 275.9 192.1 273.8 203.3M452.3 153.4C456.3 146 458.4 133 463.2 127.2M471.5 117.8Q467.8 120.8 468.5 125.6M471.5 117.8C474.8 104.3 460.8 102 452.5 96.1M452.5 96.1C442.5 96.8 433.8 90.8 424.2 97.1M432.8 40.5C429 28 415.5 22.1 404.3 10.6M394.9 10.7Q399.6 9.6 404.3 10.6M443.2 33.9Q436.8 35.4 432.8 40.5M479.4 49.4C472.5 48.5 467 44.4 460.6 40.7M464.3 75.2Q460.8 71 456.6 67.4M475.6 112.6C473.3 101.9 471.4 89.2 479.7 74.8M220 111.2C221.5 100.7 216 90.1 220.7 83.2M265 68.5C253.6 63.4 248.2 79.7 236.9 69.5M206.3 118.1C211 114.3 213.5 111.7 220 111.2M158.2 433.5C144.5 425 141.7 415.9 134.4 402.6M175.5 358.8C173.1 354 168.2 349.2 164.3 343.8M38.3 488.3C39.1 498.9 44.9 508.9 48.2 516.2M104.7 454C106.9 447 110.9 440.7 109.2 434.6M109.2 434.6Q112.1 431.7 115.2 429.1M141.1 487.7Q142 483.6 141.9 479.5M89.8 466.7C95.4 463.3 96.7 453.8 104.7 454M141.1 487.7C142.4 495.1 149.1 505.5 153.5 513.1M230.8 479.6C223.3 483.2 219 475.2 211.5 472.7M199.5 448C197.6 452.5 200.6 457.3 197.5 461.5M38.3 488.3C34.4 485.1 30.2 485.5 25.4 484M24.4 524.6C29.6 526.2 33.5 527 37.2 529.7M191.8 572.8C180.3 577.9 174 582.7 168.7 592.6M175.2 359.2C192.2 354.3 203.6 352.8 222.2 350.7M194.1 437C203.6 422.7 212.5 411.1 203.7 394.9M225.2 432.9C213.1 434.4 209.2 445.2 199.5 448M280.2 266.3C281 270.4 280.8 275.7 284.1 278.7M222.2 350.7Q220.5 347.1 220.1 343.2M205.2 324C206.5 332 214.6 338 220.1 343.2M205.2 324C207.7 317.7 203 310.8 208.6 307.5M490.6 365C485.9 374.7 479.5 381.8 469.9 385.1M448.6 361.9C447.1 372.2 428 376.2 428.1 387.1M428.1 387.1C438.3 390.7 436.7 398.3 440.4 405.6M455.7 408.8C450.5 410.2 445 405.6 440.4 405.6M321.7 445.1C328.5 442 336.2 437.6 346.1 437.9M321.7 445.1C329 455.6 320.1 467.1 318.7 480.3M346.1 437.9C349.2 442 348.9 450.6 356.4 453.9M428.3 587.4C437.5 577.9 434 566.6 432.9 558.7M427.2 551.5Q429.4 555.6 432.9 558.7M329.1 402.9C336.3 394.2 341.5 389.7 349.9 383.4M311.9 354.2C324 348.2 337.3 364.1 348.5 361.6M284.9 369.5Q290.1 371 295.6 371M364.4 422.5C356.2 422.1 351.7 429.9 347.1 434.5M393 395.8C378.1 395.8 360.5 398 351.2 385.1M404.1 250.7C405.1 243 401.1 238.9 399.9 231M399.9 231Q394 229.6 387.9 229.5M399.9 231C405.3 233 410.3 226.7 414.8 224.6M172.8 133.1C178 128.4 176.3 121.6 180.8 115.8M210.6 80.2Q216.1 80.1 220.7 83.2M80.2 112.9C71 99.9 64.2 88.8 52.4 75.3M55.9 448.6C51.7 447.2 48.9 441.7 45.1 440.8M15.7 308.4C14.3 319.5 10.9 328.3 7.9 335.4M7.9 335.4C16.7 333.8 25.1 343.8 33.1 336.4M94.4 323.8Q94.7 326 94.5 328.2M65 336.5C54 329.3 54.2 317.2 51.4 308.5M478.1 167.9C473.8 176.1 472 187.8 459.4 193.7M444.7 162.2Q443.9 156.9 448.7 154.4M463.5 203.7C461.9 211.3 457.5 216.8 456 222.2M414.8 224.6C415.4 219.8 417.1 215.4 420.9 210.4M412.2 165.6C407.6 166.6 400.9 163 395.7 162.9M412.2 165.6Q415.9 168 419 171.2M419 171.2C417.6 178.5 415.8 187 419.2 195M416.5 135C418.8 146.4 413.5 154.4 412.2 165.6M361 177.1C366.4 180.7 374 177.2 380.2 181M305.7 94.4C316.2 95.4 330.2 98.9 343 94.8M348.8 139.8C342.7 133.9 341.3 121.3 333.3 118M-1.7 357.6C-10.7 360.9 -19.8 368.6 -32 373M180.8 115.8C178 108.6 170.4 107.8 167.4 99.6M147.1 521.2Q150.3 517.2 153.5 513.1M280.7 440.5C284.7 434.2 291.9 431 292.8 424.2M27.9 560.8C33.5 569.9 33 585.4 38.9 592.7M52.1 549.9C49.9 546.7 46.4 543.6 41.6 541.8M6.6 563C12.3 563.1 21.9 559.7 27.9 560.8M90.7 524.8C83.4 534.9 77 538.5 70.8 549.5M70.8 549.5C81 558.6 83.1 569.9 86.6 582M129.4 594.1C123.9 587.7 111.4 584.3 106.8 573.6M132.4 596.3C142.2 591.5 139.3 575.2 149.1 569.6M86.6 582C93 579.1 98.5 572.6 106.8 573.6M259 311.3C250.2 318.8 243.8 313.2 236.1 311.6M236.1 311.6C232.2 306 229.9 300.2 221.8 299.5M222.8 271.2C225.9 281.4 222.9 290.3 221.8 299.5M438 497C444 492.7 443 486.9 445.3 481.9M441.9 471.4Q443.4 476.7 445.3 481.9M395.7 452.5Q399.8 456.5 405.1 458.7M338.4 487.3Q341 489.3 341.9 492.4M360.9 563.3C364.2 548.2 353.7 532.4 359 521.4M473.9 548.3C466.7 542 452.1 535.7 458.6 520.3M456.1 562.3C461.1 557 465 551 473.9 548.3M164.8 230.4C150.6 234.1 136.5 232.1 124.3 220.7M124.3 220.7C122.1 226.8 115.8 235.4 109.4 239.7M136.4 266.7C130.8 264.9 124 268.7 116.3 266.1M101.1 202.7C95.6 212.8 97.2 220.8 97.6 232M97.6 232C102 235.5 106.1 236.2 109.4 239.7M96 287.1Q96.5 285.1 96.3 283.1M130.5 33.7Q127.7 38.6 127.7 44.3M103 56.7C99.3 62.7 96.2 72 96.8 80M42.3 36.8C49.3 45 63.3 41.8 73.2 46M96.5 79.4C106.5 84.2 114.2 82.5 124.6 82.1M-8.1 427.4C-0.8 422.9 10 416.4 18 422.5M18 422.5Q20.4 425.7 23.9 427.7M24.9 367.1C25.2 358.4 34.9 352.4 35 343.3M65 336.5C61.9 340.9 58.8 344.5 54.5 345.8M37.9 313.2Q41.7 310.8 44.9 307.6M78.2 -2.6C87.1 -0.7 93.2 -8.3 100.8 -15.4M83.4 39.5C89.7 36.5 91.5 26.9 98.2 20M130.5 33.7Q131.3 32.1 132.8 30.9M132.8 30.9C122.5 31.2 117.3 19.2 106.1 19.2M132.8 30.9Q133.3 29.4 134.2 28M66.7 -37.5C69.3 -26.5 81.3 -15.8 78.2 -2.6M157 9.4C161.3 12.3 169.3 12.8 174.9 18.6M152.5 104.7C147.6 98.4 142.8 96.6 136.4 97.5M111.9 167.2Q115.2 168.6 118.8 168.7M105.5 166.7C102.4 145.8 90.2 135.5 84.6 115.9M403.8 516.7Q403 518.9 401.1 520.3M359 521.4C364 519.5 369.9 520.5 375 520.1M424.7 551.1C424.7 537.5 409.5 527.8 401.1 520.3M79.5 272.4C76 262.1 84.4 243.4 78.3 233.3M97.6 232Q92 234.2 86.4 231.8M86.4 231.8C78.2 222.6 83.6 205.6 76.7 197.2M14 396.5C21.7 393.2 27.2 386.6 35.1 381.4M231.8 48C239.2 46 241 33.5 248.7 34.1M232.8 2.2C225.1 -3.4 218.7 6 212.8 6.6M197.4 43.7Q200.3 42.9 202.4 40.8M279.7 60.7C264.7 57.4 260.9 44.4 248.7 34.1M26.4 206.8C17.6 199.4 6.8 204.9 -1.6 205.6M76.2 403.3C83.1 401.1 87.4 395.7 94.4 391.3M94.4 391.3C91.2 384.7 90.4 379.3 89.2 371.1M64.1 368.6C67.2 363.6 74.4 363.3 79.3 366M125.9 400.3C116.6 395.7 103.8 397.2 94.4 391.3M50.7 141.9C45.8 148.3 37.9 157.5 25.2 158.4"/>
<path id="m3p3" stroke-width="3.1" opacity="0.8" d="M278.4 11.9C289.7 14 301.2 5.7 312.9 -1.8M278.4 11.9Q278.4 12.7 278.8 13.4M307.9 50.4C314.5 34.5 324 21.4 314.2 1.4M307.9 50.4C303.5 53.8 297.7 50.3 292.3 50.5M312.9 -1.8Q313.5 -0.1 314.2 1.4M348.1 33.3C334.4 22.5 321.3 14.5 314.2 1.4M233.9 -2C231.8 -11.7 229.5 -19.2 228.7 -29.9M481.5 -18.9C476 -10.3 467.2 -5 470.2 4.6M174.8 536.4C174.4 544.2 173.8 551.9 170.5 559.7M464.9 307.1C465 298.9 470.7 287.6 469.1 278.5M469.1 278.5Q467.3 274.5 465.6 270.4M474.5 245C471.9 251.5 466.3 259.8 465.6 270.4M359.8 178.2C357.8 162.8 357.1 152.4 348.3 138.4M328.2 247.1C320.4 242.1 316.2 236.1 308.9 230.7M310.2 217.3C311 220.9 308.4 225.8 308.9 230.7M391.2 3.2C388.7 -9.2 396.1 -20.6 390.4 -34.4M357.1 49Q353.6 45.5 349.7 42.5M349.7 91.6Q347.7 90.9 345.8 91.4M312.6 61.1C330.4 60.4 334 87.1 345.8 91.4M89.8 466.7C96.2 478.2 87 486.3 91.4 496.6M87.8 501.6C74 496.8 65.6 484.2 53.6 475.1M53.6 475.1C54.4 466.1 57.2 460 57.9 452.8M24.4 524.6C12.1 528.9 7.4 540.6 0.4 544.7M414.1 286.9C423.1 302.2 448.5 290 464.9 307.1M465.6 270.4C452.4 269.8 445.9 258.4 430.6 256.3M381.3 600.4C381.7 588.1 369.4 581.5 371.6 572.1M360.9 563.3C364.2 567.3 369.2 567.7 371.6 572.1M282.7 549.9C282.7 560.1 295.6 569.8 296.2 579.7M300.6 518.1C301 509 304.1 497.2 308.7 484.3M414.1 286.9C407.8 292.7 399.5 296.1 390.5 297.4M435.8 337.6C440.5 336.3 445 334.2 449.8 334.7M390.5 297.4Q388.2 297 387.1 299.1M254.4 384.9C262.1 380.4 270.1 368.1 284.9 369.5M238.7 354.7C243.6 346.7 252.4 339 263.6 336.8M263.6 336.8C276.3 345.1 279.4 355.8 284.9 369.5M409.2 358.2C403.6 360.3 395.9 356.2 388.1 355.6M395.4 397.1C403.5 388.1 412.9 389.7 422.2 381.6M395.4 397.1Q394.1 396.6 393 395.8M393 395.8C395.3 381 391.9 368.4 388.1 355.6M388.1 355.6C383.6 350.5 375.4 350.5 371.7 345.7M347.5 261.9C342.4 257 338 263.2 332.8 262.6M332.8 262.6Q331.1 266.3 327.1 267.5M341 305C351.7 298.2 364.3 295.7 376.1 295.9M341 305C339.4 293.5 333.1 283.9 327.1 272.6M327.1 272.6Q326.4 270 327.1 267.5M387.1 299.1Q381.5 297.9 376.1 295.9M359.8 252.2C366.8 251.5 372.2 251.4 377.9 251.5M377.9 251.5C380.1 255.3 381.9 261 386.2 263.3M356.1 211.9C357.1 222.9 360 241.7 359.8 252.2M334.4 312.4Q339.9 310.6 341 305M358.4 349.4C363.4 348.6 367.6 345 371.7 345.7M334.4 312.4C322.1 316.4 313.9 317.4 302.6 321.2M302.5 290.2C314.4 288.5 318.8 276.3 327.1 272.6M302.5 290.2C302.4 297.6 304.3 308.6 299.9 319.3M299.9 319.3Q300.8 320.9 302.6 321.2M194.1 279.1C191.4 275.5 186.5 271.9 181.6 267.6M194.1 279.1C195.2 285.5 186.4 291.8 187 299.6M146.7 317C155.6 322 154.2 331.4 152.8 337.4M349.7 91.6C354.3 103.6 371.1 108.7 375.4 126.5M256 152.5C262.3 145.7 270.4 139.4 278 136.2M289.6 181.6C296.4 183.4 300 178.2 306.4 179.9M277.9 61.2C274.7 63.9 269.6 67.3 265 68.5M277.9 61.2C272.1 72.9 275.8 87.1 290.4 94.8M184.9 153.1Q185.1 158.4 181.9 162.5M219.9 197.6C216.8 195 211.5 194.3 208.6 191.2M179.9 235.7C192.2 245.2 212.1 252.8 220.2 265.1M220.2 265.1C220.9 258.1 221.3 248 231.6 246M221.2 271Q221.1 268 220.2 265.1M180.7 235.8C176.3 246.8 178.8 255.6 181.6 267.6M260.3 251.8C264.3 248.2 263.7 241.8 266.7 238.6M251.1 174.9C256.1 181.2 259.8 192.3 262 202M448.7 154.4C436.8 145.8 426.5 141.8 416.5 135M416.5 135C414.9 128.8 414.4 122.6 409.9 117.8M485.4 139.4C477.9 136.9 472.6 129.9 468.5 125.6M478.1 167.9C472.7 160.5 459 157.5 452.3 153.4M424.2 97.1C421.2 104.2 423 111.8 412.6 114M432.8 40.5Q430.5 43.7 429.6 47.6M390.3 29.5C392.8 23.2 395.1 16.9 394.9 10.7M252.8 99.5C241.9 99.1 241.5 114 230.7 116.5M125.9 400.3Q126.5 400.7 126.9 401.4M160.4 340.8Q162.5 342.1 164.3 343.8M53.6 475.1C49.8 482.4 44 484.3 38.3 488.3M86.1 510.9C72.4 516 62.1 514.5 48.2 516.2M141.6 478.8C140.8 467.2 143.9 453.7 140.8 444.6M140.8 444.6C133.9 433.4 123.9 437.4 115.2 429.1M141.1 487.7C127.3 482.5 108 488 91.4 496.6M10.7 491.6C5.8 484.2 -1.4 474.6 -3 463.8M-3 463.8C3.8 450.6 23.3 453.5 28.8 443.9M48.2 516.2C44.2 519.5 42.7 528 37.2 529.7M222.2 350.7Q224.9 351.4 227.6 352.1M175.4 409.1C182.7 407 192 400.6 199.2 395.5M238.7 354.7Q232.7 355.1 227.6 352.1M292.3 253.8C291.2 258.9 282.8 260 280.2 266.3M302.5 290.2C294.9 292 291.8 281.3 284.1 278.7M260.3 251.8Q263.1 256.7 265.1 261.9M280.2 266.3C274.7 265.8 269.6 261.2 265.1 261.9M164.3 343.8C182.2 340 189.1 327.1 205.2 324M186.6 302.7C195.7 301.5 203.9 302.7 208.6 307.5M448.6 361.9C455.5 370.9 461.1 380.2 469.9 385.1M422.2 381.6Q425 384.5 428.1 387.1M468.9 405.2C470.9 397.7 469 392.9 469.9 385.1M468.9 405.2C464.3 406.4 461.1 409.9 455.7 408.8M432.9 558.7C440.2 558.9 449.5 565.4 456.1 562.3M427.2 551.5Q425.9 551.5 424.7 551.1M295.6 371C298.2 363.9 311.4 362 311.9 354.2M295.6 371C297.8 383.3 292.4 395.6 301.1 407.3M329.1 402.9C318.9 399.8 309.2 403.9 301.1 407.3M348.5 361.6C349.4 370.5 345.1 378.1 351.2 385.1M349.9 383.4Q350.7 384.2 351.2 385.1M299.9 319.3C289.3 317.1 280.3 322.1 268 322.4M302.6 321.2C300.6 334.4 309.6 343.6 311.9 354.2M263.6 336.8C264.9 333.1 265.1 325.9 268 322.4M364.4 422.5C364 409 359.6 392.1 349.9 383.4M347.1 434.5C343.5 425.7 338.8 413.4 329.1 402.9M358.4 349.4C358.1 355.6 350.1 355.9 348.5 361.6M377.9 251.5C381.6 245.9 387.6 236.6 387.9 229.5M430.6 256.3Q431.5 251 433 245.8M433 245.8C423.5 240.6 417.4 234.1 414.8 224.6M381.6 217.1C384.8 221.2 387.3 224.9 387.9 229.5M28.8 443.9Q30 440.5 32.6 438M45.1 440.8C41.2 438.6 35.7 440.8 32.6 438M459.4 193.7Q456.9 192 454.2 190.6M433 245.8C440.5 236.4 453.1 234.6 455.6 222.5M419.2 195Q418.1 196.7 418.4 198.7M383.6 132.9C386.3 141.5 397.4 151.1 395.7 162.9M444.7 162.2C436.6 166.7 426 167.8 419 171.2M454.2 190.6C445.5 200 427.6 190.3 419.2 195M381.6 217.1C389 210.8 389.7 203 396.3 196.6M420.9 210.4Q420.5 204.4 418.4 198.7M311.7 127.2C319.1 126 326.3 118.2 333.3 118M304.2 139.8C306 134.8 310.3 131.2 311.7 127.2M183 86.9C178.1 87.2 173.8 89.6 170.1 91.8M321.7 445.1C310.2 442.5 306.3 429.3 292.8 424.2M347.1 434.5Q347.5 436.5 346.1 437.9M110.3 564.3Q108.5 568.9 106.8 573.6M141.9 557.9C147.5 559.4 147.2 566.8 151.4 569.6M261.2 299.2C258.2 290.3 257.1 282.7 250.5 278.2M250.5 278.2C239.8 276.2 234.1 264.2 222.8 271.2M284.1 278.7C278.4 287.3 265.3 290 261.2 299.2M265.1 261.9C260.4 265.8 252.2 272.1 250.5 278.2M208.6 307.5C211.1 302.1 218.9 302.5 221.8 299.5M221.2 271Q222 271.1 222.8 271.2M475.9 447.4Q471.7 449.2 467.6 451.2M482.2 492.1C479.7 488.9 475.8 486.5 471.7 484.7M471.7 484.7C467.8 476.7 469.3 462.9 467.6 451.2M467.6 451.2C462.1 448 458.5 445.9 452.6 447M405.6 482.5C401.5 477.2 402 468.2 406.1 462.4M405.6 482.5C411.1 490.1 423.2 494.2 433.2 500M452.6 447Q453 446.7 453.3 446.2M453.3 446.2C451.5 454.8 444.1 462.3 441.9 471.4M426.9 419.7C426.1 428.2 427.8 435.1 428.3 441.2M428.3 441.2C424.6 448.6 410.7 450.9 405.1 458.7M390.2 424.8Q390 420.8 392.3 417.5M390.2 424.8C390 433.7 394.3 444.9 395.7 452.5M453.3 446.2C445.4 451.3 436.1 438.2 428.3 441.2M406.1 462.4Q404.8 460.7 405.1 458.7M356.4 453.9C366.1 453.6 371.6 453.8 379.5 458.9M343.7 506.8C343.4 502.3 343.4 496.2 341.9 492.4M379.5 458.9C373 464.6 369.2 476.7 368.9 486.9M341.9 492.4C350.3 490 361.9 487.8 368.9 486.9M433.9 538.1C431.7 542.6 429.8 547.6 427.2 551.5M164.8 230.4C155.5 244.6 147 254.8 136.4 266.7M154 285.6C148.9 276.9 138.5 276.8 136.4 266.7M130.5 33.7C140.5 35.9 148 44.8 156.8 41.4M68.8 56.9Q73.1 52.3 73.2 46M127.7 44.3C121.4 47.2 113 57.1 103 56.7M45.1 10.4C51.4 10.7 58.7 6.1 64.2 9.1M64.2 9.1C74.1 19.2 77 29.2 74.3 42.7M5.4 364.6C6.5 374.2 -0.3 380.6 3.3 388.4M106.1 19.2C109.5 11.6 108.6 -3.1 113.6 -10.9M78.2 -2.6Q78.1 -2.1 77.7 -1.8M134.2 28C131.7 19.2 135.1 6.2 132.2 -6.2M152.5 104.7C151.1 111.6 154.6 122.4 153 131.5M124.1 126.9Q120.7 123.7 118.4 119.7M152.1 73.8C152.2 85.5 145.4 91.9 136.4 97.5M395.3 494.6C397.4 500.4 398.6 510.5 403.8 516.7M425.1 511.3C418.5 514.6 409.1 514.7 403.8 516.7M96.3 283.1C92.4 275.1 84.8 274.3 79.5 272.4M23.9 427.7C27.8 412.7 43.1 410.1 46.3 394.9M232.8 2.2C235.6 9.9 242.8 18.4 250 26.4M233.9 -2Q232.9 0 232.8 2.2M67.9 401.4Q71.9 402.9 76.2 403.3M84.4 430.2C82.1 420 77.6 413.7 76.2 403.3"/>
<use href="#m3p1" stroke-width="2.8" opacity="0.6" stroke-dasharray="4 41 3 59"/>
<use href="#m3p2" stroke-width="3.2" opacity="0.7" stroke-dasharray="5 31 3 43"/>
<use href="#m3p3" stroke-width="3.6" opacity="0.8" stroke-dasharray="6 25 4 37"/>
<path d="M228.1 145h1.1M298 541.5h0.3M392.2 288.4h0.8M227.6 78.4h0.4M345.4 389.2h0.7M246.4 229.6h0.7M102.4 483.6h0.9M293.1 369.1h0.5M62 339.1h0.9M324.3 199.8h0.6M365.5 158.9h0.4M140 58.3h0.9M430.7 473.6h0.8M454.8 311.3h0.7M237.4 515.4h0.5M174.1 118.8h1.1M26.1 111.2h0.4M109.4 108.3h0.5M370.6 352.1h0.6M31.7 269.4h0.3M383.6 561.1h0.7M273.4 164h1.1M1.7 291.3h1M233 70h0.6M63.8 186h0.7M149 263.4h1.1M139.5 269.5h0.7M60 64.2h0.3M56.4 502.4h0.3M342.9 506.4h0.9M28.1 435.9h0.8M230.6 516.1h0.3M137.8 430.6h1.2M462.9 104.4h0.7M110 551.9h1.4M382.5 170.8h0.4M341.4 299.4h0.6M435.1 486.9h1M234.9 408.6h1.3M69.4 155.5h0.4M9.9 163.2h1.4M237.7 468.3h1.1M291.2 426.5h1.3M129.1 473h0.3M118.5 147.4h1M316.4 22.1h0.6M239.1 117.5h1M405.6 53.5h1M161.7 444.4h1.2M257.8 428.4h0.9M21.9 442.2h1M153.7 124.7h0.5M3.3 547.9h0.7M395.6 228.4h0.5M135.5 552.6h0.7M48.6 217.3h0.3M335.4 252.7h1.1M276.9 80h0.8M427.2 537.9h0.5M314.6 58.1h1.4M117.5 234.1h1M396.1 572h1.1M253.3 451.3h0.4M355.1 145.6h1M437.6 90.1h1.1M237.2 283h0.7M252.1 256.1h0.7M89.8 21.9h0.6M181.4 202.9h0.9M358.2 398.9h1.1M410.3 345.3h0.9M388.1 141.1h0.6M4.9 426.7h0.9M152.5 137.5h1M119.6 20.6h1.4M155.5 6.9h0.5M65.8 485.2h1.3M167.8 506.6h0.5M235.5 416.7h1M395.8 550.7h0.4M436.9 471.3h0.7M185.4 373.5h0.4M19 24.2h0.7M377.3 442.3h1M434.5 444h1.2M337.2 415.8h0.8M438.8 172.3h0.9M136.1 221.4h1M425.7 245.4h0.4M199.3 445.7h0.4M262.7 224.9h0.6M4.9 33.5h1.2M385.4 28.7h1.3M141.1 206.8h1.3M379.2 185.8h0.4M217.1 550.8h0.7M21 189.9h0.4M455.3 450.5h0.9M83.5 575.4h0.7M263.7 373.8h0.7M333.3 433.2h0.4M455.9 458.6h1.2M48.8 185.1h0.7M230.1 151.1h0.7M92.8 190h1.2M412.9 550.4h1.3M289.9 570.3h1M405.4 186.7h0.8M40.6 383.6h0.5M37.5 505.8h1.3M363.4 461.5h0.3M117.3 422.1h0.6M15.6 138.2h1.4M344.1 337.7h0.5M184.2 152.5h1.4M386.9 22.9h0.8M65.9 151.6h1.3M273.3 528.8h0.9M454 206.2h0.5M274.5 266.1h1M221.6 319.9h0.9M40.7 16.6h0.6M301.3 4.2h1M442.6 125h1.2M128.9 383.4h0.6M258.1 324.2h0.9M431.7 311.6h0.8M222 143.9h1.2M452.7 399.4h0.9M423 46.9h0.5M340.9 266.4h0.5M117.9 546.2h1M278.7 5.9h1.3M386.1 61.5h1.4M397.2 348h0.6M77.4 27h1M92.1 297.7h0.5M156 103.2h0.8M276.3 54.4h0.3M405.9 373.7h1.2M117.2 360h0.8M187.4 184.3h0.5M133.4 75.9h1.4M76.2 293.1h0.8M57.4 277.5h1.3M261.7 538.9h1M165.9 472.8h0.4M384.6 455.8h0.5M166.8 145.9h1M103.8 457.2h0.7M341.7 121.6h1.2M91.6 267h0.5M316 320.4h1.3M441 291.3h0.6M232.5 68.9h0.4M143.6 457.1h0.4M74.3 104h0.8M18.8 213.4h0.6M465.2 99.1h0.9M56 81.7h0.6M126.1 174.4h1.1M272.7 486.9h0.6M39.3 230.3h0.6M294.9 417.7h1.4M216.4 371.2h0.4M176.6 415.8h0.8M420.4 61.8h0.6M302.1 562h1.2M282.8 576.3h0.4M457.7 271.8h0.7M140.7 317h0.6M305.9 16.1h0.7M117.3 557h1.1M66.4 209.9h1.1M217.9 276.2h1M21.3 443h0.6M241 465.6h1.4M434 374.8h1.2M395.9 139.9h1.3M275.5 463h0.7M420.7 82.6h1.3M272.2 564.2h1.1M272.2 324.5h0.3M10.6 86.2h0.8M114.6 151.5h1M120.3 257h1.2M296.3 467.3h1.1M228 294.6h0.7M43.2 565.8h1.2M158 232.6h0.6M37.1 453.6h0.9M318.3 84.5h1.2M41 342.1h0.5M432.1 104.4h1.2M466.3 278.4h1.1M219 344.3h0.9M55.2 389.1h0.7M414 332h1M373.2 239.3h1.3M118.2 367.5h1.2M156.9 274.3h1.1M77.1 579.4h0.5M241.6 442.2h0.9M307.5 49h0.5M278.2 405.9h1.2M316.5 471.1h1M300 119.2h0.5M178.6 27.7h1.4M117.8 527.2h1M146.3 467.7h1M245.5 560.3h0.8M430.5 356.5h0.6M254.9 345.6h1M240.4 444.4h0.3M27.8 239.4h0.6M430.1 79.6h0.5M192.2 283.7h0.6M191.3 117.9h0.8M90.7 474.1h0.8M20.1 256.3h1.1M24.1 31.3h0.9M180.3 105h0.9M34.3 280.5h0.4M152.4 43.2h0.6M210 450.8h0.5M174.3 217.5h1.2M47.3 416.3h1.2M459.1 285.6h1.1M393.9 51h0.8M281.8 455.5h0.5M182 406.4h0.9M292.7 288.9h0.8M399.1 163.2h0.5M256.7 368.5h1.1M303.8 343.3h0.8M461 229.2h0.3M85.4 445.1h0.5M412 479.9h0.9M364.5 113.3h0.7M295.6 331.7h0.6M149.2 245.2h0.4M466.1 243.8h0.4M279.2 271h0.7M407 111.9h0.4M383.4 578.8h1.2M341.3 58.1h1.4M16.9 366.3h1.2M3.3 286.4h0.8M331.9 494.6h0.9M436.1 570.7h0.5M244.4 547.1h0.4M340.6 280.1h1.1M84.4 124.8h1.2M148 32.2h1M76.4 284.8h1.3M241.2 530.3h1.1M379.6 362.1h0.5M225.2 576.2h0.7M356.5 23.9h0.3M110.8 361.8h1.3M69.3 353.7h0.4M197.7 15.7h1.1M171.1 133h0.3M228.9 128.5h1.3M257.7 107.4h0.4M250.7 60.1h0.9M141.7 182.3h1.4M167.4 156.7h1.4M423.5 389h1.2M399.2 468.8h0.5M400.5 50.1h1.4M20.6 106h0.6M197.6 138.8h1M283.9 72.9h0.6M37.4 568.2h1.3M309.6 104.6h0.4M230.2 146.6h1.1M343.6 411.8h1.3M68.6 460.2h1M302.6 495.8h0.6M103 98.7h1.3M424.4 250.4h1.3M62.1 500.3h0.9M76.9 467.3h1.3M157.8 315.1h0.3M318.1 158.8h1.3M131.7 391.8h0.6M154 358.1h0.4M377.1 517.4h1.3M232.2 419.6h0.7M456 96.3h1.1M64.8 296.2h1.1M123.3 464.8h1.3M238.8 559.3h0.3M168.5 26.8h0.7M311.7 340.1h1.4M321.5 381.7h0.6M371.3 437.4h0.4M400 308.8h0.9M409.6 101.9h1M84.8 419h1.3M422.2 86.6h1.1M383.2 579.2h1.1M196.8 143h0.3M90.9 486.5h1.3M349.3 58.2h1.3M109.1 64.1h0.4M53.8 327.1h1.2M88.1 230.8h0.7M293.3 471.5h0.6M28.1 535.9h1.1M337.6 183.6h0.5M89.2 28.7h0.9M244.8 101h1.1M165.1 53.6h0.6M5.4 347.5h0.5M74.7 111.4h1.2M203.4 22.5h1M45.2 241.6h0.5M244.6 442.2h1.3M103.5 132.7h0.4M72.2 480.7h1.3M314.6 185.4h1M356.3 269.4h0.9M281.3 238.1h0.8M378.3 123.9h0.9M74.7 541.2h1.4M321.3 341.3h1.2M468.9 533.1h1.1M359.4 162.5h0.6M94.7 245.3h0.6M160.7 528.3h0.7M123.3 177.3h1M418.1 104.3h1.4M302.8 130.9h1.3M284.4 320.1h1M252 532.7h0.6M434.9 330.7h1.2M459.9 272.4h0.4M200.9 514h1.2M333.1 242.2h1M389.3 463.6h1M318.4 424.4h0.9M407.2 434.1h0.4M95.7 379.8h1.2M4.8 342h1.2M69.9 173.2h1.4M95.1 519.3h1M212.3 400.9h0.4M224.1 353.6h1M102.7 500.2h0.6M220.6 98.2h1.1M325.9 120.1h0.5M322.6 246.1h0.3M207.2 569.3h0.4M355.7 388.9h0.7M9.1 221.3h1.1M26.5 455.7h0.5M144.8 179.9h0.6M50.6 87.5h0.9M245.4 390.6h1.1M338.2 574.6h0.8M337.8 124.4h1M59.3 256.7h0.7M136.1 222.9h0.4M360.4 325h1M301.4 72.1h0.9M220.3 151.3h1.1M88.4 502h0.3M282.5 291.5h1.1M319.1 23.5h1.4M461.5 209.3h1.4M141.6 155.2h1.3M248.1 189.8h0.5M8.7 235.9h1.1M320 182.9h0.9M459.1 140.8h0.5M10.1 118.7h0.5M450.8 422.3h0.5M106.9 84.1h1M443.4 35.7h1.3M451.8 380.1h0.6M26.5 553.4h0.9M407.8 421.9h0.3M329.8 265.8h0.9M19.2 206h0.7M191.8 45.5h0.9M279.5 223.7h1M30.6 147.9h0.5M468.7 212.1h0.7M114.9 500.9h0.4M264.7 465.4h1.4M125 483.3h0.6M118.6 307.8h1.2M321.3 206.1h0.5M456.3 253.7h0.3M111.4 308.8h1.2M431.9 101.8h0.4M58.4 317h1.4M320.2 125.6h0.8M23.9 47.6h1M384.6 477.1h0.3M55.2 28h1.1M286.8 325.3h0.9M108.4 540.1h1.1M256.6 552.7h1.3M64.9 151.2h0.4M422.1 443.6h1.2M117.7 331.8h1.3M18.9 377.2h1.2M413.1 134.1h1.2M351 285.5h0.4M257.6 302.1h0.4M183.9 201h0.4M219.9 535.3h0.5M459 469h0.6M420.3 470.3h1.1M311.1 14.3h1.3M218.1 202.6h0.4M219 503.5h1M117.1 524.4h0.3M194.1 359.9h0.7M101.5 169.6h0.6M348.9 161h0.6M441.9 490.8h0.3M461.4 136.9h1.1M463.6 460.1h0.6M253.9 69.6h0.8M301 192h1M111.2 553.3h0.4M427.4 447.9h1.4M367.5 78.1h1.2M245.4 16.3h1.2M29.2 348.5h1.1M330.6 111h0.5M374.5 140.2h0.5M108.3 51.5h1.3M120 481.1h1.3M438 54.6h0.4M321.7 144.5h1.1M421.3 382.9h0.5M429.3 420h1.2M155.6 96.3h0.4M24 307.3h1.2M442.9 501.9h1.2M55.5 286.6h0.7M232.2 127.6h0.8M440.6 106.1h1.4M405.6 162.5h1.1M363.5 465.5h0.6M432 547.7h1.1M430.4 502.7h0.6M437.2 158.8h1.3M236.3 500.2h1.2M5.1 442.7h1.2M259.6 566.5h0.7M134.7 271.9h1M350.9 128.5h0.7M218.9 539.4h1.2M95.2 229.5h0.6M179.4 160.3h0.7M358.5 46.9h1.2M271.2 365.7h1.1M82.8 227.8h0.4M319.6 493.7h0.8M83.7 191.6h1.3M153.7 456.7h0.5M303 467.9h1.3M36.8 93.1h1.1M421.3 285h1M0.3 262.6h1.4M173.2 336.5h0.5M260.5 480.9h0.4M363.4 196.8h1.1M278.6 286.9h1M346.6 560.4h0.9M431.3 229h1M137.2 323.2h1.2M349 229.7h0.4M280.4 324.8h1.3M154.3 317h1.4M299.2 454.3h1M402 295.5h1.4M217.4 320.5h0.6M355.9 255.5h0.4M425.9 254.3h1.3M407.9 448.9h0.8M162.6 319h0.5M113.2 119.1h0.4M274.7 326.4h0.7M230.1 415h0.6M251.7 195.4h1M214.5 103.7h1M174 13.7h0.9M87.2 30.6h1M165.3 350.2h1.1M102.2 222.3h1.1M11.4 276h0.8M370.7 505.2h0.6M161.7 482h1.1" stroke="#262626" stroke-width="2.0" opacity="0.55"/>
</g>
<rect width="100%" height="100%" filter="url(#m3n)" opacity="0.03"/>
<rect width="100%" height="100%" fill="url(#m3h)"/>
<rect width="100%" height="100%" fill="url(#m3v)"/>
</svg>
<rect x="1128.8" y="12.9" width="77.2" height="60.6" fill="#fff" stroke="#0a0a0a" stroke-width="1.4"/>
<text transform="translate(1149.1 57.6) scale(0.693 1)" font-family='"Liberation Serif", "Noto Serif CJK SC", serif' font-size="51.36" fill="#111">3#</text>
<rect x="1536" y="521" width="46.4" height="48.3" fill="#fff"/>
<text transform="translate(1543.79 551.5) scale(0.597 1)" font-family='"Liberation Serif", "Noto Serif CJK SC", serif' font-size="20" fill="#222">10 µm</text>
<rect x="1540" y="554.2" width="38.3" height="2.9" fill="#0a0a0a"/>
<g>
<g fill="#ffcc99" stroke="#111" stroke-width="1.9">
<rect x="60.42" y="1123.4" width="39.2" height="11.6"/>
<rect x="110.86" y="1043.45" width="39.2" height="91.55"/>
<rect x="161.3" y="797.33" width="39.2" height="337.67"/>
<rect x="211.74" y="711.28" width="39.2" height="423.72"/>
<rect x="262.18" y="692.77" width="39.2" height="442.23"/>
<rect x="312.62" y="766.61" width="39.2" height="368.39"/>
<rect x="363.06" y="1012.74" width="39.2" height="122.26"/>
<rect x="413.5" y="1068.07" width="39.2" height="66.93"/>
<rect x="463.94" y="1055.86" width="39.2" height="79.14"/>
<rect x="514.38" y="1117.29" width="39.2" height="17.71"/>
</g>
<path d="M54.8 641.5H559.2V1135H54.8ZM54.8 1085.65h3.6M54.8 1036.3h6.3M54.8 986.95h3.6M54.8 937.6h6.3M54.8 888.25h3.6M54.8 838.9h6.3M54.8 789.55h3.6M54.8 740.2h6.3M54.8 690.85h3.6M80.02 1135v-9.6M105.24 1135v-4.6M130.46 1135v-9.6M155.68 1135v-4.6M180.9 1135v-9.6M206.12 1135v-4.6M231.34 1135v-9.6M256.56 1135v-4.6M281.78 1135v-9.6M307 1135v-4.6M332.22 1135v-9.6M357.44 1135v-4.6M382.66 1135v-9.6M407.88 1135v-4.6M433.1 1135v-9.6M458.32 1135v-4.6M483.54 1135v-9.6M508.76 1135v-4.6M533.98 1135v-9.6" fill="none" stroke="#222" stroke-width="2" stroke-linejoin="miter"/>
<g font-family='"Liberation Serif", "Noto Serif CJK SC", serif' font-size="24" fill="#444" stroke="#444" stroke-width="0.25">
<text transform="translate(46.6 1144.5) scale(0.74 1)" x="-12.03">0</text>
<text transform="translate(46.6 1045.8) scale(0.74 1)" x="-12.03">5</text>
<text transform="translate(46.6 947.1) scale(0.74 1)" x="-24.05 -12.03">10</text>
<text transform="translate(46.6 848.4) scale(0.74 1)" x="-24.05 -12.03">15</text>
<text transform="translate(46.6 749.7) scale(0.74 1)" x="-24.05 -12.03">20</text>
<text transform="translate(46.6 651) scale(0.74 1)" x="-24.05 -12.03">25</text>
</g>
<g font-family='"Liberation Serif", "Noto Serif CJK SC", serif' font-size="22.5" fill="#444" stroke="#444" stroke-width="0.3">
<g transform="translate(96.42 1152.4) scale(0.85 1) rotate(-45) scale(0.86 1)"><text x="-60.47">0</text><text transform="translate(-48.86 -1.2) scale(1.6 0.8)">-</text><text x="-36.28 -22.73 -12.09">1.7</text></g>
<g transform="translate(146.86 1152.4) scale(0.85 1) rotate(-45) scale(0.86 1)"><text x="-84.65 -71.11 -60.47">1.7</text><text transform="translate(-48.86 -1.2) scale(1.6 0.8)">-</text><text x="-36.28 -22.73 -12.09">3.4</text></g>
<g transform="translate(197.3 1152.4) scale(0.85 1) rotate(-45) scale(0.86 1)"><text x="-84.65 -71.11 -60.47">3.4</text><text transform="translate(-48.86 -1.2) scale(1.6 0.8)">-</text><text x="-36.28 -22.73 -12.09">5.1</text></g>
<g transform="translate(247.74 1152.4) scale(0.85 1) rotate(-45) scale(0.86 1)"><text x="-84.65 -71.11 -60.47">5.1</text><text transform="translate(-48.86 -1.2) scale(1.6 0.8)">-</text><text x="-36.28 -22.73 -12.09">6.8</text></g>
<g transform="translate(298.18 1152.4) scale(0.85 1) rotate(-45) scale(0.86 1)"><text x="-84.65 -71.11 -60.47">6.8</text><text transform="translate(-48.86 -1.2) scale(1.6 0.8)">-</text><text x="-36.28 -22.73 -12.09">8.5</text></g>
<g transform="translate(348.62 1152.4) scale(0.85 1) rotate(-45) scale(0.86 1)"><text x="-96.74 -83.2 -72.56">8.5</text><text transform="translate(-60.95 -1.2) scale(1.6 0.8)">-</text><text x="-48.37 -36.28 -22.73 -12.09">10.2</text></g>
<g transform="translate(399.06 1152.4) scale(0.85 1) rotate(-45) scale(0.86 1)"><text x="-108.84 -96.74 -83.2 -72.56">10.2</text><text transform="translate(-60.95 -1.2) scale(1.6 0.8)">-</text><text x="-48.37 -36.28 -22.73 -12.09">11.9</text></g>
<g transform="translate(449.5 1152.4) scale(0.85 1) rotate(-45) scale(0.86 1)"><text x="-108.84 -96.74 -83.2 -72.56">11.9</text><text transform="translate(-60.95 -1.2) scale(1.6 0.8)">-</text><text x="-48.37 -36.28 -22.73 -12.09">13.6</text></g>
<g transform="translate(499.94 1152.4) scale(0.85 1) rotate(-45) scale(0.86 1)"><text x="-108.84 -96.74 -83.2 -72.56">13.6</text><text transform="translate(-60.95 -1.2) scale(1.6 0.8)">-</text><text x="-48.37 -36.28 -22.73 -12.09">15.3</text></g>
<g transform="translate(550.38 1152.4) scale(0.85 1) rotate(-45) scale(0.86 1)"><text x="-84.65 -72.56 -59.01 -48.37">15.3</text><text transform="translate(-36.76 -1.2) scale(1.6 0.8)">-</text><text x="-24.19 -12.09">17</text></g>
</g>
<g font-family='"Liberation Serif", "Noto Serif CJK SC", serif' font-size="26" fill="#222" stroke="#222" stroke-width="0.3">
<text transform="translate(80.22 1118.9) scale(0.75 1)" x="-27.87 -12.26 0 13.93">0.63</text>
<text transform="translate(130.66 1038.95) scale(0.75 1)" x="-27.87 -12.26 0 13.93">4.69</text>
<text transform="translate(181.1 792.83) scale(0.75 1)" x="-34.83 -20.9 -5.29 6.97 20.9">17.19</text>
<text transform="translate(231.54 706.78) scale(0.75 1)" x="-34.83 -20.9 -5.29 6.97 20.9">21.56</text>
<text transform="translate(281.98 688.27) scale(0.75 1)" x="-27.87 -13.93 1.67 13.93">22.5</text>
<text transform="translate(332.42 762.11) scale(0.75 1)" x="-34.83 -20.9 -5.29 6.97 20.9">18.75</text>
<text transform="translate(382.86 1008.24) scale(0.75 1)" x="-27.87 -12.26 0 13.93">6.25</text>
<text transform="translate(433.3 1063.57) scale(0.75 1)" x="-27.87 -12.26 0 13.93">3.44</text>
<text transform="translate(483.74 1051.36) scale(0.75 1)" x="-27.87 -12.26 0 13.93">4.06</text>
<text transform="translate(534.18 1112.79) scale(0.75 1)" x="-27.87 -12.26 0 13.93">0.94</text>
</g>
<rect x="446.5" y="650.7" width="102.6" height="39.3" rx="1.6" fill="#fff" stroke="#6e6e6e" stroke-width="1.2"/>
<rect x="450.5" y="655.9" width="46" height="27.3" rx="1.2" fill="#ffcc99" stroke="#151515" stroke-width="1.6"/>
<text transform="translate(504.3 679.7) scale(0.77 1)" font-family='"Liberation Serif", "Noto Serif CJK SC", serif' font-size="29" fill="#1a1a1a" stroke="#1a1a1a" stroke-width="0.55">1#-4</text>
<text transform="translate(19.4 887.4) rotate(-90) scale(1.085 1)" text-anchor="middle" font-family='"Liberation Serif", "Noto Serif CJK SC", serif' font-size="21.8" font-weight="bold" fill="#1a1a1a">Proportion/%</text>
<text transform="translate(311.8 1232.3) scale(0.8 1)" text-anchor="middle" font-family='"Liberation Serif", "Noto Serif CJK SC", serif' font-size="26" fill="#1a1a1a">Grain size/µm</text>
</g>
<g>
<g fill="#ffcc99" stroke="#1a1a1a" stroke-width="1.6">
<rect x="637.13" y="1056.03" width="39.2" height="81.67"/>
<rect x="687.79" y="934.35" width="39.2" height="203.35"/>
<rect x="738.45" y="710.72" width="39.2" height="426.98"/>
<rect x="789.11" y="828.48" width="39.2" height="309.22"/>
<rect x="839.77" y="961.92" width="39.2" height="175.78"/>
<rect x="890.43" y="1059.95" width="39.2" height="77.75"/>
<rect x="941.09" y="1122.82" width="39.2" height="14.88"/>
<rect x="991.75" y="1130.66" width="39.2" height="7.04"/>
<rect x="1093.07" y="1134.58" width="39.2" height="3.12"/>
</g>
<path d="M631.4 646.3H1138V1137.7H631.4ZM631.4 1105h3.6M631.4 1072.3h6.3M631.4 1039.6h3.6M631.4 1006.9h6.3M631.4 974.2h3.6M631.4 941.5h6.3M631.4 908.8h3.6M631.4 876.1h6.3M631.4 843.4h3.6M631.4 810.7h6.3M631.4 778h3.6M631.4 745.3h6.3M631.4 712.6h3.6M631.4 679.9h6.3M656.73 1137.7v-9.6M682.06 1137.7v-4.6M707.39 1137.7v-9.6M732.72 1137.7v-4.6M758.05 1137.7v-9.6M783.38 1137.7v-4.6M808.71 1137.7v-9.6M834.04 1137.7v-4.6M859.37 1137.7v-9.6M884.7 1137.7v-4.6M910.03 1137.7v-9.6M935.36 1137.7v-4.6M960.69 1137.7v-9.6M986.02 1137.7v-4.6M1011.35 1137.7v-9.6M1036.68 1137.7v-4.6M1062.01 1137.7v-9.6M1087.34 1137.7v-4.6M1112.67 1137.7v-9.6" fill="none" stroke="#2a2a2a" stroke-width="1.8" stroke-linejoin="miter"/>
<g font-family='"Liberation Serif", "Noto Serif CJK SC", serif' font-size="23" fill="#444" stroke="#444" stroke-width="0.25">
<text transform="translate(622.4 1147) scale(0.74 1)" x="-12.03">0</text>
<text transform="translate(622.4 1081.6) scale(0.74 1)" x="-12.03">5</text>
<text transform="translate(622.4 1016.2) scale(0.74 1)" x="-24.05 -12.03">10</text>
<text transform="translate(622.4 950.8) scale(0.74 1)" x="-24.05 -12.03">15</text>
<text transform="translate(622.4 885.4) scale(0.74 1)" x="-24.05 -12.03">20</text>
<text transform="translate(622.4 820) scale(0.74 1)" x="-24.05 -12.03">25</text>
<text transform="translate(622.4 754.6) scale(0.74 1)" x="-24.05 -12.03">30</text>
<text transform="translate(622.4 689.2) scale(0.74 1)" x="-24.05 -12.03">35</text>
</g>
<g font-family='"Liberation Serif", "Noto Serif CJK SC", serif' font-size="22.5" fill="#444" stroke="#444" stroke-width="0.3">
<g transform="translate(668.23 1154.2) scale(0.85 1) rotate(-45) scale(0.86 1)"><text x="-60.47">2</text><text transform="translate(-48.86 -1.2) scale(1.6 0.8)">-</text><text x="-36.28 -22.73 -12.09">3.3</text></g>
<g transform="translate(718.89 1154.2) scale(0.85 1) rotate(-45) scale(0.86 1)"><text x="-84.65 -71.11 -60.47">3.3</text><text transform="translate(-48.86 -1.2) scale(1.6 0.8)">-</text><text x="-36.28 -22.73 -12.09">4.6</text></g>
<g transform="translate(769.55 1154.2) scale(0.85 1) rotate(-45) scale(0.86 1)"><text x="-84.65 -71.11 -60.47">4.6</text><text transform="translate(-48.86 -1.2) scale(1.6 0.8)">-</text><text x="-36.28 -22.73 -12.09">5.9</text></g>
<g transform="translate(820.21 1154.2) scale(0.85 1) rotate(-45) scale(0.86 1)"><text x="-84.65 -71.11 -60.47">5.9</text><text transform="translate(-48.86 -1.2) scale(1.6 0.8)">-</text><text x="-36.28 -22.73 -12.09">7.2</text></g>
<g transform="translate(870.87 1154.2) scale(0.85 1) rotate(-45) scale(0.86 1)"><text x="-84.65 -71.11 -60.47">7.2</text><text transform="translate(-48.86 -1.2) scale(1.6 0.8)">-</text><text x="-36.28 -22.73 -12.09">8.5</text></g>
<g transform="translate(921.53 1154.2) scale(0.85 1) rotate(-45) scale(0.86 1)"><text x="-84.65 -71.11 -60.47">8.5</text><text transform="translate(-48.86 -1.2) scale(1.6 0.8)">-</text><text x="-36.28 -22.73 -12.09">9.8</text></g>
<g transform="translate(972.19 1154.2) scale(0.85 1) rotate(-45) scale(0.86 1)"><text x="-96.74 -83.2 -72.56">9.8</text><text transform="translate(-60.95 -1.2) scale(1.6 0.8)">-</text><text x="-48.37 -36.28 -22.73 -12.09">11.1</text></g>
<g transform="translate(1022.85 1154.2) scale(0.85 1) rotate(-45) scale(0.86 1)"><text x="-108.84 -96.74 -83.2 -72.56">11.1</text><text transform="translate(-60.95 -1.2) scale(1.6 0.8)">-</text><text x="-48.37 -36.28 -22.73 -12.09">12.4</text></g>
<g transform="translate(1073.51 1154.2) scale(0.85 1) rotate(-45) scale(0.86 1)"><text x="-108.84 -96.74 -83.2 -72.56">12.4</text><text transform="translate(-60.95 -1.2) scale(1.6 0.8)">-</text><text x="-48.37 -36.28 -22.73 -12.09">13.7</text></g>
<g transform="translate(1124.17 1154.2) scale(0.85 1) rotate(-45) scale(0.86 1)"><text x="-84.65 -72.56 -59.01 -48.37">13.7</text><text transform="translate(-36.76 -1.2) scale(1.6 0.8)">-</text><text x="-24.19 -12.09">15</text></g>
</g>
<g font-family='"Liberation Serif", "Noto Serif CJK SC", serif' font-size="28" fill="#222" stroke="#222" stroke-width="0.3">
<text transform="translate(656.93 1051.63) scale(0.75 1)" x="-27.87 -12.26 0 13.93">6.31</text>
<text transform="translate(707.59 929.95) scale(0.75 1)" x="-34.83 -20.9 -5.29 6.97 20.9">15.62</text>
<text transform="translate(758.25 706.32) scale(0.75 1)" x="-34.83 -20.9 -5.29 6.97 20.9">32.73</text>
<text transform="translate(808.91 824.08) scale(0.75 1)" x="-34.83 -20.9 -5.29 6.97 20.9">23.72</text>
<text transform="translate(859.57 957.52) scale(0.75 1)" x="-34.83 -20.9 -5.29 6.97 20.9">13.51</text>
<text transform="translate(910.23 1055.55) scale(0.75 1)" x="-27.87 -12.26 0 13.93">6.01</text>
<text transform="translate(960.89 1118.42) scale(0.75 1)" x="-20.9 -5.29 6.97">1.2</text>
<text transform="translate(1011.55 1126.26) scale(0.75 1)" x="-20.9 -5.29 6.97">0.6</text>
<text transform="translate(1062.21 1134.1) scale(0.75 1)" x="-6.97">0</text>
<text transform="translate(1112.87 1130.18) scale(0.75 1)" x="-20.9 -5.29 6.97">0.3</text>
</g>
<rect x="1032.9" y="664.8" width="101.9" height="31.8" rx="1.6" fill="#fff" stroke="#6e6e6e" stroke-width="1.2"/>
<rect x="1036.8" y="667.8" width="40.9" height="24.7" rx="1.2" fill="#ffcc99" stroke="#151515" stroke-width="1.6"/>
<text transform="translate(1089 690) scale(0.8 1)" font-family='"Liberation Serif", "Noto Serif CJK SC", serif' font-size="26" fill="#1a1a1a" x="0 13 28.21 39">2#-4</text>
<text transform="translate(595.9 891) rotate(-90) scale(1.065 1)" text-anchor="middle" font-family='"Liberation Serif", "Noto Serif CJK SC", serif' font-size="21.8" font-weight="bold" fill="#1a1a1a">Proportion/%</text>
<text transform="translate(856.8 1231.2) scale(0.8 1)" text-anchor="middle" font-family='"Liberation Serif", "Noto Serif CJK SC", serif' font-size="26" fill="#1a1a1a">Grain size/µm</text>
</g>
<g>
<g fill="#ffd294" stroke="#262626" stroke-width="1.5">
<rect x="1207.56" y="1122.04" width="40.3" height="13.36"/>
<rect x="1258.98" y="1042.12" width="40.3" height="93.28"/>
<rect x="1310.4" y="872.78" width="40.3" height="262.62"/>
<rect x="1361.82" y="755.22" width="40.3" height="380.18"/>
<rect x="1413.24" y="708.27" width="40.3" height="427.13"/>
<rect x="1464.66" y="891.59" width="40.3" height="243.81"/>
<rect x="1516.08" y="915.07" width="40.3" height="220.33"/>
<rect x="1567.5" y="1060.94" width="40.3" height="74.46"/>
<rect x="1618.92" y="1079.75" width="40.3" height="55.65"/>
<rect x="1670.34" y="1122.04" width="40.3" height="13.36"/>
</g>
<path d="M1202 642.8H1716.2V1135.4H1202ZM1202 1090.6h3.6M1202 1045.8h6.3M1202 1001h3.6M1202 956.2h6.3M1202 911.4h3.6M1202 866.6h6.3M1202 821.8h3.6M1202 777h6.3M1202 732.2h3.6M1202 687.4h6.3M1227.71 1135.4v-9.6M1253.42 1135.4v-4.6M1279.13 1135.4v-9.6M1304.84 1135.4v-4.6M1330.55 1135.4v-9.6M1356.26 1135.4v-4.6M1381.97 1135.4v-9.6M1407.68 1135.4v-4.6M1433.39 1135.4v-9.6M1459.1 1135.4v-4.6M1484.81 1135.4v-9.6M1510.52 1135.4v-4.6M1536.23 1135.4v-9.6M1561.94 1135.4v-4.6M1587.65 1135.4v-9.6M1613.36 1135.4v-4.6M1639.07 1135.4v-9.6M1664.78 1135.4v-4.6M1690.49 1135.4v-9.6" fill="none" stroke="#262626" stroke-width="2" stroke-linejoin="miter"/>
<g font-family='"Liberation Serif", "Noto Serif CJK SC", serif' font-size="22.5" fill="#444" stroke="#444" stroke-width="0.25">
<text transform="translate(1192.6 1144.8) scale(0.74 1)" x="-12.03">0</text>
<text transform="translate(1192.6 1055.2) scale(0.74 1)" x="-12.03">5</text>
<text transform="translate(1192.6 965.6) scale(0.74 1)" x="-24.05 -12.03">10</text>
<text transform="translate(1192.6 876) scale(0.74 1)" x="-24.05 -12.03">15</text>
<text transform="translate(1192.6 786.4) scale(0.74 1)" x="-24.05 -12.03">20</text>
<text transform="translate(1192.6 696.8) scale(0.74 1)" x="-24.05 -12.03">25</text>
</g>
<g font-family='"Liberation Serif", "Noto Serif CJK SC", serif' font-size="22.5" fill="#444" stroke="#444" stroke-width="0.3">
<g transform="translate(1234.91 1152.1) scale(0.85 1) rotate(-45) scale(0.86 1)"><text x="-60.47">1</text><text transform="translate(-48.86 -1.2) scale(1.6 0.8)">-</text><text x="-36.28 -22.73 -12.09">2.1</text></g>
<g transform="translate(1286.33 1152.1) scale(0.85 1) rotate(-45) scale(0.86 1)"><text x="-84.65 -71.11 -60.47">2.1</text><text transform="translate(-48.86 -1.2) scale(1.6 0.8)">-</text><text x="-36.28 -22.73 -12.09">3.2</text></g>
<g transform="translate(1337.75 1152.1) scale(0.85 1) rotate(-45) scale(0.86 1)"><text x="-84.65 -71.11 -60.47">3.2</text><text transform="translate(-48.86 -1.2) scale(1.6 0.8)">-</text><text x="-36.28 -22.73 -12.09">4.3</text></g>
<g transform="translate(1389.17 1152.1) scale(0.85 1) rotate(-45) scale(0.86 1)"><text x="-84.65 -71.11 -60.47">4.3</text><text transform="translate(-48.86 -1.2) scale(1.6 0.8)">-</text><text x="-36.28 -22.73 -12.09">5.4</text></g>
<g transform="translate(1440.59 1152.1) scale(0.85 1) rotate(-45) scale(0.86 1)"><text x="-84.65 -71.11 -60.47">5.4</text><text transform="translate(-48.86 -1.2) scale(1.6 0.8)">-</text><text x="-36.28 -22.73 -12.09">6.5</text></g>
<g transform="translate(1492.01 1152.1) scale(0.85 1) rotate(-45) scale(0.86 1)"><text x="-84.65 -71.11 -60.47">6.5</text><text transform="translate(-48.86 -1.2) scale(1.6 0.8)">-</text><text x="-36.28 -22.73 -12.09">7.6</text></g>
<g transform="translate(1543.43 1152.1) scale(0.85 1) rotate(-45) scale(0.86 1)"><text x="-96.74 -83.2 -72.56">7.6</text><text transform="translate(-60.95 -1.2) scale(1.6 0.8)">-</text><text x="-48.37 -34.83 -24.19 -12.09">8.70</text></g>
<g transform="translate(1594.85 1152.1) scale(0.85 1) rotate(-45) scale(0.86 1)"><text x="-96.74 -83.2 -72.56 -60.47">8.70</text><text transform="translate(-48.86 -1.2) scale(1.6 0.8)">-</text><text x="-36.28 -22.73 -12.09">9.8</text></g>
<g transform="translate(1646.27 1152.1) scale(0.85 1) rotate(-45) scale(0.86 1)"><text x="-96.74 -83.2 -72.56">9.8</text><text transform="translate(-60.95 -1.2) scale(1.6 0.8)">-</text><text x="-48.37 -36.28 -22.73 -12.09">10.9</text></g>
<g transform="translate(1697.69 1152.1) scale(0.85 1) rotate(-45) scale(0.86 1)"><text x="-84.65 -72.56 -59.01 -48.37">10.9</text><text transform="translate(-36.76 -1.2) scale(1.6 0.8)">-</text><text x="-24.19 -12.09">12</text></g>
</g>
<g font-family='"Liberation Serif", "Noto Serif CJK SC", serif' font-size="27.5" fill="#222" stroke="#222" stroke-width="0.3">
<text transform="translate(1227.91 1117.64) scale(0.75 1)" x="-27.87 -12.26 0 13.93">0.79</text>
<text transform="translate(1279.33 1037.72) scale(0.75 1)" x="-27.87 -12.26 0 13.93">5.25</text>
<text transform="translate(1330.75 868.38) scale(0.75 1)" x="-27.87 -13.93 1.67 13.93">14.7</text>
<text transform="translate(1382.17 750.82) scale(0.75 1)" x="-34.83 -20.9 -5.29 6.97 20.9">21.26</text>
<text transform="translate(1433.59 703.87) scale(0.75 1)" x="-34.83 -20.9 -5.29 6.97 20.9">23.88</text>
<text transform="translate(1485.01 887.19) scale(0.75 1)" x="-34.83 -20.9 -5.29 6.97 20.9">13.65</text>
<text transform="translate(1536.43 910.67) scale(0.75 1)" x="-34.83 -20.9 -5.29 6.97 20.9">12.34</text>
<text transform="translate(1587.85 1056.54) scale(0.75 1)" x="-20.9 -5.29 6.97">4.2</text>
<text transform="translate(1639.27 1075.35) scale(0.75 1)" x="-27.87 -12.26 0 13.93">3.15</text>
<text transform="translate(1690.69 1117.64) scale(0.75 1)" x="-27.87 -12.26 0 13.93">0.79</text>
</g>
<rect x="1617.4" y="657.3" width="94.1" height="36.2" rx="1.6" fill="#fff" stroke="#6e6e6e" stroke-width="1.2"/>
<rect x="1621.1" y="662.5" width="42" height="24.2" rx="1.2" fill="#ffd294" stroke="#151515" stroke-width="1.6"/>
<text transform="translate(1669.5 683.5) scale(0.81 1)" font-family='"Liberation Serif", "Noto Serif CJK SC", serif' font-size="25" fill="#1a1a1a" stroke="#1a1a1a" stroke-width="0.4">3#-4</text>
<text transform="translate(1166.6 888.7) rotate(-90) scale(1.065 1)" text-anchor="middle" font-family='"Liberation Serif", "Noto Serif CJK SC", serif' font-size="21.6" font-weight="bold" fill="#1a1a1a">Proportion/%</text>
<text transform="translate(1470.7 1227.7) scale(0.8 1)" text-anchor="middle" font-family='"Liberation Serif", "Noto Serif CJK SC", serif' font-size="26" fill="#1a1a1a">Grain size/µm</text>
</g>
</svg>
</body>
</html>
